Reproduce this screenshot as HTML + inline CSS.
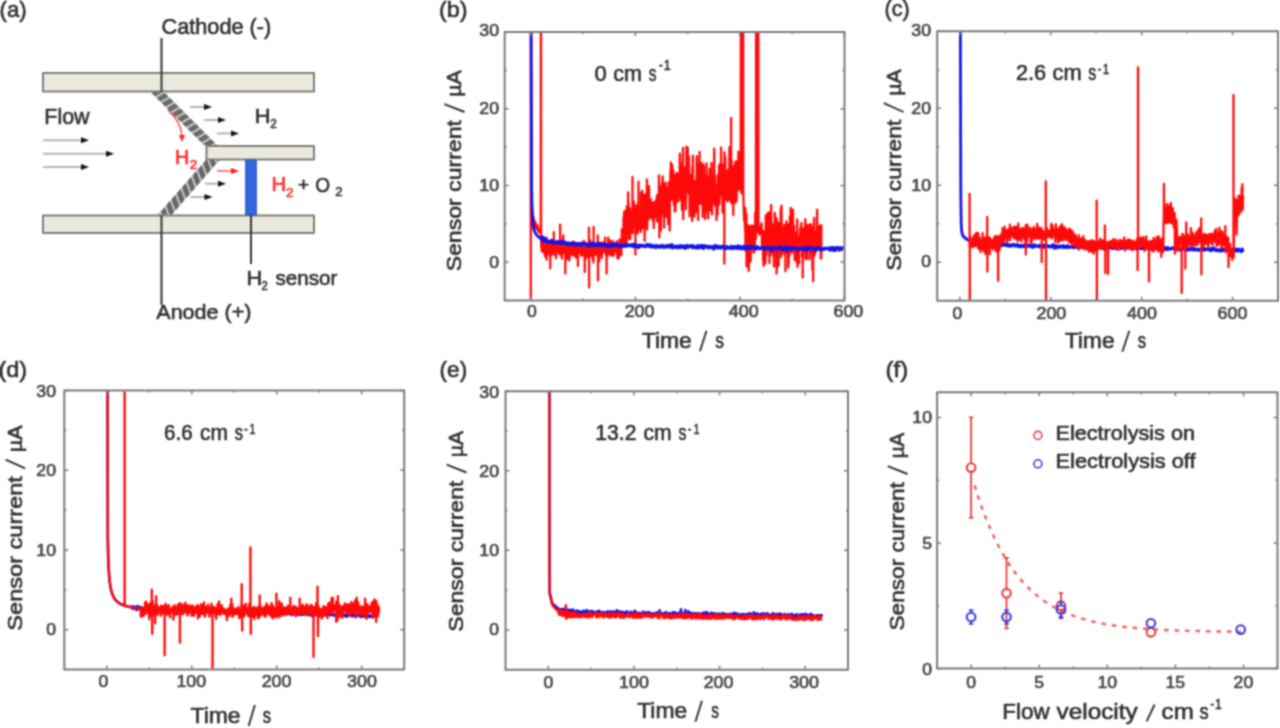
<!DOCTYPE html><html><head><meta charset="utf-8"><style>html,body{margin:0;padding:0;background:#fff;width:1280px;height:728px;overflow:hidden}</style></head><body><svg width="1280" height="728" viewBox="0 0 1280 728" style="position:absolute;left:0;top:0">
<defs><filter id="soft" x="0" y="0" width="1280" height="728" filterUnits="userSpaceOnUse" color-interpolation-filters="sRGB"><feConvolveMatrix order="5" kernelMatrix="0.0005 0.0050 0.0109 0.0050 0.0005 0.0050 0.0522 0.1141 0.0522 0.0050 0.0109 0.1141 0.2491 0.1141 0.0109 0.0050 0.0522 0.1141 0.0522 0.0050 0.0005 0.0050 0.0109 0.0050 0.0005" edgeMode="duplicate"/></filter></defs>
<g filter="url(#soft)"><rect width="1280" height="728" fill="#fff"/>
<g font-family='"Liberation Sans", sans-serif' stroke-linejoin="round">
<text x="-0.5" y="16.6" font-size="22.5" text-anchor="start" fill="#303030" stroke="#303030" stroke-width="0.6" textLength="27.2" lengthAdjust="spacingAndGlyphs">(a)</text>
<rect x="43" y="73" width="271" height="18.5" fill="#ebe9de" stroke="#7d7c74" stroke-width="2"/>
<rect x="206.5" y="146" width="107.5" height="13.5" fill="#ebe9de" stroke="#7d7c74" stroke-width="2"/>
<rect x="43" y="215.5" width="271" height="17.5" fill="#ebe9de" stroke="#7d7c74" stroke-width="2"/>
<defs><pattern id="hatch" patternUnits="userSpaceOnUse" width="7" height="7" patternTransform="rotate(60)"><rect width="7" height="7" fill="#6a6a6a"/><rect width="2" height="7" fill="#c8c8c8"/></pattern><pattern id="hatch2" patternUnits="userSpaceOnUse" width="7" height="7" patternTransform="rotate(-20)"><rect width="7" height="7" fill="#666666"/><rect width="2" height="7" fill="#c8c8c8"/></pattern></defs>
<polygon points="150.5,92 164,92 217,145 204,145" fill="url(#hatch)"/>
<polygon points="206,160 219.5,160 172,214.5 158,214.5" fill="url(#hatch2)"/>
<path d="M161.5,38 V92 M161.5,215 V305 M251,215 V264" stroke="#333" stroke-width="2" fill="none"/>
<rect x="245.5" y="160" width="11" height="55" fill="#3366e0" stroke="#2a4fb0" stroke-width="0.8"/>
<path d="M43,140.3 H82" stroke="#b4b4b4" stroke-width="2.0"/>
<polygon points="89,140.3 81,137.3 81,143.3" fill="#111"/>
<path d="M43,153.8 H107" stroke="#b4b4b4" stroke-width="2.0"/>
<polygon points="114,153.8 106,150.8 106,156.8" fill="#111"/>
<path d="M43,167 H82" stroke="#b4b4b4" stroke-width="2.0"/>
<polygon points="89,167 81,164.0 81,170.0" fill="#111"/>
<path d="M190,107 H205" stroke="#b4b4b4" stroke-width="2.0"/>
<polygon points="212,107 204,104.0 204,110.0" fill="#111"/>
<path d="M204,120 H219" stroke="#b4b4b4" stroke-width="2.0"/>
<polygon points="226,120 218,117.0 218,123.0" fill="#111"/>
<path d="M217,133.4 H232" stroke="#b4b4b4" stroke-width="2.0"/>
<polygon points="239,133.4 231,130.4 231,136.4" fill="#111"/>
<path d="M205,183.7 H219" stroke="#b4b4b4" stroke-width="2.0"/>
<polygon points="226,183.7 218,180.7 218,186.7" fill="#111"/>
<path d="M190.5,197 H205.5" stroke="#b4b4b4" stroke-width="2.0"/>
<polygon points="212.5,197 204.5,194.0 204.5,200.0" fill="#111"/>
<path d="M217,170.9 H232" stroke="#f08080" stroke-width="2.0"/>
<polygon points="239,170.9 231,167.9 231,173.9" fill="#ff1a1a"/>
<path d="M168,110 Q181,122 182,136" stroke="#ff3030" stroke-width="1.3" fill="none"/>
<polygon points="182,142 179,135 185,135" fill="#ff2020"/>
<text x="161.6" y="34.3" font-size="21.5" text-anchor="start" fill="#303030" stroke="#303030" stroke-width="0.6" textLength="109.6" lengthAdjust="spacingAndGlyphs">Cathode (-)</text>
<text x="44.3" y="123.6" font-size="21.5" text-anchor="start" fill="#303030" stroke="#303030" stroke-width="0.6" textLength="45.3" lengthAdjust="spacingAndGlyphs">Flow</text>
<text x="254.8" y="122.9" font-size="20.0" text-anchor="start" fill="#303030" stroke="#303030" stroke-width="0.6" textLength="15.8" lengthAdjust="spacingAndGlyphs">H</text>
<text x="270.3" y="128.2" font-size="13.5" text-anchor="start" fill="#303030" stroke="#303030" stroke-width="0.6" textLength="6.6" lengthAdjust="spacingAndGlyphs">2</text>
<text x="175.1" y="163.6" font-size="20.0" text-anchor="start" fill="#ff2a2a" stroke="#ff2a2a" stroke-width="0.6" textLength="14.2" lengthAdjust="spacingAndGlyphs">H</text>
<text x="189.8" y="169.1" font-size="13.5" text-anchor="start" fill="#ff2a2a" stroke="#ff2a2a" stroke-width="0.6" textLength="7.6" lengthAdjust="spacingAndGlyphs">2</text>
<text x="271.5" y="190.9" font-size="20.0" text-anchor="start" fill="#ff2a2a" stroke="#ff2a2a" stroke-width="0.6" textLength="14.7" lengthAdjust="spacingAndGlyphs">H</text>
<text x="286.0" y="197.1" font-size="13.5" text-anchor="start" fill="#ff2a2a" stroke="#ff2a2a" stroke-width="0.6" textLength="7.6" lengthAdjust="spacingAndGlyphs">2</text>
<text x="298.0" y="190.5" font-size="19.0" text-anchor="start" fill="#303030" stroke="#303030" stroke-width="0.6" textLength="11.1" lengthAdjust="spacingAndGlyphs">+</text>
<text x="315.3" y="191.8" font-size="20.5" text-anchor="start" fill="#303030" stroke="#303030" stroke-width="0.6" textLength="14.8" lengthAdjust="spacingAndGlyphs">O</text>
<text x="335.2" y="196.2" font-size="13.5" text-anchor="start" fill="#303030" stroke="#303030" stroke-width="0.6" textLength="7.4" lengthAdjust="spacingAndGlyphs">2</text>
<text x="246.4" y="285.1" font-size="20.0" text-anchor="start" fill="#303030" stroke="#303030" stroke-width="0.6" textLength="15.6" lengthAdjust="spacingAndGlyphs">H</text>
<text x="261.5" y="290.1" font-size="13.5" text-anchor="start" fill="#303030" stroke="#303030" stroke-width="0.6" textLength="6.3" lengthAdjust="spacingAndGlyphs">2</text>
<text x="275.5" y="285.1" font-size="21.0" text-anchor="start" fill="#303030" stroke="#303030" stroke-width="0.6" textLength="61.8" lengthAdjust="spacingAndGlyphs">sensor</text>
<text x="156.3" y="318.9" font-size="21.0" text-anchor="start" fill="#303030" stroke="#303030" stroke-width="0.6" textLength="95.1" lengthAdjust="spacingAndGlyphs">Anode (+)</text>
<text x="439.0" y="16.5" font-size="22.5" text-anchor="start" fill="#303030" stroke="#303030" stroke-width="0.6" textLength="28.6" lengthAdjust="spacingAndGlyphs">(b)</text>
<clipPath id="c1"><rect x="505.7" y="33.0" width="337.8" height="266.5"/></clipPath>
<g clip-path="url(#c1)">
<path d="M530.8,338.9 L530.8,-83.1 L531.6,200.8 L532.4,212.3 L533.2,216.1 L534.0,219.2 L534.8,226.9 L535.5,222.3 L536.6,229.2 L537.6,225.3 L538.7,232.2 L539.7,229.9 L540.8,233.0 L540.9,-83.1 L541.0,-83.1 L541.1,233.0 L541.2,246.8 L541.4,245.5 L541.6,248.2 L541.8,251.0 L542.0,249.1 L542.2,251.6 L542.4,246.8 L542.7,241.0 L542.9,249.4 L543.1,250.1 L543.3,245.0 L543.5,245.7 L543.7,246.9 L543.9,251.7 L544.1,247.6 L544.3,244.3 L544.5,253.7 L544.7,249.7 L545.0,256.4 L545.2,253.6 L545.4,256.2 L545.6,248.8 L545.8,253.6 L546.0,246.6 L546.2,247.2 L546.4,248.8 L546.5,259.6 L546.5,237.6 L546.5,259.6 L546.6,259.6 L546.8,250.5 L547.0,248.3 L547.3,247.6 L547.5,255.2 L547.7,250.4 L547.9,252.8 L548.1,252.0 L548.3,243.5 L548.5,252.1 L548.7,248.6 L548.9,244.4 L549.1,251.2 L549.3,249.1 L549.6,248.1 L549.8,248.4 L550.0,254.4 L550.2,248.4 L550.2,242.6 L550.2,268.3 L550.2,242.6 L550.4,242.6 L550.6,256.0 L550.8,244.9 L551.0,248.4 L551.2,251.9 L551.4,239.8 L551.6,245.6 L551.9,254.6 L552.1,248.8 L552.3,246.5 L552.5,250.0 L552.7,246.0 L552.9,249.4 L553.1,246.0 L553.3,242.5 L553.5,252.2 L553.7,248.2 L553.8,251.3 L553.8,232.2 L553.8,251.3 L553.9,251.3 L554.2,248.5 L554.4,254.6 L554.6,251.8 L554.8,250.0 L555.0,245.0 L555.2,243.9 L555.4,255.2 L555.6,252.8 L555.8,246.2 L556.0,258.3 L556.2,251.3 L556.5,249.6 L556.7,243.4 L556.9,246.0 L557.1,250.7 L557.3,250.9 L557.5,250.3 L557.7,242.2 L557.9,251.1 L558.1,250.6 L558.3,247.6 L558.5,249.7 L558.8,250.1 L559.0,254.3 L559.2,249.2 L559.4,251.2 L559.6,243.8 L559.8,246.2 L560.0,249.3 L560.1,246.1 L560.1,224.6 L560.1,246.1 L560.2,246.1 L560.4,250.8 L560.6,244.4 L560.8,249.2 L561.1,246.5 L561.3,255.1 L561.5,247.6 L561.7,257.0 L561.9,258.6 L562.1,250.6 L562.3,253.4 L562.5,248.5 L562.7,238.9 L562.9,253.1 L563.1,252.1 L563.2,248.3 L563.3,235.3 L563.3,248.3 L563.4,248.3 L563.6,247.0 L563.8,250.0 L564.0,250.2 L564.2,246.0 L564.4,246.8 L564.6,254.0 L564.8,249.6 L565.0,249.1 L565.2,254.1 L565.3,248.1 L565.3,273.6 L565.3,248.1 L565.4,248.1 L565.7,253.2 L565.9,244.8 L566.1,248.4 L566.3,248.8 L566.5,252.0 L566.7,249.8 L566.9,258.5 L567.1,254.5 L567.3,247.6 L567.5,259.1 L567.7,245.4 L568.0,257.3 L568.2,245.8 L568.4,253.2 L568.6,245.7 L568.8,248.7 L569.0,256.4 L569.2,243.5 L569.4,242.7 L569.5,249.6 L569.5,260.6 L569.5,249.6 L569.6,249.6 L569.8,250.6 L570.0,250.0 L570.3,253.8 L570.5,244.2 L570.7,251.8 L570.9,249.5 L571.1,253.0 L571.3,252.2 L571.5,255.2 L571.7,243.5 L571.9,250.0 L572.1,244.9 L572.3,249.3 L572.6,252.5 L572.8,250.8 L573.0,251.9 L573.2,249.3 L573.4,251.1 L573.6,250.7 L573.8,255.7 L574.0,253.1 L574.2,241.7 L574.4,252.4 L574.6,254.2 L574.9,247.8 L575.1,242.9 L575.3,256.1 L575.5,250.3 L575.7,252.3 L575.9,257.5 L576.1,246.0 L576.3,249.5 L576.5,249.0 L576.7,252.8 L576.9,247.3 L577.2,251.9 L577.4,250.0 L577.6,254.5 L577.8,255.0 L577.9,243.2 L577.9,266.0 L577.9,243.2 L578.0,243.2 L578.2,251.7 L578.4,248.1 L578.6,249.6 L578.8,251.4 L579.0,251.7 L579.2,246.5 L579.5,250.8 L579.7,250.1 L579.9,249.3 L580.1,244.0 L580.3,246.3 L580.5,247.7 L580.7,252.0 L580.9,255.8 L581.1,245.1 L581.3,245.0 L581.5,250.1 L581.8,246.9 L582.0,245.8 L582.2,245.6 L582.4,245.2 L582.6,251.5 L582.8,242.5 L583.0,255.2 L583.2,245.5 L583.4,247.2 L583.6,245.4 L583.8,240.8 L584.1,242.6 L584.3,254.7 L584.5,257.2 L584.7,245.7 L584.7,254.1 L584.7,272.1 L584.7,254.1 L584.9,254.1 L585.1,249.5 L585.3,245.6 L585.5,257.0 L585.7,259.2 L585.9,248.3 L586.1,249.3 L586.4,250.6 L586.6,249.3 L586.8,253.4 L587.0,256.5 L587.2,250.3 L587.4,254.0 L587.6,257.1 L587.8,247.2 L588.0,249.8 L588.2,247.6 L588.4,254.1 L588.7,252.5 L588.9,254.1 L588.9,253.6 L588.9,227.6 L588.9,253.6 L589.1,253.6 L589.1,248.6 L589.1,287.5 L589.1,248.6 L589.3,248.6 L589.5,253.1 L589.7,247.9 L589.9,248.0 L590.1,240.2 L590.3,255.9 L590.5,245.4 L590.7,249.9 L591.0,249.6 L591.2,256.2 L591.4,251.7 L591.6,246.1 L591.8,249.9 L592.0,249.2 L592.2,250.9 L592.4,244.2 L592.6,249.6 L592.8,259.7 L593.0,252.7 L593.3,258.6 L593.5,262.6 L593.6,252.0 L593.6,226.9 L593.6,252.0 L593.7,252.0 L593.9,243.4 L594.1,249.3 L594.3,255.0 L594.5,253.9 L594.7,244.4 L594.9,248.8 L595.1,249.4 L595.3,249.8 L595.6,249.4 L595.8,245.9 L596.0,247.0 L596.2,248.6 L596.4,254.4 L596.6,247.2 L596.8,252.7 L597.0,244.6 L597.2,255.4 L597.4,250.2 L597.6,249.6 L597.7,255.7 L597.8,235.3 L597.8,255.7 L597.9,255.7 L598.0,241.7 L598.0,280.6 L598.0,241.7 L598.1,241.7 L598.3,242.9 L598.5,251.7 L598.7,246.1 L598.9,247.9 L599.1,261.6 L599.3,248.5 L599.5,249.9 L599.7,249.2 L599.9,254.6 L600.2,250.9 L600.4,250.5 L600.6,244.2 L600.8,248.1 L601.0,249.7 L601.2,242.6 L601.4,252.2 L601.6,251.4 L601.8,258.0 L602.0,242.4 L602.2,245.2 L602.5,245.4 L602.7,246.6 L602.9,249.2 L603.1,248.7 L603.3,250.8 L603.5,250.6 L603.7,249.4 L603.9,242.7 L604.1,247.1 L604.3,249.9 L604.5,252.3 L604.8,252.6 L605.0,242.3 L605.1,247.4 L605.1,237.6 L605.1,247.4 L605.2,247.4 L605.4,249.4 L605.6,251.3 L605.8,254.8 L606.0,250.0 L606.2,245.7 L606.4,251.5 L606.6,250.7 L606.6,250.7 L606.6,273.6 L606.6,250.7 L606.8,250.7 L607.1,249.2 L607.3,257.0 L607.5,250.8 L607.7,253.6 L607.9,245.6 L608.1,253.3 L608.2,247.1 L608.2,237.6 L608.2,247.1 L608.3,247.1 L608.5,242.7 L608.7,251.2 L608.9,252.5 L609.1,248.8 L609.4,249.7 L609.6,254.3 L609.8,247.6 L610.0,240.5 L610.2,250.9 L610.4,250.7 L610.6,254.6 L610.8,248.3 L611.0,255.5 L611.2,254.8 L611.4,243.9 L611.7,253.9 L611.9,244.8 L612.1,242.7 L612.3,248.6 L612.5,247.2 L612.7,240.8 L612.9,250.7 L613.1,252.5 L613.3,256.0 L613.5,249.6 L613.7,243.0 L614.0,245.4 L614.2,254.1 L614.4,253.7 L614.6,252.1 L614.8,248.4 L615.0,250.7 L615.2,248.8 L615.4,248.4 L615.6,251.2 L615.8,250.0 L616.0,248.9 L616.3,250.2 L616.5,247.5 L616.7,241.2 L616.9,247.1 L617.1,249.6 L617.3,257.6 L617.5,248.0 L617.7,258.8 L617.9,256.3 L618.1,245.9 L618.4,246.6 L618.6,250.5 L618.8,257.7 L619.0,251.5 L619.2,253.0 L619.4,246.9 L619.6,239.5 L619.8,248.8 L620.0,253.4 L620.2,255.2 L620.4,250.1 L620.7,250.7 L620.9,255.2 L621.1,249.3 L621.3,255.2 L621.5,244.7 L621.7,245.0 L621.8,229.3 L622.0,237.2 L622.2,229.6 L622.4,233.1 L622.6,234.2 L622.8,233.0 L623.1,241.4 L623.3,242.7 L623.5,217.9 L623.7,227.9 L623.9,221.9 L624.1,212.0 L624.3,245.6 L624.5,233.7 L624.7,221.8 L624.9,219.0 L625.1,228.1 L625.4,211.0 L625.6,220.7 L625.8,237.6 L626.0,234.0 L626.2,213.2 L626.4,217.1 L626.6,244.7 L626.8,206.6 L627.0,215.2 L627.2,206.4 L627.4,226.2 L627.7,225.0 L627.9,234.3 L628.1,192.5 L628.3,223.1 L628.5,203.1 L628.7,228.1 L628.9,218.8 L629.1,239.0 L629.3,224.5 L629.5,209.4 L629.7,233.7 L630.0,208.2 L630.2,216.0 L630.2,239.1 L630.2,216.0 L630.2,216.0 L630.4,230.7 L630.6,224.7 L630.8,224.1 L631.0,219.6 L631.2,224.5 L631.4,227.4 L631.6,221.7 L631.8,229.0 L632.0,231.5 L632.3,218.5 L632.5,208.9 L632.5,233.3 L632.5,177.0 L632.5,233.3 L632.7,233.3 L632.9,217.5 L633.1,224.0 L633.3,227.2 L633.5,208.5 L633.7,222.3 L633.9,201.6 L634.1,224.7 L634.3,212.7 L634.6,218.8 L634.8,224.1 L635.0,210.2 L635.2,217.7 L635.4,209.7 L635.4,254.5 L635.4,209.7 L635.4,209.7 L635.6,216.3 L635.8,226.9 L636.0,216.6 L636.2,214.9 L636.4,205.3 L636.6,224.6 L636.9,215.4 L637.1,232.8 L637.3,207.9 L637.5,225.9 L637.7,233.4 L637.9,215.0 L638.1,202.6 L638.3,230.1 L638.5,225.4 L638.5,181.6 L638.5,225.4 L638.5,225.4 L638.7,221.6 L638.9,225.6 L639.2,209.5 L639.4,221.9 L639.6,220.9 L639.8,206.9 L640.0,221.0 L640.2,208.2 L640.4,223.1 L640.6,225.5 L640.8,232.1 L641.0,192.4 L641.2,215.6 L641.5,209.4 L641.7,212.2 L641.9,210.1 L642.1,211.1 L642.3,190.9 L642.5,222.6 L642.7,228.1 L642.9,222.1 L643.1,225.5 L643.3,202.7 L643.5,201.8 L643.8,221.0 L644.0,225.6 L644.2,214.2 L644.4,194.9 L644.6,240.9 L644.8,204.1 L645.0,221.6 L645.2,198.2 L645.4,221.4 L645.6,212.5 L645.8,225.8 L646.1,219.9 L646.3,193.6 L646.5,199.7 L646.7,213.1 L646.9,218.2 L646.9,179.3 L646.9,218.2 L646.9,218.2 L647.1,229.5 L647.3,212.7 L647.5,208.5 L647.7,208.9 L647.9,208.9 L648.1,220.3 L648.4,208.3 L648.6,207.9 L648.8,192.8 L649.0,186.2 L649.2,208.6 L649.4,215.6 L649.6,207.5 L649.8,213.5 L650.0,214.9 L650.2,207.0 L650.4,218.1 L650.7,199.2 L650.9,207.2 L651.1,203.0 L651.3,207.8 L651.5,213.9 L651.7,216.3 L651.9,208.0 L652.1,211.5 L652.3,202.3 L652.5,204.9 L652.7,220.5 L653.0,203.8 L653.2,220.0 L653.4,211.5 L653.6,207.6 L653.8,228.2 L654.0,202.9 L654.2,202.1 L654.4,205.5 L654.6,208.5 L654.8,207.8 L655.0,214.7 L655.3,206.3 L655.5,209.5 L655.7,201.8 L655.9,216.9 L656.1,199.8 L656.3,200.8 L656.5,204.0 L656.7,207.4 L656.9,195.5 L657.1,221.6 L657.3,196.3 L657.6,198.8 L657.8,198.1 L658.0,196.8 L658.2,209.0 L658.4,204.2 L658.6,193.4 L658.8,195.7 L658.9,198.2 L658.9,175.5 L658.9,198.2 L659.0,198.2 L659.2,218.7 L659.4,193.9 L659.4,237.6 L659.4,193.9 L659.4,193.9 L659.6,186.2 L659.9,187.9 L660.1,197.2 L660.3,218.8 L660.5,188.2 L660.7,201.4 L660.9,230.4 L661.1,194.7 L661.3,217.5 L661.5,215.0 L661.7,206.7 L661.9,183.0 L662.2,203.2 L662.4,195.1 L662.6,176.5 L662.8,178.3 L663.0,199.3 L663.2,200.9 L663.4,213.6 L663.6,206.4 L663.8,192.1 L664.0,192.3 L664.1,195.8 L664.1,227.6 L664.1,195.8 L664.2,195.8 L664.5,184.4 L664.7,206.8 L664.9,197.5 L665.1,187.3 L665.3,189.0 L665.5,182.6 L665.7,191.1 L665.9,200.1 L666.1,191.3 L666.3,208.8 L666.5,217.0 L666.8,188.0 L667.0,196.1 L667.2,191.2 L667.4,217.3 L667.6,199.8 L667.8,202.7 L668.0,206.1 L668.2,224.3 L668.4,198.8 L668.6,182.3 L668.8,189.1 L669.1,202.0 L669.3,194.0 L669.5,183.6 L669.7,230.6 L669.9,195.1 L670.1,186.0 L670.3,183.9 L670.5,170.0 L670.7,177.5 L670.9,188.5 L670.9,162.4 L670.9,188.5 L670.9,188.5 L671.1,188.5 L671.4,181.7 L671.6,199.7 L671.8,192.7 L672.0,179.6 L672.2,165.0 L672.4,193.9 L672.6,192.3 L672.8,188.7 L673.0,172.7 L673.2,191.6 L673.4,170.6 L673.7,204.4 L673.9,193.4 L674.1,193.4 L674.3,179.4 L674.5,175.6 L674.7,211.5 L674.9,203.0 L675.1,185.2 L675.3,199.1 L675.5,211.2 L675.8,174.7 L676.0,182.3 L676.2,182.2 L676.4,195.9 L676.6,174.2 L676.8,192.2 L677.0,172.9 L677.2,201.7 L677.4,200.7 L677.6,185.3 L677.8,198.3 L678.1,178.1 L678.3,184.0 L678.5,201.1 L678.7,186.5 L678.9,192.5 L679.1,173.8 L679.3,196.4 L679.5,193.4 L679.7,169.0 L679.9,153.6 L680.1,156.9 L680.4,185.5 L680.6,183.0 L680.8,163.3 L681.0,187.8 L681.2,200.4 L681.4,184.0 L681.6,178.8 L681.8,197.9 L682.0,210.1 L682.2,206.8 L682.4,175.0 L682.7,196.4 L682.9,186.9 L683.0,181.4 L683.0,147.8 L683.0,181.4 L683.1,181.4 L683.2,175.3 L683.2,219.2 L683.2,175.3 L683.3,175.3 L683.5,189.8 L683.7,177.2 L683.9,198.3 L684.1,190.3 L684.3,200.4 L684.5,167.7 L684.7,185.3 L685.0,196.1 L685.2,190.3 L685.4,188.3 L685.6,174.3 L685.8,209.3 L686.0,200.8 L686.2,190.8 L686.4,146.6 L686.6,170.6 L686.8,186.8 L687.0,174.3 L687.3,153.9 L687.5,188.8 L687.7,190.8 L687.7,147.8 L687.7,190.8 L687.7,190.8 L687.9,166.8 L688.1,177.8 L688.3,175.1 L688.5,193.1 L688.7,156.1 L688.9,159.4 L689.1,176.8 L689.3,175.0 L689.6,216.4 L689.8,175.8 L690.0,188.5 L690.2,178.9 L690.4,175.2 L690.6,190.8 L690.8,211.4 L691.0,180.1 L691.2,197.0 L691.4,190.8 L691.6,195.0 L691.9,191.0 L692.1,221.0 L692.3,167.2 L692.5,182.0 L692.7,168.9 L692.9,155.7 L693.1,185.6 L693.3,213.5 L693.5,199.6 L693.7,204.4 L693.9,193.7 L694.2,184.8 L694.4,216.7 L694.6,180.9 L694.8,209.2 L695.0,181.6 L695.2,187.9 L695.4,191.0 L695.6,187.4 L695.8,194.5 L696.0,195.7 L696.2,212.1 L696.5,186.8 L696.7,158.1 L696.9,156.1 L697.1,166.2 L697.3,175.6 L697.5,196.8 L697.7,164.4 L697.9,187.4 L698.1,187.6 L698.1,219.9 L698.1,187.6 L698.1,187.6 L698.3,191.0 L698.5,185.2 L698.8,193.3 L699.0,187.9 L699.2,203.3 L699.4,192.4 L699.6,151.8 L699.8,187.8 L700.0,190.4 L700.2,178.6 L700.4,176.0 L700.6,203.9 L700.8,190.1 L701.1,172.8 L701.3,182.8 L701.5,185.1 L701.7,163.2 L701.9,197.4 L702.1,185.8 L702.3,195.0 L702.5,164.2 L702.7,217.1 L702.9,197.4 L703.1,195.3 L703.3,177.0 L703.4,164.7 L703.4,177.0 L703.4,177.0 L703.6,177.9 L703.8,165.8 L704.0,211.4 L704.2,175.8 L704.4,191.8 L704.6,197.6 L704.8,179.1 L705.0,201.5 L705.2,219.3 L705.4,193.1 L705.7,210.5 L705.9,197.5 L706.1,181.8 L706.3,182.8 L706.5,163.2 L706.7,190.7 L706.9,211.2 L707.1,199.3 L707.3,201.8 L707.5,206.5 L707.7,181.0 L708.0,197.7 L708.2,218.2 L708.4,177.1 L708.6,189.6 L708.8,182.4 L709.0,186.3 L709.2,178.2 L709.4,187.4 L709.6,168.9 L709.8,181.5 L710.0,182.0 L710.3,181.7 L710.5,210.5 L710.7,190.6 L710.9,192.1 L711.1,185.0 L711.3,209.1 L711.5,163.0 L711.7,186.6 L711.9,206.9 L712.1,214.6 L712.3,192.7 L712.6,189.7 L712.8,199.4 L713.0,187.0 L713.2,198.3 L713.4,179.9 L713.6,199.7 L713.8,189.1 L714.0,173.3 L714.2,148.6 L714.4,203.8 L714.6,195.4 L714.9,201.1 L715.1,175.9 L715.3,205.7 L715.5,195.4 L715.7,188.3 L715.9,202.9 L716.1,202.5 L716.3,195.0 L716.5,220.0 L716.7,209.8 L716.9,193.8 L717.2,185.0 L717.4,190.1 L717.6,214.6 L717.8,194.3 L718.0,174.7 L718.2,178.4 L718.4,188.1 L718.6,200.6 L718.8,177.0 L719.0,195.7 L719.0,166.2 L719.0,195.7 L719.0,195.7 L719.2,204.7 L719.5,199.0 L719.7,164.1 L719.9,183.0 L720.1,168.4 L720.3,193.7 L720.5,171.7 L720.7,195.4 L720.9,188.5 L721.1,147.4 L721.3,174.0 L721.5,193.6 L721.8,187.1 L722.0,180.6 L722.2,166.8 L722.4,193.1 L722.6,212.5 L722.8,189.7 L723.0,185.1 L723.2,183.5 L723.4,164.7 L723.6,180.2 L723.8,172.4 L724.1,202.0 L724.3,171.4 L724.3,263.7 L724.3,171.4 L724.3,171.4 L724.5,152.3 L724.7,172.7 L724.9,180.7 L725.1,182.2 L725.3,156.8 L725.5,198.9 L725.7,186.1 L725.9,177.2 L726.1,172.7 L726.4,191.0 L726.6,179.3 L726.8,188.3 L727.0,182.1 L727.2,185.9 L727.4,201.6 L727.6,184.1 L727.8,170.0 L728.0,198.6 L728.2,187.3 L728.4,173.1 L728.7,200.0 L728.9,180.5 L729.1,199.7 L729.3,165.5 L729.5,147.1 L729.7,151.5 L729.9,186.3 L730.1,171.3 L730.3,180.9 L730.5,181.1 L730.7,158.5 L731.0,203.1 L731.1,166.1 L731.1,117.9 L731.1,166.1 L731.2,166.1 L731.4,183.2 L731.6,160.4 L731.8,179.4 L732.0,192.7 L732.2,177.8 L732.4,170.6 L732.6,181.4 L732.8,174.3 L733.0,190.0 L733.3,215.1 L733.5,167.7 L733.7,170.7 L733.9,179.3 L734.1,180.4 L734.3,165.3 L734.5,188.5 L734.7,192.3 L734.9,184.1 L735.1,162.6 L735.3,202.7 L735.6,162.4 L735.8,190.9 L736.0,198.0 L736.2,161.1 L736.4,182.2 L736.6,200.9 L736.8,186.2 L737.0,165.9 L737.2,161.8 L737.4,187.0 L737.6,173.9 L737.9,169.0 L738.1,190.2 L738.3,174.5 L738.4,180.5 L738.4,151.7 L738.4,180.5 L738.5,180.5 L738.7,188.3 L738.9,187.5 L739.1,178.7 L739.3,179.2 L739.5,188.5 L739.7,186.2 L739.9,162.1 L740.2,176.1 L740.4,165.5 L740.7,185.4 L741.0,-83.1 L741.3,193.1 L741.5,-83.1 L741.8,193.1 L742.0,-83.1 L742.3,193.1 L742.6,-83.1 L742.8,193.1 L743.1,-83.1 L743.3,193.1 L744.1,219.9 L744.9,222.5 L745.1,231.0 L745.3,207.8 L745.5,250.6 L745.7,228.1 L746.0,243.7 L746.2,213.7 L746.4,215.9 L746.6,266.4 L746.8,252.8 L747.0,230.3 L747.2,228.6 L747.4,229.3 L747.6,240.5 L747.8,233.3 L748.0,230.6 L748.3,240.7 L748.5,225.5 L748.7,270.9 L748.9,230.9 L749.1,254.0 L749.3,226.5 L749.5,242.9 L749.7,252.1 L749.9,234.7 L750.1,252.5 L750.3,252.5 L750.6,261.6 L750.8,240.3 L751.0,233.1 L751.2,225.9 L751.4,242.0 L751.6,225.6 L751.8,239.9 L752.0,241.4 L752.2,232.3 L752.4,225.6 L752.6,245.0 L752.9,243.6 L753.1,242.5 L753.3,239.2 L753.5,252.8 L753.7,226.2 L753.9,245.9 L754.1,234.1 L754.3,251.9 L754.5,235.6 L754.7,235.1 L754.9,246.4 L755.2,212.7 L755.4,235.5 L755.6,216.1 L755.9,239.1 L756.2,-83.1 L756.4,231.5 L756.7,-83.1 L756.9,231.5 L757.2,-83.1 L757.5,231.5 L757.7,-83.1 L758.0,231.5 L758.2,-83.1 L758.5,231.5 L759.3,234.5 L761.6,223.3 L761.9,244.9 L762.1,241.2 L762.3,230.3 L762.5,235.3 L762.7,235.5 L762.9,240.0 L763.1,260.3 L763.3,239.2 L763.5,265.8 L763.7,231.3 L763.9,245.9 L764.2,245.8 L764.4,239.2 L764.6,232.7 L764.8,255.4 L765.0,259.6 L765.2,250.6 L765.4,263.5 L765.6,249.3 L765.8,215.4 L766.0,250.5 L766.2,227.9 L766.5,254.7 L766.7,232.6 L766.9,240.8 L767.1,237.4 L767.3,229.1 L767.5,213.4 L767.7,234.1 L767.9,235.0 L768.1,249.6 L768.3,229.0 L768.5,240.0 L768.7,225.8 L768.7,212.3 L768.7,225.8 L768.8,225.8 L769.0,237.4 L769.2,213.9 L769.4,263.0 L769.6,240.8 L769.8,225.3 L770.0,241.5 L770.2,247.3 L770.4,240.4 L770.6,255.1 L770.8,235.4 L771.1,204.9 L771.3,222.0 L771.5,251.6 L771.7,248.5 L771.9,242.4 L772.1,223.9 L772.3,247.9 L772.5,246.2 L772.7,225.6 L772.9,225.9 L773.1,242.1 L773.4,251.9 L773.6,257.5 L773.8,246.4 L774.0,266.5 L774.2,227.5 L774.4,245.6 L774.6,231.1 L774.8,213.0 L775.0,222.1 L775.2,252.4 L775.4,226.1 L775.7,222.4 L775.9,247.2 L776.1,249.9 L776.3,239.0 L776.5,258.4 L776.5,218.4 L776.5,273.6 L776.5,218.4 L776.7,218.4 L776.9,268.9 L777.1,252.0 L777.3,241.1 L777.5,240.6 L777.7,235.5 L778.0,234.2 L778.2,240.5 L778.4,223.0 L778.6,265.5 L778.8,237.8 L779.0,247.1 L779.2,236.1 L779.4,235.0 L779.6,249.7 L779.8,246.2 L780.0,227.7 L780.3,233.4 L780.5,246.7 L780.7,211.6 L780.9,208.2 L781.1,256.9 L781.3,234.1 L781.5,205.7 L781.7,228.0 L781.9,235.2 L782.1,240.8 L782.3,245.1 L782.6,240.9 L782.8,245.3 L783.0,228.6 L783.2,243.3 L783.4,243.9 L783.6,253.7 L783.8,238.9 L784.0,249.8 L784.2,240.6 L784.4,225.0 L784.6,233.7 L784.9,231.9 L785.1,233.8 L785.3,237.7 L785.4,240.1 L785.4,271.3 L785.4,240.1 L785.5,240.1 L785.7,242.4 L785.9,228.8 L786.1,252.4 L786.3,221.4 L786.5,238.1 L786.7,248.2 L786.9,244.9 L787.2,247.3 L787.4,236.6 L787.6,247.8 L787.8,224.1 L788.0,248.7 L788.2,267.7 L788.4,248.1 L788.6,264.4 L788.8,239.3 L789.0,225.3 L789.2,230.6 L789.5,255.9 L789.7,248.6 L789.9,216.3 L790.1,234.9 L790.3,238.9 L790.5,225.5 L790.7,207.8 L790.9,222.5 L791.1,237.2 L791.3,234.5 L791.5,231.2 L791.8,246.8 L792.0,252.5 L792.2,238.5 L792.2,251.1 L792.2,213.8 L792.2,251.1 L792.4,251.1 L792.6,239.9 L792.8,238.0 L793.0,209.6 L793.2,250.0 L793.4,240.8 L793.6,241.4 L793.8,233.8 L794.1,226.1 L794.3,245.5 L794.5,249.7 L794.7,260.1 L794.9,251.1 L795.1,232.7 L795.3,238.9 L795.5,252.3 L795.7,244.2 L795.9,239.1 L796.1,233.2 L796.4,247.0 L796.6,242.7 L796.8,262.4 L797.0,254.1 L797.2,219.3 L797.4,267.1 L797.6,243.9 L797.8,237.0 L798.0,244.4 L798.2,249.9 L798.4,240.5 L798.7,239.9 L798.9,240.9 L799.1,263.3 L799.3,241.7 L799.5,250.6 L799.7,246.8 L799.9,237.1 L800.1,232.0 L800.3,228.8 L800.5,246.2 L800.7,228.5 L801.0,225.4 L801.2,225.9 L801.4,222.8 L801.6,241.9 L801.8,242.3 L802.0,229.9 L802.2,257.2 L802.4,237.6 L802.6,246.8 L802.7,244.8 L802.7,277.5 L802.7,244.8 L802.8,244.8 L803.0,261.9 L803.3,251.3 L803.5,240.6 L803.7,229.4 L803.9,228.1 L804.1,241.4 L804.3,242.7 L804.5,250.6 L804.7,235.5 L804.9,243.5 L805.1,233.1 L805.3,219.1 L805.6,240.9 L805.8,258.8 L806.0,251.1 L806.2,258.3 L806.4,255.2 L806.6,224.8 L806.8,237.9 L807.0,259.1 L807.2,232.8 L807.4,225.5 L807.6,245.1 L807.9,248.9 L808.1,244.8 L808.3,237.4 L808.5,233.2 L808.7,226.7 L808.9,226.4 L809.1,226.7 L809.3,224.7 L809.5,233.1 L809.7,259.2 L809.9,242.5 L810.2,237.3 L810.4,245.6 L810.6,230.3 L810.8,245.3 L811.0,252.0 L811.2,224.1 L811.4,233.3 L811.6,238.6 L811.8,230.3 L812.0,228.7 L812.2,237.2 L812.5,270.0 L812.7,249.2 L812.9,246.6 L813.1,252.8 L813.1,239.0 L813.1,281.3 L813.1,239.0 L813.3,239.0 L813.5,227.5 L813.7,247.0 L813.9,254.6 L814.1,217.9 L814.3,246.7 L814.5,255.7 L814.8,238.7 L815.0,236.6 L815.2,249.6 L815.4,232.5 L815.6,247.2 L815.8,252.2 L816.0,239.6 L816.2,232.8 L816.4,248.9 L816.6,237.9 L816.8,242.8 L817.1,209.6 L817.3,249.8 L817.5,226.1 L817.7,242.4 L817.9,243.3 L818.1,233.7 L818.3,231.8 L818.5,227.6 L818.7,238.2 L818.9,248.7 L819.1,248.0 L819.4,236.3 L819.6,235.5 L819.8,226.4 L820.0,237.4 L820.2,230.2 L820.4,225.2 L820.6,240.3 L820.8,258.6 L821.0,255.2 L821.2,258.1 L821.4,224.6" stroke="#ff0a0a" stroke-width="2.3" fill="none" stroke-linejoin="round"/>
<path d="M530.8,-83.1 L530.9,-60.0 L530.9,-36.9 L531.0,-13.8 L531.0,9.3 L531.1,32.3 L531.2,47.7 L531.2,63.0 L531.3,78.4 L531.3,93.8 L531.4,109.2 L531.4,124.6 L531.5,140.0 L531.5,155.4 L531.6,170.8 L531.6,185.6 L531.7,188.2 L531.7,190.8 L531.8,193.4 L531.8,196.0 L531.9,198.6 L531.9,201.3 L532.0,203.9 L532.0,206.5 L532.1,209.1 L532.1,211.6 L532.2,212.4 L532.3,213.2 L532.3,214.0 L532.4,214.9 L532.4,215.7 L532.5,216.5 L532.5,217.3 L532.6,218.1 L532.6,219.0 L532.7,219.8 L532.7,220.6 L532.8,221.4 L532.8,222.3 L532.9,223.1 L532.9,223.8 L533.0,224.1 L533.0,224.4 L533.1,224.8 L533.1,225.1 L533.2,225.4 L533.3,225.7 L533.3,226.0 L533.4,226.3 L533.4,226.6 L533.5,226.9 L533.5,227.2 L533.6,227.5 L533.6,227.8 L533.7,228.1 L533.7,228.4 L533.8,228.8 L533.8,229.1 L533.9,229.4 L533.9,229.7 L534.0,229.9 L534.0,230.1 L534.1,230.2 L534.1,230.3 L534.2,230.4 L534.2,230.5 L534.3,230.6 L534.4,230.8 L534.4,230.9 L534.5,231.0 L534.5,231.1 L534.6,231.2 L534.6,231.3 L534.7,231.4 L534.7,231.6 L534.8,231.7 L534.8,231.8 L534.9,231.9 L534.9,232.0 L535.0,232.1 L535.0,232.3 L535.1,232.4 L535.1,232.5 L535.2,232.6 L535.2,232.7 L535.3,232.8 L535.3,232.9 L535.4,233.1 L535.5,233.2 L535.5,233.3 L535.6,233.4 L535.6,233.5 L535.7,233.6 L535.7,233.8 L535.8,233.9 L535.8,234.0 L535.9,234.1 L535.9,234.2 L536.0,234.3 L536.0,234.4 L536.1,234.5 L536.1,234.6 L536.2,234.6 L536.2,234.7 L536.3,234.7 L536.3,234.8 L536.4,234.8 L536.5,234.9 L536.5,234.9 L536.6,235.0 L536.6,235.0 L536.7,235.1 L536.7,235.1 L536.8,235.2 L536.8,235.2 L536.9,235.3 L536.9,235.3 L537.0,235.4 L537.0,235.4 L537.1,235.5 L537.1,235.5 L537.2,235.6 L537.2,235.6 L537.3,235.6 L537.3,235.7 L537.4,235.7 L537.4,235.8 L537.5,235.8 L537.6,235.9 L537.6,235.9 L537.7,236.0 L537.7,236.0 L537.8,236.1 L537.8,236.1 L537.9,236.2 L537.9,236.2 L538.0,236.3 L538.0,236.3 L538.1,236.4 L538.1,236.4 L538.2,236.5 L538.2,236.5 L538.3,236.6 L538.3,236.6 L538.4,236.7 L538.4,236.7 L538.5,236.8 L538.5,236.8 L538.6,236.9 L538.7,236.9 L538.7,236.9 L538.8,237.0 L538.8,237.0 L538.9,237.1 L538.9,237.1 L539.0,237.2 L539.0,237.2 L539.1,237.3 L539.1,237.3 L539.2,237.4 L539.2,237.4 L539.3,237.5 L539.3,237.5 L539.4,237.6 L539.4,237.6 L539.5,237.7 L539.5,237.7 L539.6,237.8 L539.7,237.8 L539.7,237.9 L539.8,237.9 L539.8,238.0 L539.9,238.0 L539.9,238.1 L540.0,238.1 L540.0,238.1 L540.1,238.2 L540.1,238.2 L540.2,238.3 L540.2,238.3 L540.3,238.4 L540.3,238.4 L540.4,238.4 L540.4,238.4 L540.5,238.4 L540.5,238.5 L540.6,238.5 L540.6,238.5 L540.7,238.5 L540.8,238.5 L540.8,238.6 L540.9,238.6 L540.9,238.6 L541.0,238.6 L541.0,238.6 L541.1,238.7 L541.1,238.7 L541.2,238.7 L541.2,238.7 L541.3,238.7 L541.3,239.5 L541.4,239.5 L541.4,239.1 L541.5,239.1 L541.5,238.3 L541.6,239.2 L541.6,239.0 L541.7,239.8 L541.7,237.7 L541.8,238.5 L541.9,237.6 L541.9,238.4 L542.0,237.8 L542.0,239.2 L542.1,238.5 L542.1,237.0 L542.2,240.0 L542.2,238.2 L542.3,237.8 L542.3,238.8 L542.4,238.6 L542.4,238.2 L542.5,239.7 L542.5,238.9 L542.6,239.9 L542.6,239.8 L542.7,239.7 L542.7,239.4 L542.8,239.2 L542.8,239.0 L542.9,240.4 L543.0,237.8 L543.0,238.5 L543.1,238.8 L543.1,239.7 L543.2,239.5 L543.2,239.0 L543.3,239.1 L543.3,240.8 L543.4,238.9 L543.4,237.2 L543.5,241.0 L543.5,238.8 L543.6,239.3 L543.6,239.7 L543.7,238.5 L543.7,240.6 L543.8,239.5 L543.8,238.5 L543.9,239.9 L544.0,240.0 L544.0,239.6 L544.1,240.1 L544.1,238.6 L544.2,240.5 L544.2,239.1 L544.3,240.8 L544.3,239.3 L544.4,240.0 L544.4,241.9 L544.5,239.9 L544.5,240.8 L544.6,240.3 L544.6,238.8 L544.7,240.9 L544.7,240.8 L544.8,238.9 L544.8,240.0 L544.9,238.9 L544.9,239.8 L545.0,240.8 L545.1,240.2 L545.1,239.2 L545.2,239.4 L545.2,240.2 L545.3,240.2 L545.3,240.3 L545.4,240.7 L545.4,238.7 L545.5,240.3 L545.5,241.2 L545.6,240.7 L545.6,239.8 L545.7,239.8 L545.7,240.5 L545.8,240.9 L545.8,240.4 L545.9,241.8 L545.9,241.5 L546.0,239.8 L546.0,240.9 L546.1,240.2 L546.2,239.6 L546.2,240.0 L546.3,240.6 L546.3,238.9 L546.4,240.1 L546.4,240.9 L546.5,240.1 L546.5,240.3 L546.5,241.3 L546.8,240.7 L547.1,240.9 L547.5,242.4 L547.8,241.0 L548.1,241.1 L548.4,241.3 L548.7,242.3 L549.0,241.3 L549.3,241.1 L549.7,241.1 L550.0,242.1 L550.3,240.8 L550.6,242.3 L550.9,241.5 L551.2,240.4 L551.5,242.0 L551.9,241.9 L552.2,240.7 L552.5,241.9 L552.8,241.9 L553.1,241.5 L553.4,240.9 L553.7,243.6 L554.0,242.5 L554.4,242.7 L554.7,242.8 L555.0,242.7 L555.3,242.7 L555.6,241.9 L555.9,242.9 L556.2,242.1 L556.6,242.0 L556.9,242.9 L557.2,242.3 L557.5,241.1 L557.8,242.2 L558.1,243.0 L558.4,242.6 L558.8,243.3 L559.1,242.5 L559.4,242.0 L559.7,243.4 L560.0,243.0 L560.3,242.0 L560.6,243.3 L560.9,242.8 L561.3,243.8 L561.6,243.6 L561.9,243.4 L562.2,241.4 L562.5,243.4 L562.8,243.5 L563.1,243.5 L563.5,243.2 L563.8,242.6 L564.1,243.0 L564.4,241.6 L564.7,243.0 L565.0,242.1 L565.3,243.0 L565.7,242.8 L566.0,244.4 L566.3,243.4 L566.6,243.3 L566.9,243.5 L567.2,245.0 L567.5,242.7 L567.9,243.6 L568.2,243.7 L568.5,243.6 L568.8,243.6 L569.1,243.1 L569.4,244.4 L569.7,244.2 L570.0,243.3 L570.4,243.4 L570.7,243.8 L571.0,244.0 L571.3,244.2 L571.6,243.6 L571.9,242.7 L572.2,244.4 L572.6,242.4 L572.9,243.0 L573.2,244.0 L573.5,243.1 L573.8,244.8 L574.1,245.0 L574.4,244.7 L574.8,244.1 L575.1,244.0 L575.4,244.2 L575.7,243.7 L576.0,245.4 L576.3,243.4 L576.6,244.9 L576.9,244.4 L577.3,244.2 L577.6,244.8 L577.9,245.0 L578.2,244.7 L578.5,244.0 L578.8,243.5 L579.1,243.6 L579.5,244.8 L579.8,244.6 L580.1,244.7 L580.4,243.7 L580.7,245.6 L581.0,243.1 L581.3,244.5 L581.7,244.7 L582.0,243.9 L582.3,243.4 L582.6,243.9 L582.9,243.4 L583.2,244.1 L583.5,243.3 L583.8,243.3 L584.2,244.3 L584.5,243.2 L584.8,244.2 L585.1,244.3 L585.4,245.0 L585.7,244.6 L586.0,243.8 L586.4,245.4 L586.7,243.9 L587.0,244.2 L587.3,244.2 L587.6,246.2 L587.9,244.6 L588.2,244.0 L588.6,245.1 L588.9,244.4 L589.2,246.3 L589.5,244.0 L589.8,245.1 L590.1,243.9 L590.4,246.0 L590.7,244.0 L591.1,244.8 L591.4,244.0 L591.7,245.3 L592.0,245.1 L592.3,242.9 L592.6,245.3 L592.9,245.2 L593.3,244.9 L593.6,245.4 L593.9,243.8 L594.2,243.4 L594.5,245.2 L594.8,246.0 L595.1,243.8 L595.5,243.9 L595.8,244.1 L596.1,243.8 L596.4,245.4 L596.7,244.9 L597.0,245.8 L597.3,245.9 L597.6,244.0 L598.0,245.3 L598.3,243.0 L598.6,244.7 L598.9,245.3 L599.2,244.2 L599.5,243.5 L599.8,244.5 L600.2,245.8 L600.5,244.6 L600.8,243.8 L601.1,245.3 L601.4,245.5 L601.7,244.1 L602.0,244.8 L602.4,245.8 L602.7,245.2 L603.0,245.5 L603.3,244.7 L603.6,244.9 L603.9,244.1 L604.2,244.4 L604.5,246.2 L604.9,244.7 L605.2,244.3 L605.5,244.7 L605.8,244.2 L606.1,245.5 L606.4,245.8 L606.7,244.3 L607.1,245.9 L607.4,246.7 L607.7,244.3 L608.0,245.6 L608.3,245.3 L608.6,246.2 L608.9,246.1 L609.3,246.0 L609.6,245.4 L609.9,244.9 L610.2,246.9 L610.5,244.6 L610.8,246.1 L611.1,246.0 L611.4,244.7 L611.8,245.3 L612.1,246.4 L612.4,243.8 L612.7,245.9 L613.0,245.0 L613.3,245.1 L613.6,244.2 L614.0,245.6 L614.3,244.5 L614.6,245.9 L614.9,244.4 L615.2,245.9 L615.5,245.6 L615.8,243.9 L616.2,245.1 L616.5,245.3 L616.8,243.6 L617.1,245.1 L617.4,246.0 L617.7,244.8 L618.0,246.3 L618.4,244.5 L618.7,244.5 L619.0,245.9 L619.3,245.9 L619.6,245.3 L619.9,245.4 L620.2,246.2 L620.5,245.0 L620.9,247.0 L621.2,245.8 L621.5,245.8 L621.8,245.7 L622.1,245.3 L622.4,246.5 L622.7,245.1 L623.1,245.7 L623.4,246.0 L623.7,246.6 L624.0,246.5 L624.3,245.3 L624.6,246.3 L624.9,245.5 L625.3,244.8 L625.6,244.8 L625.9,244.4 L626.2,245.9 L626.5,246.5 L626.8,244.9 L627.1,245.4 L627.4,244.8 L627.8,245.7 L628.1,244.8 L628.4,245.0 L628.7,245.2 L629.0,245.3 L629.3,245.4 L629.6,245.6 L630.0,245.6 L630.3,245.0 L630.6,246.2 L630.9,244.4 L631.2,245.9 L631.5,245.0 L631.8,245.9 L632.2,246.0 L632.5,244.3 L632.8,246.1 L633.1,246.8 L633.4,246.4 L633.7,246.1 L634.0,244.2 L634.3,245.7 L634.7,245.2 L635.0,246.7 L635.3,245.6 L635.6,245.4 L635.9,244.5 L636.2,246.5 L636.5,245.5 L636.9,245.7 L637.2,246.7 L637.5,246.0 L637.8,246.2 L638.1,247.8 L638.4,245.5 L638.7,245.6 L639.1,246.4 L639.4,247.1 L639.7,244.9 L640.0,245.8 L640.3,245.3 L640.6,245.0 L640.9,246.5 L641.2,245.4 L641.6,246.2 L641.9,246.1 L642.2,246.1 L642.5,246.1 L642.8,245.2 L643.1,246.0 L643.4,246.2 L643.8,246.3 L644.1,245.8 L644.4,246.8 L644.7,246.5 L645.0,246.2 L645.3,246.6 L645.6,246.2 L646.0,246.6 L646.3,244.6 L646.6,245.1 L646.9,245.8 L647.2,246.2 L647.5,244.5 L647.8,245.9 L648.1,246.2 L648.5,245.9 L648.8,245.9 L649.1,245.1 L649.4,246.2 L649.7,244.6 L650.0,246.9 L650.3,245.7 L650.7,247.0 L651.0,244.8 L651.3,246.5 L651.6,246.3 L651.9,245.5 L652.2,245.3 L652.5,247.1 L652.9,246.5 L653.2,247.3 L653.5,246.1 L653.8,246.3 L654.1,246.5 L654.4,246.8 L654.7,246.6 L655.0,246.8 L655.4,245.9 L655.7,245.1 L656.0,247.8 L656.3,246.4 L656.6,246.6 L656.9,245.9 L657.2,247.0 L657.6,246.4 L657.9,247.1 L658.2,245.8 L658.5,246.2 L658.8,246.5 L659.1,246.0 L659.4,246.5 L659.8,247.5 L660.1,245.9 L660.4,246.1 L660.7,246.5 L661.0,245.6 L661.3,245.4 L661.6,247.2 L661.9,247.0 L662.3,245.2 L662.6,245.3 L662.9,247.0 L663.2,247.3 L663.5,246.9 L663.8,246.8 L664.1,247.6 L664.5,246.4 L664.8,247.4 L665.1,247.4 L665.4,245.7 L665.7,247.0 L666.0,246.5 L666.3,246.0 L666.7,245.8 L667.0,246.7 L667.3,246.4 L667.6,247.1 L667.9,245.1 L668.2,246.0 L668.5,247.3 L668.8,246.5 L669.2,245.9 L669.5,246.1 L669.8,245.1 L670.1,245.4 L670.4,246.9 L670.7,246.6 L671.0,247.5 L671.4,246.3 L671.7,246.4 L672.0,244.5 L672.3,246.5 L672.6,248.1 L672.9,247.1 L673.2,246.5 L673.6,247.5 L673.9,247.2 L674.2,246.8 L674.5,246.3 L674.8,246.7 L675.1,247.3 L675.4,246.0 L675.8,247.0 L676.1,247.0 L676.4,247.7 L676.7,247.2 L677.0,246.1 L677.3,247.9 L677.6,246.7 L677.9,246.1 L678.3,246.9 L678.6,246.4 L678.9,247.5 L679.2,245.6 L679.5,245.8 L679.8,246.5 L680.1,248.0 L680.5,247.5 L680.8,245.9 L681.1,245.4 L681.4,246.4 L681.7,245.7 L682.0,247.1 L682.3,246.8 L682.7,246.7 L683.0,246.4 L683.3,247.9 L683.6,246.0 L683.9,245.7 L684.2,247.6 L684.5,247.8 L684.8,246.5 L685.2,247.2 L685.5,248.6 L685.8,246.1 L686.1,246.6 L686.4,247.1 L686.7,245.1 L687.0,246.7 L687.4,247.3 L687.7,246.7 L688.0,247.6 L688.3,247.4 L688.6,246.5 L688.9,247.2 L689.2,247.1 L689.6,245.5 L689.9,246.1 L690.2,246.2 L690.5,246.4 L690.8,246.4 L691.1,245.7 L691.4,246.8 L691.7,245.4 L692.1,247.6 L692.4,247.0 L692.7,247.9 L693.0,247.1 L693.3,246.5 L693.6,245.7 L693.9,247.4 L694.3,246.9 L694.6,247.1 L694.9,247.4 L695.2,247.8 L695.5,246.8 L695.8,248.2 L696.1,246.8 L696.5,246.9 L696.8,247.4 L697.1,247.7 L697.4,248.0 L697.7,245.5 L698.0,248.0 L698.3,245.7 L698.6,246.5 L699.0,247.2 L699.3,247.8 L699.6,246.2 L699.9,245.6 L700.2,247.7 L700.5,247.2 L700.8,246.2 L701.2,246.7 L701.5,245.4 L701.8,247.4 L702.1,246.6 L702.4,248.0 L702.7,245.4 L703.0,247.6 L703.4,248.7 L703.7,247.1 L704.0,247.1 L704.3,245.6 L704.6,247.3 L704.9,247.0 L705.2,246.6 L705.5,245.8 L705.9,247.1 L706.2,246.3 L706.5,246.7 L706.8,247.3 L707.1,247.0 L707.4,247.0 L707.7,247.8 L708.1,246.1 L708.4,248.1 L708.7,246.2 L709.0,246.4 L709.3,247.2 L709.6,247.7 L709.9,247.3 L710.3,246.8 L710.6,246.5 L710.9,246.9 L711.2,246.4 L711.5,247.6 L711.8,247.0 L712.1,248.3 L712.4,246.6 L712.8,247.0 L713.1,247.5 L713.4,246.3 L713.7,246.6 L714.0,249.3 L714.3,247.1 L714.6,248.3 L715.0,246.4 L715.3,245.3 L715.6,247.6 L715.9,247.1 L716.2,247.4 L716.5,246.9 L716.8,246.7 L717.2,246.2 L717.5,248.0 L717.8,246.0 L718.1,247.9 L718.4,247.0 L718.7,246.4 L719.0,246.7 L719.3,248.0 L719.7,247.8 L720.0,247.6 L720.3,247.3 L720.6,246.4 L720.9,248.3 L721.2,246.9 L721.5,246.8 L721.9,246.9 L722.2,246.9 L722.5,246.1 L722.8,246.9 L723.1,246.7 L723.4,246.9 L723.7,245.9 L724.1,248.8 L724.4,246.3 L724.7,247.5 L725.0,247.6 L725.3,248.1 L725.6,248.8 L725.9,247.6 L726.2,247.9 L726.6,247.0 L726.9,248.5 L727.2,246.3 L727.5,247.2 L727.8,247.6 L728.1,247.9 L728.4,248.0 L728.8,248.3 L729.1,247.8 L729.4,247.4 L729.7,247.5 L730.0,248.5 L730.3,247.6 L730.6,248.1 L731.0,247.3 L731.3,246.0 L731.6,247.0 L731.9,247.7 L732.2,248.7 L732.5,248.5 L732.8,248.8 L733.2,246.9 L733.5,248.1 L733.8,247.4 L734.1,248.0 L734.4,247.4 L734.7,246.4 L735.0,248.0 L735.3,247.8 L735.7,248.1 L736.0,246.8 L736.3,248.3 L736.6,248.4 L736.9,248.6 L737.2,248.6 L737.5,247.2 L737.9,245.6 L738.2,248.3 L738.5,246.8 L738.8,247.4 L739.1,248.4 L739.4,247.8 L739.7,247.7 L740.1,248.1 L740.4,246.1 L740.7,249.0 L741.0,247.3 L741.3,247.3 L741.6,248.0 L741.9,247.5 L742.2,246.9 L742.6,247.5 L742.9,247.3 L743.2,247.1 L743.5,249.2 L743.8,246.5 L744.1,245.9 L744.4,246.9 L744.8,246.9 L745.1,248.8 L745.4,247.8 L745.7,248.3 L746.0,248.2 L746.3,247.0 L746.6,248.3 L747.0,247.8 L747.3,249.2 L747.6,247.9 L747.9,247.7 L748.2,248.3 L748.5,248.3 L748.8,246.3 L749.1,248.7 L749.5,248.6 L749.8,248.4 L750.1,246.9 L750.4,246.2 L750.7,247.5 L751.0,248.4 L751.3,248.1 L751.7,247.0 L752.0,248.5 L752.3,246.7 L752.6,246.8 L752.9,247.8 L753.2,247.4 L753.5,247.3 L753.9,246.7 L754.2,248.7 L754.5,247.0 L754.8,248.2 L755.1,248.5 L755.4,247.8 L755.7,248.1 L756.0,248.7 L756.4,249.2 L756.7,248.7 L757.0,246.8 L757.3,246.4 L757.6,247.5 L757.9,247.1 L758.2,248.4 L758.6,248.0 L758.9,247.8 L759.2,248.8 L759.5,248.8 L759.8,247.9 L760.1,248.3 L760.4,248.8 L760.8,247.7 L761.1,248.2 L761.4,247.3 L761.7,248.0 L762.0,248.3 L762.3,248.0 L762.6,248.2 L762.9,248.6 L763.3,248.4 L763.6,247.5 L763.9,247.6 L764.2,247.1 L764.5,249.4 L764.8,248.4 L765.1,248.4 L765.5,248.0 L765.8,248.5 L766.1,248.5 L766.4,247.5 L766.7,248.0 L767.0,249.1 L767.3,247.1 L767.7,247.4 L768.0,248.6 L768.3,247.6 L768.6,248.8 L768.9,247.3 L769.2,248.4 L769.5,248.8 L769.8,248.5 L770.2,248.8 L770.5,248.1 L770.8,248.1 L771.1,248.2 L771.4,248.7 L771.7,251.1 L772.0,248.2 L772.4,249.7 L772.7,248.1 L773.0,247.4 L773.3,248.1 L773.6,248.6 L773.9,248.5 L774.2,248.4 L774.6,248.8 L774.9,248.8 L775.2,249.1 L775.5,247.4 L775.8,248.4 L776.1,247.6 L776.4,248.6 L776.7,248.3 L777.1,248.5 L777.4,248.0 L777.7,247.8 L778.0,248.2 L778.3,248.9 L778.6,249.0 L778.9,247.2 L779.3,248.6 L779.6,248.7 L779.9,247.3 L780.2,247.6 L780.5,248.1 L780.8,248.8 L781.1,246.7 L781.5,248.2 L781.8,248.1 L782.1,248.6 L782.4,249.6 L782.7,249.5 L783.0,248.2 L783.3,248.2 L783.6,248.7 L784.0,249.4 L784.3,249.6 L784.6,248.8 L784.9,249.6 L785.2,247.8 L785.5,247.6 L785.8,246.4 L786.2,247.8 L786.5,249.0 L786.8,249.2 L787.1,251.2 L787.4,249.0 L787.7,248.7 L788.0,247.8 L788.4,248.1 L788.7,248.1 L789.0,248.4 L789.3,248.0 L789.6,247.4 L789.9,249.4 L790.2,248.9 L790.6,249.6 L790.9,247.3 L791.2,247.6 L791.5,248.0 L791.8,249.5 L792.1,248.4 L792.4,248.8 L792.7,248.5 L793.1,248.7 L793.4,248.2 L793.7,248.9 L794.0,247.9 L794.3,248.4 L794.6,248.8 L794.9,248.7 L795.3,248.9 L795.6,248.0 L795.9,248.8 L796.2,248.4 L796.5,248.9 L796.8,249.7 L797.1,247.9 L797.5,249.4 L797.8,248.1 L798.1,248.3 L798.4,249.9 L798.7,249.3 L799.0,249.0 L799.3,249.3 L799.6,249.5 L800.0,248.1 L800.3,248.8 L800.6,248.3 L800.9,249.0 L801.2,248.4 L801.5,249.2 L801.8,248.7 L802.2,248.2 L802.5,248.6 L802.8,249.0 L803.1,249.5 L803.4,248.5 L803.7,248.4 L804.0,248.9 L804.4,249.3 L804.7,248.3 L805.0,246.8 L805.3,248.9 L805.6,248.4 L805.9,248.4 L806.2,250.7 L806.5,248.6 L806.9,249.2 L807.2,247.6 L807.5,248.9 L807.8,249.3 L808.1,248.9 L808.4,248.6 L808.7,249.1 L809.1,248.7 L809.4,249.7 L809.7,248.9 L810.0,248.1 L810.3,247.2 L810.6,248.2 L810.9,248.5 L811.3,247.8 L811.6,247.9 L811.9,247.5 L812.2,247.9 L812.5,248.8 L812.8,248.5 L813.1,248.6 L813.4,248.5 L813.8,248.6 L814.1,249.3 L814.4,250.4 L814.7,249.3 L815.0,250.3 L815.3,248.7 L815.6,248.8 L816.0,250.0 L816.3,248.2 L816.6,248.1 L816.9,248.7 L817.2,247.5 L817.5,247.3 L817.8,249.7 L818.2,248.0 L818.5,248.4 L818.8,248.5 L819.1,248.1 L819.4,249.3 L819.7,249.2 L820.0,249.4 L820.3,249.4 L820.7,248.9 L821.0,249.9 L821.3,249.6 L821.6,248.4 L821.9,248.9 L822.2,248.5 L822.5,250.3 L822.9,249.4 L823.2,249.2 L823.5,248.8 L823.8,249.3 L824.1,248.1 L824.4,248.9 L824.7,248.8 L825.1,248.8 L825.4,248.3 L825.7,249.2 L826.0,248.0 L826.3,248.5 L826.6,248.7 L826.9,248.8 L827.2,248.5 L827.6,248.1 L827.9,248.1 L828.2,248.6 L828.5,248.2 L828.8,248.8 L829.1,247.9 L829.4,248.9 L829.8,250.5 L830.1,247.8 L830.4,248.8 L830.7,249.8 L831.0,249.0 L831.3,249.6 L831.6,247.3 L832.0,248.5 L832.3,250.1 L832.6,248.5 L832.9,249.2 L833.2,247.4 L833.5,249.7 L833.8,250.6 L834.1,248.9 L834.5,249.2 L834.8,249.2 L835.1,250.6 L835.4,248.6 L835.7,247.6 L836.0,250.4 L836.3,248.0 L836.7,249.4 L837.0,247.1 L837.3,248.6 L837.6,249.1 L837.9,248.1 L838.2,248.5 L838.5,249.4 L838.9,248.4 L839.2,249.3 L839.5,250.3 L839.8,247.3 L840.1,249.1 L840.4,249.2 L840.7,248.4 L841.0,249.8 L841.4,249.6 L841.7,248.9 L842.0,248.8 L842.3,248.3 L842.6,247.4 L842.9,248.6 L843.2,247.8 L843.6,247.7 L843.9,248.9 L844.2,247.8" stroke="#1414e6" stroke-width="2.8" fill="none" stroke-linejoin="round"/>
</g>
<rect x="504.7" y="32.0" width="339.8" height="268.5" fill="none" stroke="#7a7a7a" stroke-width="2.0"/>
<path d="M530.8,300.5v-4 M530.8,32.0v4 M635.4,300.5v-4 M635.4,32.0v4 M739.9,300.5v-4 M739.9,32.0v4 M844.5,300.5v-4 M844.5,32.0v4 M583.1,300.5v-2.0 M583.1,32.0v2.0 M687.7,300.5v-2.0 M687.7,32.0v2.0 M792.2,300.5v-2.0 M792.2,32.0v2.0 M504.7,262.1h4 M844.5,262.1h-4 M504.7,185.4h4 M844.5,185.4h-4 M504.7,108.7h4 M844.5,108.7h-4 M504.7,32.0h4 M844.5,32.0h-4 M504.7,300.5h2.0 M844.5,300.5h-2.0 M504.7,223.8h2.0 M844.5,223.8h-2.0 M504.7,147.1h2.0 M844.5,147.1h-2.0 M504.7,70.4h2.0 M844.5,70.4h-2.0 " stroke="#7a7a7a" stroke-width="1.5" fill="none"/>
<text x="499.0" y="36.3" font-size="16.2" text-anchor="end" fill="#454545" stroke="#454545" stroke-width="0.6" textLength="19.7" lengthAdjust="spacingAndGlyphs">30</text>
<text x="499.0" y="113.8" font-size="16.2" text-anchor="end" fill="#454545" stroke="#454545" stroke-width="0.6" textLength="19.7" lengthAdjust="spacingAndGlyphs">20</text>
<text x="499.0" y="190.8" font-size="16.2" text-anchor="end" fill="#454545" stroke="#454545" stroke-width="0.6" textLength="19.7" lengthAdjust="spacingAndGlyphs">10</text>
<text x="499.0" y="267.8" font-size="16.2" text-anchor="end" fill="#454545" stroke="#454545" stroke-width="0.6" textLength="9.8" lengthAdjust="spacingAndGlyphs">0</text>
<text x="526.9" y="316.8" font-size="16.2" text-anchor="start" fill="#454545" stroke="#454545" stroke-width="0.6" textLength="9.8" lengthAdjust="spacingAndGlyphs">0</text>
<text x="624.7" y="316.8" font-size="16.2" text-anchor="start" fill="#454545" stroke="#454545" stroke-width="0.6" textLength="29.8" lengthAdjust="spacingAndGlyphs">200</text>
<text x="728.8" y="316.8" font-size="16.2" text-anchor="start" fill="#454545" stroke="#454545" stroke-width="0.6" textLength="29.8" lengthAdjust="spacingAndGlyphs">400</text>
<text x="833.5" y="316.8" font-size="16.2" text-anchor="start" fill="#454545" stroke="#454545" stroke-width="0.6" textLength="29.8" lengthAdjust="spacingAndGlyphs">600</text>
<text x="641.8" y="347.7" font-size="22.0" text-anchor="start" fill="#303030" stroke="#303030" stroke-width="0.6" textLength="49.9" lengthAdjust="spacingAndGlyphs">Time</text>
<path d="M699.95,351.30 L706.55,330.80" stroke="#303030" stroke-width="1.9" stroke-linecap="butt"/>
<text x="715.3" y="347.7" font-size="22.0" text-anchor="start" fill="#303030" stroke="#303030" stroke-width="0.6" textLength="8.7" lengthAdjust="spacingAndGlyphs">s</text>
<text x="-1.05" y="0" font-size="21.0" fill="#303030" stroke="#303030" stroke-width="0.6" textLength="151.22" lengthAdjust="spacingAndGlyphs" transform="translate(460.80 270.30) rotate(-90)">Sensor current</text>
<text x="-1.46" y="0" font-size="21.0" fill="#303030" stroke="#303030" stroke-width="0.6" textLength="26.60" lengthAdjust="spacingAndGlyphs" transform="translate(460.80 95.40) rotate(-90)">µA</text>
<path d="M464.60,112.00 L444.30,104.20" stroke="#303030" stroke-width="1.9"/>
<text x="594.6" y="80.6" font-size="22.0" text-anchor="start" fill="#303030" stroke="#303030" stroke-width="0.6" textLength="12.3" lengthAdjust="spacingAndGlyphs">0</text>
<text x="613.2" y="80.6" font-size="22.0" text-anchor="start" fill="#303030" stroke="#303030" stroke-width="0.6" textLength="28.7" lengthAdjust="spacingAndGlyphs">cm</text>
<text x="648.7" y="80.6" font-size="22.0" text-anchor="start" fill="#303030" stroke="#303030" stroke-width="0.6" textLength="7.8" lengthAdjust="spacingAndGlyphs">s</text>
<text x="658.9" y="70.4" font-size="13.8" text-anchor="start" fill="#303030" stroke="#303030" stroke-width="0.6" textLength="3.7" lengthAdjust="spacingAndGlyphs">-</text>
<text x="663.7" y="70.4" font-size="13.8" text-anchor="start" fill="#303030" stroke="#303030" stroke-width="0.6" textLength="7.0" lengthAdjust="spacingAndGlyphs">1</text>
<text x="884.5" y="16.2" font-size="22.5" text-anchor="start" fill="#303030" stroke="#303030" stroke-width="0.6" textLength="25.3" lengthAdjust="spacingAndGlyphs">(c)</text>
<clipPath id="c2"><rect x="938.2" y="32.3" width="338.8" height="267.5"/></clipPath>
<g clip-path="url(#c2)">
<path d="M959.9,-84.2 L960.0,-71.1 L960.0,-57.9 L960.1,-44.8 L960.1,-31.7 L960.2,-18.5 L960.2,-5.4 L960.3,7.7 L960.3,20.9 L960.4,35.3 L960.4,54.5 L960.5,73.8 L960.5,93.1 L960.6,112.3 L960.6,131.6 L960.7,150.8 L960.7,170.1 L960.8,189.4 L960.9,202.1 L960.9,205.3 L961.0,208.6 L961.0,211.9 L961.1,215.2 L961.1,218.5 L961.2,221.8 L961.2,224.1 L961.3,224.8 L961.3,225.5 L961.4,226.3 L961.4,227.0 L961.5,227.7 L961.5,228.5 L961.6,229.2 L961.6,229.9 L961.7,230.6 L961.7,231.4 L961.8,231.7 L961.8,231.9 L961.9,232.1 L961.9,232.3 L962.0,232.6 L962.0,232.8 L962.1,233.0 L962.1,233.2 L962.2,233.4 L962.2,233.7 L962.3,233.9 L962.3,234.1 L962.4,234.3 L962.5,234.5 L962.5,234.7 L962.6,235.0 L962.6,235.2 L962.7,235.4 L962.7,235.4 L962.8,235.5 L962.8,235.6 L962.9,235.6 L962.9,235.7 L963.0,235.8 L963.0,235.8 L963.1,235.9 L963.1,236.0 L963.2,236.0 L963.2,236.1 L963.3,236.2 L963.3,236.2 L963.4,236.3 L963.4,236.4 L963.5,236.4 L963.5,236.5 L963.6,236.5 L963.6,236.6 L963.7,236.7 L963.7,236.7 L963.8,236.8 L963.8,236.9 L963.9,236.9 L964.0,237.0 L964.0,237.1 L964.1,237.1 L964.1,237.2 L964.2,237.3 L964.2,237.3 L964.3,237.4 L964.3,237.5 L964.4,237.5 L964.4,237.6 L964.5,237.7 L964.5,237.7 L964.6,237.7 L964.6,237.8 L964.7,237.8 L964.7,237.8 L964.8,237.9 L964.8,237.9 L964.9,237.9 L964.9,238.0 L965.0,238.0 L965.0,238.0 L965.1,238.1 L965.1,238.1 L965.2,238.2 L965.2,238.2 L965.3,238.2 L965.3,238.3 L965.4,238.3 L965.4,238.3 L965.5,238.4 L965.6,238.4 L965.6,238.4 L965.7,238.5 L965.7,238.5 L965.8,238.5 L965.8,238.6 L965.9,238.6 L965.9,238.6 L966.0,238.7 L966.0,238.7 L966.1,238.7 L966.1,238.8 L966.2,238.8 L966.2,238.9 L966.3,238.9 L966.3,238.9 L966.4,239.0 L966.4,239.0 L966.5,239.0 L966.5,239.1 L966.6,239.1 L966.6,239.1 L966.7,239.2 L966.7,239.2 L966.8,239.2 L966.8,239.3 L966.9,239.3 L966.9,239.3 L967.0,239.4 L967.1,239.4 L967.1,239.4 L967.2,239.5 L967.2,239.5 L967.3,239.6 L967.3,239.6 L967.4,239.6 L967.4,239.7 L967.5,239.7 L967.5,239.7 L967.6,239.8 L967.6,239.8 L967.7,239.8 L967.7,239.9 L967.8,239.9 L967.8,239.9 L967.9,240.0 L967.9,240.0 L968.0,240.0 L968.0,240.0 L968.1,240.0 L968.1,240.0 L968.2,240.1 L968.2,240.1 L968.3,240.1 L968.3,240.1 L968.4,240.1 L968.4,240.1 L968.5,240.2 L968.5,240.2 L968.6,240.2 L968.7,240.2 L968.7,240.2 L968.8,240.2 L968.8,240.3 L968.9,240.3 L968.9,240.3 L969.0,240.3 L969.0,240.3 L969.1,240.3 L969.1,240.3 L969.2,240.4 L969.2,240.4 L969.3,240.4 L969.3,240.4 L969.4,240.4 L969.4,240.4 L969.5,240.5 L969.5,240.5 L969.6,240.5 L969.6,240.5 L969.7,240.5 L969.7,240.5 L969.8,240.5 L969.8,240.6 L969.9,240.6 L969.9,240.6 L970.0,240.6 L970.0,240.6 L970.1,240.6 L970.2,240.7 L970.2,240.7 L970.3,240.7 L970.3,240.7 L970.4,240.7 L970.4,240.7 L970.5,240.7 L970.5,240.8 L970.6,240.8 L970.6,240.8 L970.7,240.8 L970.7,240.8 L970.8,240.8 L970.8,240.9 L970.9,240.9 L970.9,240.9 L971.0,240.9 L971.0,240.9 L971.1,240.9 L971.1,241.0 L971.2,241.0 L971.2,241.0 L971.3,241.0 L971.3,241.0 L971.4,241.0 L971.4,241.0 L971.5,241.1 L971.5,241.1 L971.6,241.1 L971.6,241.1 L971.7,241.1 L971.8,241.1 L971.8,241.2 L971.9,241.2 L971.9,241.2 L972.0,241.2 L972.0,241.2 L972.1,241.2 L972.1,241.2 L972.2,241.3 L972.2,241.3 L972.3,241.3 L972.3,241.3 L972.4,241.3 L972.4,241.3 L972.5,241.4 L972.5,241.4 L972.6,241.4 L972.6,241.4 L972.7,241.4 L972.7,241.4 L972.8,241.5 L972.8,241.5 L972.9,241.5 L972.9,241.5 L973.0,241.5 L973.0,241.5 L973.1,241.5 L973.1,241.6 L973.2,241.6 L973.3,241.6 L973.3,241.6 L973.4,241.6 L973.4,241.6 L973.5,241.7 L973.5,241.7 L973.6,241.2 L973.6,240.7 L973.7,242.4 L973.7,243.3 L973.8,242.6 L973.8,242.4 L973.9,241.9 L973.9,241.4 L974.0,241.9 L974.0,242.3 L974.1,241.7 L974.1,242.4 L974.2,241.9 L974.2,242.3 L974.3,240.3 L974.3,241.4 L974.4,242.4 L974.4,242.6 L974.5,242.2 L974.5,243.0 L974.6,242.4 L974.6,242.5 L974.7,241.5 L974.7,242.3 L974.8,242.5 L974.9,242.9 L974.9,242.8 L975.0,242.1 L975.0,242.3 L975.1,241.4 L975.1,242.5 L975.2,241.5 L975.2,242.0 L975.3,242.2 L975.3,243.5 L975.4,243.0 L975.4,241.8 L975.7,241.5 L976.0,242.3 L976.3,242.0 L976.6,242.9 L977.0,242.9 L977.3,243.2 L977.6,242.3 L977.9,242.8 L978.2,243.2 L978.6,243.3 L978.9,242.8 L979.2,242.9 L979.5,243.7 L979.8,242.1 L980.1,243.1 L980.5,243.2 L980.8,242.4 L981.1,242.7 L981.4,243.4 L981.7,243.0 L982.0,244.1 L982.4,243.8 L982.7,244.8 L983.0,242.7 L983.3,244.7 L983.6,243.1 L984.0,244.1 L984.3,244.2 L984.6,243.7 L984.9,243.5 L985.2,243.3 L985.5,242.6 L985.9,243.5 L986.2,243.2 L986.5,244.1 L986.8,243.4 L987.1,243.7 L987.5,244.1 L987.8,243.9 L988.1,244.0 L988.4,243.8 L988.7,243.7 L989.0,244.3 L989.4,244.5 L989.7,243.6 L990.0,245.1 L990.3,244.5 L990.6,243.2 L991.0,245.8 L991.3,244.6 L991.6,243.8 L991.9,245.3 L992.2,242.7 L992.5,245.9 L992.9,243.4 L993.2,243.4 L993.5,243.8 L993.8,244.5 L994.1,244.2 L994.5,245.0 L994.8,244.0 L995.1,245.2 L995.4,244.7 L995.7,244.0 L996.0,245.3 L996.4,244.9 L996.7,244.6 L997.0,245.5 L997.3,244.0 L997.6,244.5 L998.0,245.7 L998.3,244.8 L998.6,245.3 L998.9,245.3 L999.2,244.8 L999.5,245.3 L999.9,244.3 L1000.2,245.4 L1000.5,244.4 L1000.8,245.0 L1001.1,244.5 L1001.5,245.3 L1001.8,245.3 L1002.1,245.7 L1002.4,244.7 L1002.7,244.5 L1003.0,243.7 L1003.4,244.3 L1003.7,244.9 L1004.0,245.2 L1004.3,244.9 L1004.6,245.1 L1005.0,244.2 L1005.3,244.5 L1005.6,245.6 L1005.9,245.6 L1006.2,244.3 L1006.5,245.0 L1006.9,245.3 L1007.2,244.4 L1007.5,245.4 L1007.8,245.4 L1008.1,245.5 L1008.4,246.4 L1008.8,244.7 L1009.1,246.0 L1009.4,245.6 L1009.7,245.7 L1010.0,244.8 L1010.4,245.3 L1010.7,245.3 L1011.0,246.3 L1011.3,245.4 L1011.6,246.2 L1011.9,245.1 L1012.3,245.1 L1012.6,245.4 L1012.9,244.1 L1013.2,245.0 L1013.5,245.0 L1013.9,245.3 L1014.2,245.5 L1014.5,244.8 L1014.8,244.7 L1015.1,246.2 L1015.4,244.8 L1015.8,245.1 L1016.1,244.9 L1016.4,245.2 L1016.7,246.2 L1017.0,246.2 L1017.4,244.4 L1017.7,245.3 L1018.0,246.4 L1018.3,245.3 L1018.6,245.7 L1018.9,246.7 L1019.3,246.9 L1019.6,246.5 L1019.9,245.4 L1020.2,245.6 L1020.5,245.7 L1020.9,245.4 L1021.2,245.2 L1021.5,246.9 L1021.8,245.8 L1022.1,246.1 L1022.4,246.4 L1022.8,246.0 L1023.1,245.7 L1023.4,245.8 L1023.7,246.6 L1024.0,246.0 L1024.4,244.4 L1024.7,246.3 L1025.0,246.7 L1025.3,245.5 L1025.6,245.4 L1025.9,245.5 L1026.3,246.4 L1026.6,245.1 L1026.9,246.3 L1027.2,246.5 L1027.5,246.2 L1027.9,245.9 L1028.2,245.4 L1028.5,245.4 L1028.8,245.8 L1029.1,245.3 L1029.4,245.8 L1029.8,245.3 L1030.1,246.7 L1030.4,246.8 L1030.7,245.4 L1031.0,246.7 L1031.4,246.1 L1031.7,246.0 L1032.0,246.2 L1032.3,246.2 L1032.6,245.1 L1032.9,247.5 L1033.3,245.4 L1033.6,244.6 L1033.9,246.0 L1034.2,246.0 L1034.5,245.5 L1034.9,244.9 L1035.2,246.7 L1035.5,246.0 L1035.8,246.1 L1036.1,245.7 L1036.4,246.0 L1036.8,245.7 L1037.1,246.3 L1037.4,246.0 L1037.7,246.5 L1038.0,246.5 L1038.3,246.2 L1038.7,246.2 L1039.0,246.8 L1039.3,245.2 L1039.6,246.2 L1039.9,247.0 L1040.3,245.5 L1040.6,246.6 L1040.9,245.9 L1041.2,246.2 L1041.5,246.0 L1041.8,246.1 L1042.2,246.6 L1042.5,246.2 L1042.8,245.0 L1043.1,247.6 L1043.4,246.2 L1043.8,246.0 L1044.1,246.9 L1044.4,247.1 L1044.7,245.0 L1045.0,246.5 L1045.3,245.0 L1045.7,246.0 L1046.0,246.3 L1046.3,246.1 L1046.6,246.0 L1046.9,245.6 L1047.3,246.1 L1047.6,246.3 L1047.9,246.3 L1048.2,245.6 L1048.5,245.9 L1048.8,247.0 L1049.2,246.8 L1049.5,246.2 L1049.8,246.8 L1050.1,246.7 L1050.4,247.1 L1050.8,246.6 L1051.1,246.2 L1051.4,245.9 L1051.7,246.5 L1052.0,245.2 L1052.3,246.6 L1052.7,244.6 L1053.0,245.9 L1053.3,246.2 L1053.6,246.9 L1053.9,248.3 L1054.3,246.7 L1054.6,246.5 L1054.9,245.4 L1055.2,247.5 L1055.5,245.4 L1055.8,246.8 L1056.2,246.2 L1056.5,248.2 L1056.8,246.6 L1057.1,246.9 L1057.4,246.3 L1057.8,246.6 L1058.1,247.4 L1058.4,246.1 L1058.7,246.3 L1059.0,246.4 L1059.3,246.1 L1059.7,246.1 L1060.0,246.8 L1060.3,247.6 L1060.6,247.6 L1060.9,246.0 L1061.3,246.4 L1061.6,246.7 L1061.9,247.1 L1062.2,246.8 L1062.5,246.8 L1062.8,247.0 L1063.2,247.3 L1063.5,245.5 L1063.8,246.7 L1064.1,247.3 L1064.4,247.7 L1064.8,247.3 L1065.1,246.5 L1065.4,246.4 L1065.7,247.0 L1066.0,246.9 L1066.3,247.1 L1066.7,247.6 L1067.0,246.1 L1067.3,246.7 L1067.6,245.4 L1067.9,247.4 L1068.2,247.0 L1068.6,246.4 L1068.9,247.1 L1069.2,247.8 L1069.5,247.6 L1069.8,246.9 L1070.2,246.8 L1070.5,247.0 L1070.8,246.4 L1071.1,246.4 L1071.4,246.8 L1071.7,247.0 L1072.1,247.2 L1072.4,246.7 L1072.7,246.5 L1073.0,247.0 L1073.3,246.8 L1073.7,247.2 L1074.0,247.9 L1074.3,247.7 L1074.6,246.6 L1074.9,246.8 L1075.2,246.1 L1075.6,247.0 L1075.9,246.5 L1076.2,246.3 L1076.5,246.5 L1076.8,247.5 L1077.2,247.2 L1077.5,247.0 L1077.8,247.7 L1078.1,246.8 L1078.4,246.5 L1078.7,247.4 L1079.1,245.9 L1079.4,247.3 L1079.7,247.3 L1080.0,247.3 L1080.3,247.6 L1080.7,246.9 L1081.0,247.1 L1081.3,246.1 L1081.6,246.8 L1081.9,246.8 L1082.2,247.3 L1082.6,248.0 L1082.9,247.2 L1083.2,247.7 L1083.5,246.6 L1083.8,247.2 L1084.2,246.2 L1084.5,246.8 L1084.8,246.7 L1085.1,247.1 L1085.4,247.1 L1085.7,246.8 L1086.1,246.7 L1086.4,247.7 L1086.7,246.9 L1087.0,245.6 L1087.3,247.3 L1087.7,247.4 L1088.0,247.7 L1088.3,248.2 L1088.6,246.5 L1088.9,247.2 L1089.2,247.1 L1089.6,246.1 L1089.9,245.7 L1090.2,247.8 L1090.5,246.6 L1090.8,246.9 L1091.2,247.1 L1091.5,247.0 L1091.8,247.3 L1092.1,246.3 L1092.4,246.9 L1092.7,247.1 L1093.1,246.6 L1093.4,246.8 L1093.7,247.1 L1094.0,247.1 L1094.3,246.3 L1094.6,247.0 L1095.0,247.4 L1095.3,247.9 L1095.6,247.6 L1095.9,248.0 L1096.2,247.3 L1096.6,247.2 L1096.9,248.7 L1097.2,247.4 L1097.5,247.0 L1097.8,247.3 L1098.1,248.0 L1098.5,246.6 L1098.8,247.9 L1099.1,248.2 L1099.4,248.1 L1099.7,247.4 L1100.1,246.8 L1100.4,246.7 L1100.7,247.3 L1101.0,248.2 L1101.3,247.9 L1101.6,248.0 L1102.0,247.6 L1102.3,248.6 L1102.6,247.4 L1102.9,247.1 L1103.2,247.6 L1103.6,247.2 L1103.9,248.1 L1104.2,248.4 L1104.5,247.9 L1104.8,246.8 L1105.1,246.9 L1105.5,247.8 L1105.8,246.8 L1106.1,247.7 L1106.4,246.6 L1106.7,247.2 L1107.1,247.8 L1107.4,247.1 L1107.7,248.0 L1108.0,248.1 L1108.3,248.5 L1108.6,247.4 L1109.0,247.6 L1109.3,247.6 L1109.6,247.8 L1109.9,246.7 L1110.2,247.9 L1110.6,248.1 L1110.9,246.8 L1111.2,246.7 L1111.5,247.4 L1111.8,248.7 L1112.1,248.0 L1112.5,247.3 L1112.8,247.6 L1113.1,246.7 L1113.4,248.5 L1113.7,247.2 L1114.1,248.0 L1114.4,246.9 L1114.7,247.7 L1115.0,247.0 L1115.3,248.1 L1115.6,248.6 L1116.0,248.4 L1116.3,248.1 L1116.6,248.3 L1116.9,247.0 L1117.2,246.9 L1117.6,247.5 L1117.9,248.4 L1118.2,247.8 L1118.5,248.2 L1118.8,246.8 L1119.1,247.5 L1119.5,247.4 L1119.8,248.0 L1120.1,249.0 L1120.4,248.2 L1120.7,248.5 L1121.1,247.5 L1121.4,247.7 L1121.7,248.3 L1122.0,248.0 L1122.3,246.8 L1122.6,248.4 L1123.0,248.4 L1123.3,247.9 L1123.6,248.2 L1123.9,248.1 L1124.2,247.5 L1124.5,246.8 L1124.9,248.9 L1125.2,247.8 L1125.5,247.8 L1125.8,247.9 L1126.1,248.0 L1126.5,248.1 L1126.8,247.2 L1127.1,248.1 L1127.4,247.9 L1127.7,247.9 L1128.0,247.8 L1128.4,248.0 L1128.7,247.3 L1129.0,247.9 L1129.3,247.8 L1129.6,247.9 L1130.0,248.5 L1130.3,248.4 L1130.6,248.6 L1130.9,247.8 L1131.2,248.4 L1131.5,248.6 L1131.9,247.8 L1132.2,247.6 L1132.5,249.0 L1132.8,246.9 L1133.1,247.9 L1133.5,248.0 L1133.8,247.3 L1134.1,247.9 L1134.4,248.3 L1134.7,246.6 L1135.0,248.6 L1135.4,248.1 L1135.7,247.5 L1136.0,248.7 L1136.3,248.1 L1136.6,247.8 L1137.0,246.5 L1137.3,248.6 L1137.6,248.1 L1137.9,247.6 L1138.2,248.0 L1138.5,248.8 L1138.9,247.8 L1139.2,248.0 L1139.5,247.8 L1139.8,247.4 L1140.1,247.4 L1140.5,247.8 L1140.8,247.9 L1141.1,248.8 L1141.4,248.2 L1141.7,248.0 L1142.0,248.3 L1142.4,248.0 L1142.7,248.6 L1143.0,247.2 L1143.3,246.8 L1143.6,248.4 L1144.0,247.9 L1144.3,248.3 L1144.6,247.4 L1144.9,247.9 L1145.2,248.1 L1145.5,248.3 L1145.9,248.1 L1146.2,248.8 L1146.5,247.7 L1146.8,248.6 L1147.1,247.8 L1147.5,248.1 L1147.8,247.5 L1148.1,248.2 L1148.4,247.6 L1148.7,248.8 L1149.0,247.8 L1149.4,248.3 L1149.7,248.1 L1150.0,248.2 L1150.3,247.6 L1150.6,249.5 L1150.9,248.0 L1151.3,249.2 L1151.6,247.5 L1151.9,249.5 L1152.2,248.9 L1152.5,249.3 L1152.9,247.3 L1153.2,249.1 L1153.5,248.2 L1153.8,248.6 L1154.1,249.4 L1154.4,248.5 L1154.8,247.9 L1155.1,248.4 L1155.4,247.7 L1155.7,248.5 L1156.0,248.3 L1156.4,248.6 L1156.7,248.1 L1157.0,247.2 L1157.3,248.1 L1157.6,248.2 L1157.9,248.7 L1158.3,248.8 L1158.6,247.4 L1158.9,249.0 L1159.2,248.9 L1159.5,248.4 L1159.9,248.6 L1160.2,247.2 L1160.5,249.8 L1160.8,248.2 L1161.1,248.0 L1161.4,249.1 L1161.8,248.8 L1162.1,248.1 L1162.4,247.4 L1162.7,249.0 L1163.0,249.4 L1163.4,247.8 L1163.7,247.5 L1164.0,248.6 L1164.3,249.8 L1164.6,247.6 L1164.9,248.6 L1165.3,247.8 L1165.6,248.5 L1165.9,248.7 L1166.2,248.8 L1166.5,247.6 L1166.9,247.6 L1167.2,249.8 L1167.5,249.1 L1167.8,247.4 L1168.1,248.8 L1168.4,249.4 L1168.8,248.5 L1169.1,248.6 L1169.4,248.6 L1169.7,248.9 L1170.0,248.8 L1170.4,248.9 L1170.7,248.4 L1171.0,249.1 L1171.3,248.8 L1171.6,248.7 L1171.9,247.8 L1172.3,248.4 L1172.6,248.7 L1172.9,248.3 L1173.2,248.4 L1173.5,248.0 L1173.9,248.4 L1174.2,247.6 L1174.5,247.9 L1174.8,248.7 L1175.1,249.0 L1175.4,248.2 L1175.8,248.4 L1176.1,248.8 L1176.4,249.6 L1176.7,249.9 L1177.0,248.5 L1177.4,248.3 L1177.7,248.3 L1178.0,249.6 L1178.3,248.1 L1178.6,249.1 L1178.9,248.6 L1179.3,248.5 L1179.6,249.3 L1179.9,249.2 L1180.2,250.1 L1180.5,249.4 L1180.8,250.0 L1181.2,248.6 L1181.5,248.8 L1181.8,248.3 L1182.1,248.7 L1182.4,249.3 L1182.8,248.7 L1183.1,249.1 L1183.4,248.5 L1183.7,248.7 L1184.0,249.5 L1184.3,248.9 L1184.7,248.9 L1185.0,249.1 L1185.3,248.4 L1185.6,247.9 L1185.9,249.2 L1186.3,249.2 L1186.6,250.4 L1186.9,249.1 L1187.2,249.3 L1187.5,250.3 L1187.8,248.8 L1188.2,248.7 L1188.5,249.5 L1188.8,249.3 L1189.1,249.6 L1189.4,248.6 L1189.8,250.0 L1190.1,249.3 L1190.4,247.9 L1190.7,249.0 L1191.0,248.8 L1191.3,249.2 L1191.7,249.8 L1192.0,249.1 L1192.3,248.9 L1192.6,249.8 L1192.9,248.9 L1193.3,248.4 L1193.6,248.5 L1193.9,250.1 L1194.2,249.8 L1194.5,250.2 L1194.8,248.5 L1195.2,248.8 L1195.5,248.8 L1195.8,249.7 L1196.1,249.9 L1196.4,249.2 L1196.8,249.2 L1197.1,249.8 L1197.4,249.2 L1197.7,248.9 L1198.0,249.1 L1198.3,249.9 L1198.7,250.6 L1199.0,249.4 L1199.3,249.2 L1199.6,249.5 L1199.9,249.6 L1200.3,249.7 L1200.6,248.9 L1200.9,249.4 L1201.2,249.3 L1201.5,249.9 L1201.8,249.7 L1202.2,249.3 L1202.5,250.0 L1202.8,250.2 L1203.1,249.6 L1203.4,248.7 L1203.8,249.3 L1204.1,248.5 L1204.4,249.5 L1204.7,249.6 L1205.0,250.3 L1205.3,249.8 L1205.7,248.6 L1206.0,249.3 L1206.3,249.0 L1206.6,249.0 L1206.9,249.5 L1207.2,249.6 L1207.6,249.4 L1207.9,249.1 L1208.2,249.2 L1208.5,249.2 L1208.8,249.4 L1209.2,250.0 L1209.5,249.7 L1209.8,250.1 L1210.1,248.9 L1210.4,250.9 L1210.7,249.7 L1211.1,248.1 L1211.4,249.8 L1211.7,250.3 L1212.0,249.6 L1212.3,248.8 L1212.7,249.7 L1213.0,249.2 L1213.3,249.6 L1213.6,249.9 L1213.9,247.7 L1214.2,249.6 L1214.6,250.0 L1214.9,250.0 L1215.2,249.4 L1215.5,249.4 L1215.8,249.2 L1216.2,249.6 L1216.5,250.6 L1216.8,249.4 L1217.1,249.9 L1217.4,249.9 L1217.7,250.7 L1218.1,250.1 L1218.4,250.2 L1218.7,249.8 L1219.0,250.7 L1219.3,249.7 L1219.7,249.7 L1220.0,250.5 L1220.3,250.2 L1220.6,250.3 L1220.9,249.3 L1221.2,251.4 L1221.6,250.0 L1221.9,250.9 L1222.2,250.1 L1222.5,249.3 L1222.8,250.3 L1223.2,249.8 L1223.5,250.4 L1223.8,248.7 L1224.1,249.3 L1224.4,249.2 L1224.7,250.7 L1225.1,250.6 L1225.4,249.3 L1225.7,250.1 L1226.0,250.1 L1226.3,249.7 L1226.7,250.7 L1227.0,249.5 L1227.3,250.0 L1227.6,249.7 L1227.9,250.4 L1228.2,249.7 L1228.6,250.4 L1228.9,249.4 L1229.2,249.3 L1229.5,249.5 L1229.8,249.7 L1230.2,249.7 L1230.5,251.7 L1230.8,249.5 L1231.1,250.2 L1231.4,250.0 L1231.7,250.3 L1232.1,250.9 L1232.4,250.4 L1232.7,249.7 L1233.0,249.2 L1233.3,250.5 L1233.7,250.7 L1234.0,249.2 L1234.3,250.7 L1234.6,248.9 L1234.9,250.1 L1235.2,250.7 L1235.6,249.6 L1235.9,249.1 L1236.2,251.1 L1236.5,249.2 L1236.8,250.4 L1237.1,249.3 L1237.5,250.5 L1237.8,251.2 L1238.1,249.9 L1238.4,249.7 L1238.7,249.0 L1239.1,249.2 L1239.4,249.8 L1239.7,250.4 L1240.0,250.6 L1240.3,250.5 L1240.6,250.8 L1241.0,250.5 L1241.3,251.9 L1241.6,250.2 L1241.9,250.3 L1242.2,248.8 L1242.6,249.9 L1242.9,250.6 L1243.2,250.0" stroke="#1414e6" stroke-width="2.8" fill="none" stroke-linejoin="round"/>
<path d="M969.5,247.4 L969.6,244.8 L969.6,193.8 L969.6,244.8 L969.7,244.8 L969.8,250.1 L969.8,339.3 L969.8,250.1 L969.9,250.1 L970.1,236.3 L970.4,239.8 L970.6,247.2 L970.8,242.6 L971.1,238.4 L971.3,240.3 L971.5,240.7 L971.7,245.9 L972.0,245.0 L972.2,242.0 L972.4,238.5 L972.6,245.8 L972.9,247.0 L973.1,237.6 L973.3,246.2 L973.6,237.9 L973.8,241.4 L974.0,238.7 L974.2,235.1 L974.5,239.5 L974.7,239.2 L974.9,246.2 L975.1,245.3 L975.4,239.7 L975.6,236.1 L975.8,236.7 L976.1,232.8 L976.3,241.2 L976.5,241.6 L976.7,238.3 L977.0,242.4 L977.2,242.7 L977.4,246.8 L977.6,238.4 L977.9,246.9 L978.1,240.4 L978.1,233.0 L978.1,240.4 L978.1,240.4 L978.3,248.4 L978.6,237.9 L978.8,246.8 L979.0,239.0 L979.2,249.1 L979.5,244.4 L979.7,237.6 L979.9,245.9 L980.1,242.3 L980.4,244.5 L980.6,252.2 L980.8,241.3 L981.0,240.8 L981.3,247.2 L981.5,240.2 L981.7,245.9 L982.0,246.8 L982.2,242.6 L982.4,245.4 L982.6,233.1 L982.9,249.1 L983.1,239.5 L983.3,238.5 L983.5,250.9 L983.8,249.8 L984.0,240.3 L984.2,244.7 L984.5,241.1 L984.7,237.9 L984.9,244.2 L985.1,247.1 L985.4,254.0 L985.6,241.8 L985.8,246.5 L986.0,241.4 L986.3,241.7 L986.5,248.5 L986.7,235.5 L987.0,238.2 L987.2,239.2 L987.2,216.9 L987.2,239.2 L987.2,239.2 L987.4,247.7 L987.4,271.5 L987.4,247.7 L987.4,247.7 L987.6,244.4 L987.9,245.0 L988.1,244.5 L988.3,247.4 L988.5,240.9 L988.8,241.8 L989.0,241.2 L989.2,244.9 L989.5,237.4 L989.7,242.0 L989.9,254.2 L990.1,245.5 L990.4,243.0 L990.6,238.8 L990.8,244.1 L991.0,243.9 L991.3,245.6 L991.5,240.1 L991.7,244.7 L992.0,245.3 L992.2,245.9 L992.4,240.5 L992.6,245.1 L992.9,249.8 L993.1,240.3 L993.3,245.8 L993.5,241.4 L993.8,241.3 L994.0,237.9 L994.2,238.6 L994.5,245.3 L994.7,243.6 L994.9,248.3 L995.1,235.9 L995.4,241.1 L995.6,237.1 L995.8,244.3 L996.0,251.5 L996.3,236.6 L996.5,242.6 L996.7,242.4 L997.0,242.7 L997.2,240.3 L997.4,240.8 L997.6,249.6 L997.9,238.5 L998.1,245.2 L998.1,280.8 L998.1,245.2 L998.1,245.2 L998.3,244.9 L998.5,235.8 L998.8,239.2 L999.0,244.4 L999.2,250.7 L999.5,242.4 L999.7,240.8 L999.9,243.4 L1000.1,248.2 L1000.4,242.5 L1000.6,244.2 L1000.8,237.9 L1001.0,235.2 L1001.3,234.1 L1001.5,241.2 L1001.7,237.0 L1002.0,235.4 L1002.2,239.6 L1002.4,237.9 L1002.6,228.3 L1002.9,236.0 L1003.1,233.0 L1003.3,238.3 L1003.5,236.1 L1003.8,243.2 L1004.0,235.9 L1004.2,230.7 L1004.5,226.7 L1004.7,230.2 L1004.9,232.1 L1005.1,234.6 L1005.4,237.1 L1005.6,235.2 L1005.8,232.0 L1006.0,237.8 L1006.3,230.7 L1006.5,238.6 L1006.7,241.9 L1007.0,238.7 L1007.2,241.4 L1007.4,240.2 L1007.6,229.8 L1007.9,235.3 L1008.1,233.6 L1008.3,229.7 L1008.5,229.2 L1008.8,236.6 L1009.0,228.9 L1009.2,232.8 L1009.4,234.4 L1009.7,232.6 L1009.9,240.4 L1009.9,224.6 L1009.9,240.4 L1009.9,240.4 L1010.1,237.7 L1010.4,234.9 L1010.6,231.9 L1010.8,235.9 L1011.0,234.9 L1011.3,230.3 L1011.5,228.5 L1011.7,231.2 L1011.9,229.1 L1012.2,236.0 L1012.4,235.6 L1012.6,233.0 L1012.9,235.6 L1013.1,236.4 L1013.3,227.4 L1013.5,235.1 L1013.8,238.3 L1014.0,232.3 L1014.2,226.6 L1014.4,233.9 L1014.7,229.1 L1014.9,236.1 L1015.1,236.3 L1015.4,237.1 L1015.6,234.8 L1015.8,226.6 L1016.0,239.0 L1016.3,227.4 L1016.5,238.4 L1016.7,235.2 L1016.9,230.7 L1017.2,231.6 L1017.4,233.0 L1017.6,241.0 L1017.9,232.7 L1018.1,238.4 L1018.3,223.5 L1018.5,235.0 L1018.8,233.3 L1019.0,238.9 L1019.2,236.1 L1019.4,239.5 L1019.7,230.0 L1019.9,235.2 L1020.1,231.7 L1020.4,236.9 L1020.6,236.1 L1020.8,228.7 L1021.0,238.1 L1021.3,241.5 L1021.5,232.3 L1021.7,238.8 L1021.9,235.8 L1022.2,230.2 L1022.4,237.4 L1022.6,230.3 L1022.9,236.8 L1023.1,227.8 L1023.3,228.5 L1023.5,235.9 L1023.8,234.8 L1024.0,237.4 L1024.2,233.1 L1024.4,229.2 L1024.7,239.9 L1024.9,230.1 L1025.1,239.4 L1025.4,237.5 L1025.6,241.3 L1025.8,225.1 L1025.8,254.6 L1025.8,225.1 L1025.8,225.1 L1026.0,233.6 L1026.3,232.9 L1026.5,236.7 L1026.7,229.4 L1026.9,242.6 L1027.2,233.7 L1027.4,224.7 L1027.6,235.4 L1027.9,233.7 L1028.1,231.0 L1028.3,237.2 L1028.5,233.7 L1028.8,229.8 L1029.0,233.0 L1029.2,232.2 L1029.4,235.2 L1029.7,232.4 L1029.9,233.5 L1030.1,227.7 L1030.4,230.7 L1030.6,234.7 L1030.8,243.9 L1031.0,230.7 L1031.3,230.6 L1031.5,237.5 L1031.7,242.0 L1031.9,238.4 L1032.2,229.8 L1032.4,238.1 L1032.6,235.6 L1032.9,232.7 L1033.1,228.5 L1033.3,233.7 L1033.5,234.0 L1033.8,235.9 L1034.0,226.8 L1034.2,229.2 L1034.4,234.0 L1034.7,239.4 L1034.9,236.9 L1035.1,231.2 L1035.4,236.6 L1035.6,229.8 L1035.8,232.0 L1036.0,232.3 L1036.3,230.8 L1036.5,231.5 L1036.7,237.1 L1036.9,234.9 L1037.2,223.8 L1037.4,238.5 L1037.6,235.5 L1037.8,229.0 L1038.1,234.1 L1038.3,236.8 L1038.5,239.0 L1038.8,231.2 L1039.0,229.2 L1039.2,227.6 L1039.4,233.2 L1039.7,229.1 L1039.9,237.7 L1040.1,232.7 L1040.3,236.2 L1040.6,232.7 L1040.8,230.3 L1041.0,228.9 L1041.3,237.5 L1041.5,228.1 L1041.7,235.3 L1041.7,262.3 L1041.7,235.3 L1041.7,235.3 L1041.9,237.6 L1042.2,234.0 L1042.4,239.4 L1042.6,233.3 L1042.8,232.1 L1043.1,234.1 L1043.3,231.1 L1043.5,234.6 L1043.8,233.3 L1044.0,239.3 L1044.2,233.1 L1044.4,236.8 L1044.7,235.1 L1044.9,233.6 L1045.1,232.4 L1045.3,240.1 L1045.6,239.7 L1045.8,234.5 L1045.8,181.5 L1045.8,234.5 L1045.8,234.5 L1046.0,231.2 L1046.0,339.3 L1046.0,231.2 L1046.0,231.2 L1046.3,231.7 L1046.5,229.5 L1046.7,227.8 L1046.9,231.1 L1047.2,233.2 L1047.4,237.4 L1047.6,237.1 L1047.8,235.1 L1048.1,232.0 L1048.3,232.2 L1048.5,233.1 L1048.8,233.7 L1049.0,230.5 L1049.2,232.2 L1049.4,231.8 L1049.7,231.8 L1049.9,235.3 L1050.1,237.3 L1050.3,231.0 L1050.6,231.3 L1050.8,234.0 L1051.0,234.8 L1051.3,223.6 L1051.5,236.3 L1051.7,234.1 L1051.9,232.1 L1052.2,238.1 L1052.4,232.8 L1052.6,225.9 L1052.8,229.5 L1053.1,230.8 L1053.3,231.0 L1053.5,233.0 L1053.8,229.6 L1054.0,234.2 L1054.2,235.4 L1054.4,233.2 L1054.7,229.9 L1054.9,232.4 L1055.1,231.0 L1055.3,242.2 L1055.6,228.9 L1055.8,224.2 L1056.0,228.4 L1056.3,235.3 L1056.5,237.5 L1056.7,232.9 L1056.9,238.2 L1057.2,231.1 L1057.4,236.3 L1057.6,230.2 L1057.8,228.6 L1058.1,242.7 L1058.3,233.1 L1058.5,237.3 L1058.8,240.2 L1059.0,237.0 L1059.2,235.4 L1059.4,230.2 L1059.7,240.9 L1059.9,230.2 L1060.1,226.2 L1060.3,232.2 L1060.6,232.4 L1060.8,234.8 L1061.0,239.7 L1061.3,232.6 L1061.5,233.3 L1061.7,231.8 L1061.9,224.2 L1062.2,231.9 L1062.4,233.2 L1062.6,228.5 L1062.8,240.7 L1063.1,239.9 L1063.3,236.7 L1063.5,237.9 L1063.8,232.3 L1064.0,236.6 L1064.2,228.1 L1064.4,229.0 L1064.4,226.9 L1064.4,229.0 L1064.4,229.0 L1064.7,232.2 L1064.9,237.0 L1065.1,232.9 L1065.3,232.1 L1065.6,240.0 L1065.8,234.1 L1066.0,232.7 L1066.2,234.8 L1066.5,229.2 L1066.7,230.7 L1066.9,239.2 L1067.2,235.3 L1067.4,239.3 L1067.6,233.5 L1067.8,239.5 L1068.1,232.1 L1068.3,234.4 L1068.5,232.0 L1068.7,236.7 L1069.0,242.2 L1069.2,228.9 L1069.4,237.0 L1069.7,230.7 L1069.9,234.7 L1070.1,233.8 L1070.3,229.1 L1070.6,235.4 L1070.8,231.1 L1071.0,243.2 L1071.2,233.5 L1071.5,238.3 L1071.7,237.9 L1071.9,237.4 L1072.2,236.1 L1072.4,230.8 L1072.6,245.5 L1072.8,237.7 L1073.1,240.9 L1073.3,233.2 L1073.5,239.9 L1073.7,236.4 L1074.0,240.0 L1074.2,235.7 L1074.4,234.4 L1074.7,240.3 L1074.9,238.6 L1075.1,244.8 L1075.3,237.7 L1075.6,235.5 L1075.8,242.5 L1076.0,237.2 L1076.2,247.6 L1076.5,247.0 L1076.7,245.6 L1076.9,242.8 L1077.2,241.3 L1077.4,241.7 L1077.6,241.7 L1077.8,239.3 L1078.1,243.2 L1078.3,245.9 L1078.5,245.9 L1078.7,235.2 L1079.0,249.7 L1079.2,242.8 L1079.4,237.6 L1079.7,240.8 L1079.9,245.2 L1080.1,242.6 L1080.3,239.9 L1080.6,238.9 L1080.8,245.8 L1081.0,240.5 L1081.2,242.2 L1081.5,239.6 L1081.7,238.7 L1081.9,244.4 L1082.2,248.1 L1082.4,242.3 L1082.6,237.9 L1082.8,241.5 L1083.1,243.1 L1083.3,236.2 L1083.5,247.4 L1083.7,241.2 L1084.0,246.0 L1084.2,244.1 L1084.4,244.1 L1084.7,239.6 L1084.9,247.6 L1085.1,246.3 L1085.3,249.7 L1085.6,243.0 L1085.8,246.1 L1086.0,243.2 L1086.2,248.0 L1086.5,245.7 L1086.7,241.2 L1086.9,245.1 L1087.2,242.5 L1087.4,242.9 L1087.6,245.7 L1087.8,249.6 L1088.1,241.4 L1088.3,244.0 L1088.5,241.4 L1088.7,251.1 L1089.0,249.9 L1089.2,251.5 L1089.4,247.4 L1089.7,241.2 L1089.9,242.7 L1090.1,244.6 L1090.3,244.1 L1090.6,242.1 L1090.8,245.5 L1091.0,243.2 L1091.2,244.1 L1091.5,251.6 L1091.7,245.8 L1091.9,240.1 L1092.2,245.8 L1092.4,245.0 L1092.6,246.5 L1092.8,246.1 L1093.1,240.9 L1093.3,245.4 L1093.5,247.8 L1093.7,253.7 L1094.0,246.4 L1094.2,250.9 L1094.4,250.4 L1094.6,241.9 L1094.9,242.2 L1095.1,250.7 L1095.3,241.7 L1095.6,243.0 L1095.8,247.0 L1096.0,242.1 L1096.2,249.7 L1096.5,248.4 L1096.7,249.1 L1096.7,200.7 L1096.7,249.1 L1096.7,249.1 L1096.9,248.1 L1096.9,339.3 L1096.9,248.1 L1096.9,248.1 L1097.1,241.6 L1097.4,248.8 L1097.6,248.2 L1097.8,247.5 L1098.1,243.8 L1098.3,245.6 L1098.5,241.7 L1098.7,246.8 L1099.0,248.6 L1099.2,246.1 L1099.4,244.3 L1099.6,247.5 L1099.9,243.6 L1100.1,238.6 L1100.3,246.3 L1100.6,244.3 L1100.8,240.1 L1101.0,246.6 L1101.2,247.2 L1101.5,248.0 L1101.7,243.2 L1101.9,242.8 L1102.1,244.9 L1102.4,244.3 L1102.6,240.4 L1102.8,241.7 L1103.1,249.0 L1103.3,244.5 L1103.5,244.1 L1103.7,242.1 L1104.0,245.2 L1104.2,246.6 L1104.4,246.0 L1104.6,250.2 L1104.9,244.6 L1104.9,225.3 L1104.9,244.6 L1104.9,244.6 L1105.1,246.4 L1105.3,243.0 L1105.3,273.1 L1105.3,243.0 L1105.3,243.0 L1105.6,247.8 L1105.8,245.9 L1106.0,247.6 L1106.2,247.9 L1106.5,242.2 L1106.7,246.0 L1106.9,243.0 L1107.1,248.1 L1107.4,244.2 L1107.6,249.9 L1107.8,246.0 L1108.0,246.1 L1108.1,273.9 L1108.1,246.1 L1108.1,246.1 L1108.3,242.6 L1108.5,243.9 L1108.7,245.1 L1109.0,241.8 L1109.2,243.9 L1109.4,242.7 L1109.6,242.0 L1109.9,244.7 L1110.1,245.4 L1110.3,243.4 L1110.6,245.8 L1110.8,243.2 L1111.0,240.9 L1111.2,241.7 L1111.5,245.7 L1111.7,248.6 L1111.9,244.7 L1112.1,244.9 L1112.4,240.9 L1112.6,245.7 L1112.8,245.1 L1113.1,242.1 L1113.3,246.0 L1113.5,245.0 L1113.7,238.9 L1114.0,239.6 L1114.2,242.4 L1114.4,243.6 L1114.6,247.6 L1114.9,242.6 L1115.1,244.3 L1115.3,243.7 L1115.6,246.1 L1115.8,244.5 L1116.0,245.0 L1116.2,243.4 L1116.5,239.8 L1116.7,243.3 L1116.9,249.8 L1117.1,247.6 L1117.4,249.5 L1117.6,247.0 L1117.8,242.6 L1118.1,243.1 L1118.3,246.4 L1118.5,243.6 L1118.7,246.9 L1119.0,249.0 L1119.2,248.9 L1119.4,247.2 L1119.6,239.8 L1119.9,248.7 L1120.1,240.4 L1120.3,240.1 L1120.6,245.0 L1120.8,244.6 L1121.0,246.4 L1121.2,244.5 L1121.5,242.3 L1121.7,244.4 L1121.9,241.2 L1122.1,240.6 L1122.4,243.3 L1122.6,243.3 L1122.8,244.6 L1123.0,243.3 L1123.3,248.0 L1123.5,243.1 L1123.7,243.7 L1124.0,247.2 L1124.2,237.4 L1124.4,247.5 L1124.6,247.2 L1124.9,243.5 L1125.1,250.6 L1125.3,246.9 L1125.5,249.3 L1125.8,247.5 L1126.0,244.8 L1126.2,243.3 L1126.5,240.8 L1126.7,241.8 L1126.9,240.5 L1127.1,242.4 L1127.4,245.9 L1127.6,240.7 L1127.8,245.9 L1128.0,246.3 L1128.3,239.4 L1128.5,241.8 L1128.7,243.6 L1129.0,241.9 L1129.2,241.5 L1129.4,248.7 L1129.6,244.6 L1129.9,248.1 L1130.1,243.9 L1130.3,246.5 L1130.5,239.9 L1130.8,242.6 L1131.0,246.9 L1131.2,244.4 L1131.5,248.2 L1131.7,244.2 L1131.9,242.5 L1132.1,243.5 L1132.4,250.5 L1132.6,245.4 L1132.8,242.7 L1133.0,243.3 L1133.3,240.6 L1133.5,248.4 L1133.7,242.6 L1134.0,246.4 L1134.2,243.7 L1134.4,243.0 L1134.6,242.1 L1134.9,246.1 L1135.1,243.7 L1135.3,248.1 L1135.5,248.8 L1135.8,242.5 L1136.0,244.5 L1136.2,249.5 L1136.5,247.0 L1136.7,244.2 L1136.9,239.2 L1137.1,240.9 L1137.4,241.7 L1137.6,250.0 L1137.6,270.0 L1137.6,250.0 L1137.6,250.0 L1137.8,244.6 L1138.0,242.7 L1138.0,67.5 L1138.0,242.7 L1138.0,242.7 L1138.3,243.0 L1138.5,242.9 L1138.7,245.0 L1139.0,238.6 L1139.2,239.5 L1139.4,244.5 L1139.6,247.4 L1139.9,237.6 L1140.1,246.0 L1140.3,240.4 L1140.5,238.1 L1140.8,247.3 L1141.0,243.3 L1141.2,245.4 L1141.5,242.6 L1141.7,243.2 L1141.9,237.9 L1142.1,242.3 L1142.4,244.2 L1142.6,240.6 L1142.8,245.1 L1143.0,245.4 L1143.3,237.0 L1143.5,246.9 L1143.7,245.8 L1144.0,244.1 L1144.2,247.6 L1144.4,251.0 L1144.6,240.8 L1144.9,246.7 L1145.1,245.9 L1145.3,245.4 L1145.5,247.4 L1145.8,247.7 L1146.0,243.7 L1146.2,236.4 L1146.5,241.8 L1146.7,241.8 L1146.9,249.0 L1147.1,244.2 L1147.4,248.0 L1147.6,241.7 L1147.8,244.9 L1148.0,244.0 L1148.3,244.4 L1148.5,246.0 L1148.7,249.1 L1148.9,242.3 L1149.0,281.6 L1149.0,242.3 L1149.0,242.3 L1149.2,248.6 L1149.4,248.0 L1149.6,245.1 L1149.9,246.4 L1150.1,243.3 L1150.3,240.9 L1150.5,243.3 L1150.8,243.5 L1151.0,244.1 L1151.2,241.4 L1151.4,250.1 L1151.7,242.9 L1151.9,247.1 L1152.1,248.1 L1152.4,244.1 L1152.6,245.4 L1152.8,242.2 L1153.0,240.6 L1153.3,251.6 L1153.5,244.3 L1153.7,237.8 L1153.9,241.3 L1154.2,239.4 L1154.4,243.8 L1154.6,248.7 L1154.9,247.7 L1155.1,241.8 L1155.3,241.0 L1155.5,246.5 L1155.8,245.0 L1156.0,243.2 L1156.2,249.7 L1156.4,245.2 L1156.7,238.8 L1156.9,237.0 L1157.1,244.4 L1157.4,238.1 L1157.6,245.8 L1157.8,246.7 L1158.0,251.3 L1158.3,241.0 L1158.5,245.3 L1158.7,236.5 L1158.9,243.0 L1159.2,243.4 L1159.4,249.9 L1159.6,239.2 L1159.9,245.2 L1160.1,244.6 L1160.3,251.2 L1160.5,241.0 L1160.8,240.8 L1161.0,246.0 L1161.2,243.7 L1161.2,256.9 L1161.2,243.7 L1161.2,243.7 L1161.4,242.8 L1161.7,240.9 L1161.9,243.7 L1162.1,238.4 L1162.4,244.8 L1162.6,246.0 L1162.8,245.5 L1163.0,252.2 L1163.3,246.6 L1163.9,207.4 L1163.9,183.8 L1164.0,207.4 L1164.4,207.4 L1164.6,211.3 L1164.9,216.8 L1165.1,211.0 L1165.3,223.0 L1165.5,214.3 L1165.8,210.3 L1166.0,209.5 L1166.2,216.9 L1166.4,208.5 L1166.7,203.8 L1166.9,215.4 L1167.1,209.6 L1167.4,221.1 L1167.6,223.2 L1167.8,210.4 L1168.0,213.3 L1168.3,212.6 L1168.5,216.5 L1168.7,215.2 L1168.9,209.8 L1169.2,205.4 L1169.4,215.0 L1169.6,222.1 L1169.9,207.8 L1170.1,211.2 L1170.3,210.9 L1170.5,213.3 L1170.8,203.0 L1171.0,214.0 L1171.2,211.9 L1171.4,223.4 L1171.7,217.3 L1171.9,217.9 L1172.1,214.8 L1172.4,213.1 L1172.6,218.4 L1172.8,208.1 L1173.0,223.0 L1173.3,221.6 L1173.5,219.8 L1173.7,227.1 L1173.9,218.6 L1174.2,218.5 L1174.4,223.1 L1174.6,212.9 L1174.8,221.7 L1174.9,253.8 L1174.9,221.7 L1174.9,221.7 L1175.1,221.0 L1175.3,227.0 L1175.5,230.5 L1175.8,225.8 L1176.0,224.6 L1176.2,225.4 L1176.4,219.9 L1176.7,234.7 L1176.9,229.1 L1177.1,250.1 L1177.4,236.9 L1177.6,244.8 L1177.8,244.5 L1178.0,246.9 L1178.3,238.6 L1178.5,244.0 L1178.7,241.3 L1178.9,250.7 L1179.2,237.3 L1179.4,240.5 L1179.6,239.8 L1179.8,236.9 L1180.1,242.8 L1180.3,242.7 L1180.5,239.0 L1180.8,240.2 L1181.0,242.9 L1181.2,241.7 L1181.4,243.9 L1181.7,238.8 L1181.7,293.1 L1181.7,238.8 L1181.7,238.8 L1181.9,237.9 L1182.1,241.7 L1182.3,233.9 L1182.6,248.0 L1182.8,242.6 L1183.0,234.4 L1183.3,243.3 L1183.5,248.2 L1183.7,235.7 L1183.9,239.2 L1184.2,246.4 L1184.4,238.1 L1184.6,245.6 L1184.8,246.9 L1185.1,241.9 L1185.3,243.2 L1185.3,268.5 L1185.3,243.2 L1185.3,243.2 L1185.5,245.8 L1185.8,242.7 L1186.0,245.3 L1186.2,240.8 L1186.2,222.3 L1186.2,240.8 L1186.2,240.8 L1186.4,241.1 L1186.7,237.9 L1186.9,242.9 L1187.1,246.5 L1187.3,246.4 L1187.6,241.9 L1187.8,234.4 L1188.0,237.2 L1188.3,243.4 L1188.5,236.7 L1188.7,245.4 L1188.9,236.3 L1189.2,242.1 L1189.4,237.2 L1189.6,237.8 L1189.8,241.5 L1190.1,238.9 L1190.3,244.7 L1190.5,240.5 L1190.8,235.6 L1191.0,228.1 L1191.2,237.1 L1191.4,239.6 L1191.7,244.1 L1191.9,235.4 L1192.1,246.7 L1192.3,243.1 L1192.6,238.2 L1192.8,244.7 L1193.0,233.2 L1193.3,235.0 L1193.5,241.9 L1193.7,241.8 L1193.9,244.9 L1194.2,245.2 L1194.4,237.4 L1194.6,236.6 L1194.8,237.7 L1195.1,238.0 L1195.3,241.4 L1195.5,237.5 L1195.8,245.1 L1196.0,238.9 L1196.2,232.7 L1196.4,233.3 L1196.7,240.7 L1196.9,240.1 L1197.1,232.9 L1197.3,231.2 L1197.6,244.8 L1197.8,240.3 L1198.0,237.5 L1198.3,233.3 L1198.5,241.9 L1198.7,235.6 L1198.9,239.5 L1199.2,228.3 L1199.4,236.4 L1199.6,238.7 L1199.8,239.5 L1200.1,233.6 L1200.3,235.1 L1200.5,242.4 L1200.8,236.9 L1201.0,243.4 L1201.2,241.0 L1201.2,218.4 L1201.2,241.0 L1201.2,241.0 L1201.4,243.3 L1201.4,274.6 L1201.4,243.3 L1201.4,243.3 L1201.7,243.4 L1201.9,240.8 L1202.1,242.0 L1202.3,235.7 L1202.6,234.6 L1202.8,238.9 L1203.0,242.6 L1203.3,234.6 L1203.5,246.4 L1203.7,246.0 L1203.9,234.9 L1204.2,235.3 L1204.4,233.9 L1204.6,238.9 L1204.8,243.3 L1205.1,240.2 L1205.3,235.7 L1205.5,241.2 L1205.8,241.0 L1206.0,243.9 L1206.2,242.9 L1206.4,234.6 L1206.7,236.2 L1206.9,243.0 L1207.1,242.6 L1207.3,240.5 L1207.6,235.8 L1207.8,243.0 L1208.0,238.9 L1208.2,247.1 L1208.5,243.4 L1208.7,236.4 L1208.9,234.4 L1209.2,243.0 L1209.4,241.4 L1209.6,234.9 L1209.8,239.9 L1210.1,240.5 L1210.3,236.1 L1210.5,237.4 L1210.7,233.6 L1211.0,235.0 L1211.2,240.7 L1211.4,238.8 L1211.7,238.6 L1211.9,244.0 L1212.1,242.4 L1212.3,234.3 L1212.6,245.0 L1212.8,234.2 L1213.0,237.2 L1213.2,238.9 L1213.5,236.1 L1213.7,236.4 L1213.9,233.4 L1214.2,240.1 L1214.4,239.4 L1214.6,239.5 L1214.8,230.6 L1215.1,234.5 L1215.3,242.3 L1215.5,239.9 L1215.7,241.4 L1216.0,238.4 L1216.2,237.6 L1216.4,228.9 L1216.7,246.1 L1216.9,234.2 L1217.1,236.7 L1217.3,241.5 L1217.6,239.2 L1217.8,240.6 L1218.0,238.3 L1218.2,234.4 L1218.5,244.9 L1218.7,233.1 L1218.9,240.1 L1219.2,232.5 L1219.4,237.1 L1219.4,227.7 L1219.4,237.1 L1219.4,237.1 L1219.6,233.8 L1219.8,236.7 L1220.1,234.7 L1220.3,239.1 L1220.5,242.9 L1220.7,236.8 L1221.0,236.8 L1221.2,231.1 L1221.4,248.3 L1221.7,240.9 L1221.9,235.8 L1222.1,245.6 L1222.3,241.4 L1222.6,231.8 L1222.8,234.8 L1223.0,244.5 L1223.2,235.1 L1223.5,236.2 L1223.7,238.0 L1223.9,239.8 L1224.2,240.5 L1224.4,245.3 L1224.6,243.9 L1224.8,238.8 L1225.1,241.4 L1225.3,234.4 L1225.3,226.1 L1225.3,234.4 L1225.3,234.4 L1225.5,243.7 L1225.7,252.4 L1226.0,243.9 L1226.2,241.5 L1226.4,241.2 L1226.7,242.6 L1226.9,246.5 L1227.1,236.9 L1227.3,246.1 L1227.6,240.5 L1227.8,244.7 L1228.0,248.7 L1228.2,237.9 L1228.5,260.1 L1228.5,266.9 L1228.5,260.1 L1228.5,260.1 L1228.7,254.2 L1228.9,249.6 L1229.2,252.6 L1229.4,248.7 L1229.6,252.0 L1229.8,253.5 L1230.1,244.0 L1230.3,252.9 L1230.5,252.9 L1230.7,256.4 L1231.0,255.4 L1231.2,250.4 L1231.4,250.8 L1231.7,253.1 L1231.9,255.8 L1232.1,250.9 L1232.3,259.9 L1232.6,255.0 L1232.8,254.8 L1233.0,257.2 L1233.2,253.6 L1233.5,256.8 L1233.5,95.2 L1233.5,256.8 L1233.5,256.8 L1233.7,257.5 L1234.2,206.8 L1234.4,214.0 L1234.6,210.1 L1234.8,218.0 L1235.1,210.7 L1235.3,211.4 L1235.5,207.7 L1235.7,198.6 L1236.0,217.2 L1236.2,213.0 L1236.4,214.7 L1236.6,234.6 L1236.9,223.5 L1237.1,212.5 L1237.3,207.4 L1237.6,215.7 L1237.8,202.5 L1238.0,200.8 L1238.2,212.8 L1238.5,198.7 L1238.7,195.7 L1238.9,204.6 L1239.1,214.7 L1239.4,196.0 L1239.6,208.0 L1239.8,209.4 L1240.1,205.6 L1240.3,210.3 L1240.5,198.3 L1240.7,200.4 L1241.0,197.0 L1241.2,201.5 L1241.4,211.6 L1241.6,206.8 L1241.6,188.4 L1241.7,206.8 L1241.6,206.8 L1241.9,199.0 L1242.1,208.3 L1242.3,184.2 L1242.6,206.9 L1242.8,209.3 L1243.0,196.3 L1243.2,199.2" stroke="#ff0a0a" stroke-width="2.3" fill="none" stroke-linejoin="round"/>
</g>
<rect x="937.2" y="31.3" width="340.8" height="269.5" fill="none" stroke="#7a7a7a" stroke-width="2.0"/>
<path d="M959.9,300.8v-4 M959.9,31.3v4 M1050.8,300.8v-4 M1050.8,31.3v4 M1141.7,300.8v-4 M1141.7,31.3v4 M1232.6,300.8v-4 M1232.6,31.3v4 M1005.4,300.8v-2.0 M1005.4,31.3v2.0 M1096.2,300.8v-2.0 M1096.2,31.3v2.0 M1187.1,300.8v-2.0 M1187.1,31.3v2.0 M1278.0,300.8v-2.0 M1278.0,31.3v2.0 M937.2,262.3h4 M1278.0,262.3h-4 M937.2,185.3h4 M1278.0,185.3h-4 M937.2,108.3h4 M1278.0,108.3h-4 M937.2,31.3h4 M1278.0,31.3h-4 M937.2,300.8h2.0 M1278.0,300.8h-2.0 M937.2,223.8h2.0 M1278.0,223.8h-2.0 M937.2,146.8h2.0 M1278.0,146.8h-2.0 M937.2,69.8h2.0 M1278.0,69.8h-2.0 " stroke="#7a7a7a" stroke-width="1.5" fill="none"/>
<text x="931.0" y="36.3" font-size="16.2" text-anchor="end" fill="#454545" stroke="#454545" stroke-width="0.6" textLength="19.7" lengthAdjust="spacingAndGlyphs">30</text>
<text x="931.0" y="113.8" font-size="16.2" text-anchor="end" fill="#454545" stroke="#454545" stroke-width="0.6" textLength="19.7" lengthAdjust="spacingAndGlyphs">20</text>
<text x="931.0" y="190.6" font-size="16.2" text-anchor="end" fill="#454545" stroke="#454545" stroke-width="0.6" textLength="19.7" lengthAdjust="spacingAndGlyphs">10</text>
<text x="931.0" y="267.3" font-size="16.2" text-anchor="end" fill="#454545" stroke="#454545" stroke-width="0.6" textLength="9.8" lengthAdjust="spacingAndGlyphs">0</text>
<text x="952.4" y="319.3" font-size="16.2" text-anchor="start" fill="#454545" stroke="#454545" stroke-width="0.6" textLength="9.8" lengthAdjust="spacingAndGlyphs">0</text>
<text x="1036.5" y="319.3" font-size="16.2" text-anchor="start" fill="#454545" stroke="#454545" stroke-width="0.6" textLength="29.8" lengthAdjust="spacingAndGlyphs">200</text>
<text x="1127.1" y="319.3" font-size="16.2" text-anchor="start" fill="#454545" stroke="#454545" stroke-width="0.6" textLength="29.8" lengthAdjust="spacingAndGlyphs">400</text>
<text x="1217.6" y="319.3" font-size="16.2" text-anchor="start" fill="#454545" stroke="#454545" stroke-width="0.6" textLength="29.8" lengthAdjust="spacingAndGlyphs">600</text>
<text x="1064.7" y="347.8" font-size="22.0" text-anchor="start" fill="#303030" stroke="#303030" stroke-width="0.6" textLength="49.9" lengthAdjust="spacingAndGlyphs">Time</text>
<path d="M1122.35,351.70 L1129.35,330.80" stroke="#303030" stroke-width="1.9" stroke-linecap="butt"/>
<text x="1137.7" y="347.8" font-size="22.0" text-anchor="start" fill="#303030" stroke="#303030" stroke-width="0.6" textLength="8.3" lengthAdjust="spacingAndGlyphs">s</text>
<text x="-1.05" y="0" font-size="21.0" fill="#303030" stroke="#303030" stroke-width="0.6" textLength="151.22" lengthAdjust="spacingAndGlyphs" transform="translate(900.70 269.80) rotate(-90)">Sensor current</text>
<text x="-1.46" y="0" font-size="21.0" fill="#303030" stroke="#303030" stroke-width="0.6" textLength="26.50" lengthAdjust="spacingAndGlyphs" transform="translate(900.70 94.40) rotate(-90)">µA</text>
<path d="M903.60,112.00 L883.80,103.20" stroke="#303030" stroke-width="1.9"/>
<text x="1015.9" y="80.4" font-size="22.0" text-anchor="start" fill="#303030" stroke="#303030" stroke-width="0.6" textLength="30.2" lengthAdjust="spacingAndGlyphs">2.6</text>
<text x="1052.6" y="80.4" font-size="22.0" text-anchor="start" fill="#303030" stroke="#303030" stroke-width="0.6" textLength="29.1" lengthAdjust="spacingAndGlyphs">cm</text>
<text x="1088.3" y="80.4" font-size="22.0" text-anchor="start" fill="#303030" stroke="#303030" stroke-width="0.6" textLength="8.0" lengthAdjust="spacingAndGlyphs">s</text>
<text x="1097.7" y="74.0" font-size="13.8" text-anchor="start" fill="#303030" stroke="#303030" stroke-width="0.6" textLength="3.5" lengthAdjust="spacingAndGlyphs">-</text>
<text x="1102.8" y="74.0" font-size="13.8" text-anchor="start" fill="#303030" stroke="#303030" stroke-width="0.6" textLength="6.6" lengthAdjust="spacingAndGlyphs">1</text>
<text x="-1.6" y="377.0" font-size="22.5" text-anchor="start" fill="#303030" stroke="#303030" stroke-width="0.6" textLength="28.7" lengthAdjust="spacingAndGlyphs">(d)</text>
<clipPath id="c3"><rect x="65.3" y="391.4" width="337.9" height="277.2"/></clipPath>
<g clip-path="url(#c3)">
<path d="M107.4,270.7 L107.5,323.8 L107.5,376.8 L107.6,429.8 L107.7,482.8 L107.8,535.8 L107.9,544.0 L108.0,548.0 L108.1,551.4 L108.1,554.5 L108.2,557.3 L108.3,559.7 L108.4,562.0 L108.5,564.0 L108.6,565.9 L108.6,567.6 L108.7,569.2 L108.8,570.6 L108.9,572.0 L109.0,573.2 L109.1,574.4 L109.1,575.5 L109.2,576.6 L109.3,577.5 L109.4,578.4 L109.5,579.3 L109.6,580.1 L109.6,580.9 L109.7,581.6 L109.8,582.3 L109.9,583.0 L110.0,583.6 L110.1,584.2 L110.1,584.8 L110.2,585.3 L110.3,585.9 L110.4,586.4 L110.5,586.9 L110.6,587.3 L110.6,587.8 L110.7,588.2 L110.8,588.6 L110.9,589.0 L111.0,589.4 L111.1,589.8 L111.1,590.1 L111.2,590.5 L111.3,590.8 L111.4,591.1 L111.5,591.4 L111.6,591.7 L111.7,592.0 L111.7,592.3 L111.8,592.6 L111.9,592.8 L112.0,593.1 L112.1,593.4 L112.2,593.6 L112.2,593.8 L112.3,594.1 L112.4,594.3 L112.5,594.5 L112.6,594.7 L112.7,594.9 L112.7,595.1 L112.8,595.3 L112.9,595.5 L113.0,595.7 L113.1,595.9 L113.2,596.1 L113.2,596.3 L113.3,596.4 L113.4,596.6 L113.5,596.8 L113.6,596.9 L113.7,597.1 L113.7,597.2 L113.8,597.4 L113.9,597.5 L114.0,597.7 L114.1,597.8 L114.2,598.0 L114.2,598.1 L114.3,598.2 L114.4,598.3 L114.5,598.5 L114.6,598.6 L114.7,598.7 L114.7,598.8 L114.8,599.0 L114.9,599.1 L115.0,599.2 L115.1,599.3 L115.2,599.4 L115.2,599.5 L115.3,599.6 L115.4,599.7 L115.5,599.8 L115.6,599.9 L115.7,600.0 L115.8,600.1 L115.8,600.2 L115.9,600.3 L116.0,600.4 L116.1,600.5 L116.2,600.6 L116.3,600.7 L116.3,600.8 L116.4,600.8 L116.5,600.9 L116.6,601.0 L116.7,601.1 L116.8,601.2 L116.8,601.2 L116.9,601.3 L117.0,601.4 L117.1,601.5 L117.2,601.5 L117.3,601.6 L117.3,601.7 L117.4,601.8 L117.5,601.8 L117.6,601.9 L117.7,602.0 L117.8,602.0 L117.8,602.1 L117.9,602.2 L118.0,602.2 L118.1,602.3 L118.2,602.4 L118.3,602.4 L118.3,602.5 L118.4,602.5 L118.5,602.6 L118.6,602.7 L118.7,602.7 L118.8,602.8 L118.8,602.8 L118.9,602.9 L119.0,602.9 L119.1,603.0 L119.2,603.1 L119.3,603.1 L119.4,603.2 L119.4,603.2 L119.5,603.3 L119.6,603.3 L119.7,603.4 L119.8,603.4 L119.9,603.5 L119.9,603.5 L120.0,603.6 L120.1,603.6 L120.2,603.7 L120.3,603.7 L120.4,603.7 L120.4,603.8 L120.5,603.8 L120.6,603.9 L120.7,603.9 L120.8,604.0 L120.9,604.0 L120.9,604.1 L121.0,604.1 L121.1,604.1 L121.2,604.2 L121.3,604.2 L121.4,604.3 L121.4,604.3 L121.5,604.3 L121.6,604.4 L121.7,604.4 L121.8,604.5 L121.9,604.5 L121.9,604.5 L122.0,604.6 L122.1,604.6 L122.2,604.6 L122.3,604.7 L122.4,604.7 L122.4,604.7 L122.5,604.8 L122.6,604.8 L122.7,604.8 L122.8,604.9 L122.9,604.9 L123.0,604.9 L123.0,605.0 L123.1,605.0 L123.2,605.0 L123.3,605.1 L123.4,605.1 L123.5,605.1 L123.5,605.2 L123.6,605.2 L123.7,605.2 L123.8,605.3 L123.9,605.3 L124.0,605.3 L124.0,605.4 L124.1,605.4 L124.2,605.4 L124.3,605.4 L124.4,605.5 L124.5,605.5 L124.5,605.5 L124.6,605.6 L124.7,605.6 L124.8,605.6 L124.9,605.6 L125.0,605.7 L125.0,605.7 L125.1,605.7 L125.2,605.7 L125.3,605.8 L125.4,605.8 L125.5,605.8 L125.5,605.8 L125.6,605.9 L125.7,605.9 L125.8,605.9 L125.9,605.9 L126.0,606.0 L126.0,606.0 L126.1,606.0 L126.2,606.0 L126.3,606.1 L126.4,606.1 L126.5,606.1 L126.5,606.1 L126.6,606.2 L126.7,606.2 L126.8,606.2 L126.9,606.2 L127.0,606.3 L127.1,606.3 L127.1,606.3 L127.2,606.3 L127.3,606.3 L127.4,606.4 L127.5,606.4 L127.6,606.4 L127.6,606.4 L127.7,606.4 L127.8,606.5 L127.9,606.5 L128.0,606.5 L128.1,606.5 L128.1,606.5 L128.2,606.6 L128.3,606.6 L128.4,606.6 L128.5,606.6 L128.6,606.6 L128.6,606.7 L128.7,606.7 L128.8,606.7 L128.9,606.7 L129.0,606.7 L129.1,606.8 L129.1,606.8 L129.2,606.8 L129.3,606.8 L129.4,606.8 L129.5,606.9 L129.6,606.9 L129.6,606.9 L129.7,606.9 L129.8,606.9 L129.9,606.9 L130.0,607.0 L130.1,607.0 L130.1,607.0 L130.2,607.0 L130.3,607.0 L130.4,607.0 L130.5,607.1 L130.6,607.1 L130.7,607.1 L130.7,607.1 L130.8,607.1 L130.9,607.1 L131.0,607.2 L131.1,607.2 L131.2,607.2 L131.2,607.2 L131.3,607.2 L131.4,607.2 L131.5,607.3 L131.6,607.3 L131.7,607.3 L131.7,607.3 L131.8,607.3 L131.9,607.3 L132.0,607.3 L132.1,607.4 L132.2,607.4 L132.2,607.4 L132.3,608.3 L132.4,606.3 L132.5,606.5 L132.6,607.7 L132.7,607.8 L132.7,607.5 L132.8,606.9 L132.9,607.7 L133.0,608.2 L133.1,607.3 L133.2,608.9 L133.2,607.5 L133.3,606.8 L133.4,607.4 L133.5,607.1 L133.6,607.3 L133.7,607.2 L133.7,607.5 L133.8,608.2 L133.9,607.8 L134.0,607.7 L134.1,606.9 L134.2,606.7 L134.2,607.5 L134.3,608.2 L134.4,608.2 L134.5,607.9 L134.6,606.9 L134.7,607.6 L134.8,607.8 L134.8,608.3 L134.9,607.3 L135.0,607.6 L135.1,607.9 L135.2,607.8 L135.3,606.8 L135.3,608.0 L135.4,606.8 L135.5,607.1 L135.6,607.9 L135.7,607.4 L135.8,608.0 L135.8,608.5 L135.9,608.1 L136.0,608.6 L136.1,607.7 L136.2,608.0 L136.3,607.6 L136.3,607.5 L136.4,610.0 L136.5,607.8 L136.6,609.2 L136.7,608.0 L136.8,608.6 L136.8,608.0 L136.9,607.2 L137.0,609.2 L137.1,608.0 L137.2,608.2 L137.3,609.3 L137.3,607.7 L137.4,608.1 L137.5,608.5 L137.6,608.6 L137.7,606.1 L137.8,608.5 L137.8,609.4 L137.9,608.8 L138.0,608.5 L138.1,608.5 L138.2,608.3 L138.3,608.9 L138.4,607.9 L138.4,608.6 L138.5,609.2 L138.6,608.8 L138.7,608.6 L138.8,607.8 L138.9,608.0 L138.9,608.6 L139.0,608.3 L139.1,608.2 L139.2,607.1 L139.3,608.8 L139.4,608.1 L139.4,607.9 L139.5,609.0 L139.6,608.3 L139.7,608.3 L139.8,608.7 L139.9,608.1 L139.9,607.8 L140.0,607.7 L140.1,608.6 L140.2,608.4 L140.3,607.0 L140.4,609.2 L140.4,608.4 L140.5,607.9 L140.6,608.4 L140.7,608.1 L140.8,608.4 L140.8,608.1 L141.2,607.8 L141.6,608.8 L142.1,608.5 L142.5,608.7 L142.9,609.0 L143.3,608.8 L143.8,609.6 L144.2,608.4 L144.6,607.8 L145.0,607.9 L145.5,608.2 L145.9,609.6 L146.3,608.1 L146.7,609.5 L147.2,609.1 L147.6,608.0 L148.0,609.9 L148.4,608.7 L148.9,609.1 L149.3,609.4 L149.7,609.9 L150.1,609.1 L150.5,609.6 L151.0,608.7 L151.4,608.6 L151.8,610.3 L152.2,609.8 L152.7,609.7 L153.1,610.3 L153.5,610.2 L153.9,609.5 L154.4,609.7 L154.8,610.7 L155.2,610.0 L155.6,609.3 L156.1,610.4 L156.5,610.3 L156.9,608.7 L157.3,608.9 L157.8,610.8 L158.2,610.6 L158.6,609.6 L159.0,610.6 L159.5,610.0 L159.9,610.2 L160.3,609.5 L160.7,611.5 L161.2,611.3 L161.6,610.7 L162.0,609.3 L162.4,610.1 L162.9,611.1 L163.3,609.7 L163.7,609.6 L164.1,610.2 L164.6,610.3 L165.0,609.8 L165.4,609.3 L165.8,610.0 L166.3,609.8 L166.7,610.2 L167.1,610.4 L167.5,610.8 L168.0,610.0 L168.4,610.4 L168.8,610.4 L169.2,609.7 L169.7,609.9 L170.1,609.7 L170.5,611.3 L170.9,609.9 L171.4,610.7 L171.8,610.8 L172.2,610.9 L172.6,609.6 L173.1,609.8 L173.5,610.8 L173.9,611.1 L174.3,610.4 L174.8,610.7 L175.2,609.4 L175.6,611.4 L176.0,611.6 L176.5,610.6 L176.9,610.5 L177.3,610.4 L177.7,610.0 L178.2,609.2 L178.6,610.8 L179.0,610.9 L179.4,611.7 L179.9,610.4 L180.3,610.0 L180.7,610.8 L181.1,609.8 L181.6,610.6 L182.0,609.7 L182.4,610.4 L182.8,611.3 L183.3,611.1 L183.7,611.6 L184.1,611.8 L184.5,610.5 L185.0,610.1 L185.4,609.5 L185.8,610.7 L186.2,610.9 L186.7,611.4 L187.1,610.1 L187.5,610.5 L187.9,611.1 L188.4,610.3 L188.8,610.4 L189.2,612.0 L189.6,610.3 L190.1,610.7 L190.5,611.1 L190.9,611.1 L191.3,609.7 L191.8,609.9 L192.2,609.7 L192.6,611.6 L193.0,611.3 L193.5,610.3 L193.9,611.7 L194.3,611.3 L194.7,612.0 L195.2,609.7 L195.6,610.2 L196.0,610.6 L196.4,610.8 L196.9,611.2 L197.3,611.2 L197.7,610.6 L198.1,611.4 L198.6,610.2 L199.0,611.3 L199.4,611.5 L199.8,610.2 L200.3,611.1 L200.7,610.6 L201.1,611.3 L201.5,612.5 L202.0,610.7 L202.4,611.9 L202.8,610.3 L203.2,612.0 L203.7,612.2 L204.1,610.9 L204.5,610.8 L204.9,611.0 L205.4,611.9 L205.8,610.5 L206.2,612.0 L206.6,611.4 L207.1,611.6 L207.5,611.3 L207.9,610.6 L208.3,611.5 L208.8,610.8 L209.2,610.7 L209.6,612.3 L210.0,611.9 L210.5,611.4 L210.9,611.6 L211.3,611.0 L211.7,612.5 L212.2,610.8 L212.6,610.8 L213.0,611.4 L213.4,612.2 L213.9,611.3 L214.3,611.7 L214.7,611.0 L215.1,611.4 L215.6,610.9 L216.0,611.7 L216.4,610.5 L216.8,612.9 L217.3,612.1 L217.7,611.1 L218.1,612.4 L218.5,611.0 L219.0,612.3 L219.4,611.5 L219.8,612.1 L220.2,611.8 L220.7,611.4 L221.1,611.6 L221.5,611.8 L221.9,610.2 L222.4,611.6 L222.8,612.3 L223.2,611.1 L223.6,611.1 L224.1,610.9 L224.5,610.6 L224.9,612.3 L225.3,611.0 L225.8,611.0 L226.2,611.8 L226.6,611.6 L227.0,613.7 L227.5,612.2 L227.9,610.7 L228.3,613.0 L228.7,612.2 L229.2,611.7 L229.6,611.5 L230.0,610.8 L230.4,613.0 L230.9,611.9 L231.3,611.4 L231.7,612.8 L232.1,612.0 L232.6,610.8 L233.0,611.1 L233.4,611.7 L233.8,613.7 L234.2,612.1 L234.7,611.8 L235.1,612.2 L235.5,612.1 L235.9,610.1 L236.4,612.2 L236.8,612.7 L237.2,612.0 L237.6,612.3 L238.1,612.3 L238.5,612.2 L238.9,611.7 L239.3,612.0 L239.8,613.0 L240.2,612.3 L240.6,611.9 L241.0,612.5 L241.5,611.5 L241.9,611.8 L242.3,612.9 L242.7,612.1 L243.2,611.0 L243.6,611.3 L244.0,612.4 L244.4,611.8 L244.9,612.8 L245.3,613.3 L245.7,612.0 L246.1,612.3 L246.6,612.1 L247.0,612.5 L247.4,612.2 L247.8,612.8 L248.3,612.2 L248.7,612.0 L249.1,612.5 L249.5,612.0 L250.0,613.7 L250.4,613.0 L250.8,611.6 L251.2,611.4 L251.7,612.4 L252.1,612.7 L252.5,613.4 L252.9,612.4 L253.4,612.1 L253.8,613.6 L254.2,612.3 L254.6,612.4 L255.1,612.4 L255.5,613.4 L255.9,612.4 L256.3,613.7 L256.8,611.8 L257.2,612.7 L257.6,613.5 L258.0,611.9 L258.5,612.1 L258.9,613.2 L259.3,611.4 L259.7,613.5 L260.2,612.6 L260.6,612.1 L261.0,614.3 L261.4,612.2 L261.9,612.9 L262.3,612.9 L262.7,613.6 L263.1,612.7 L263.6,613.7 L264.0,613.6 L264.4,613.3 L264.8,613.8 L265.3,612.0 L265.7,613.9 L266.1,613.5 L266.5,613.2 L267.0,613.0 L267.4,612.6 L267.8,612.6 L268.2,613.3 L268.7,613.3 L269.1,613.1 L269.5,612.6 L269.9,612.7 L270.4,613.5 L270.8,614.5 L271.2,611.8 L271.6,612.6 L272.1,613.0 L272.5,613.0 L272.9,613.6 L273.3,613.9 L273.8,613.5 L274.2,613.4 L274.6,613.7 L275.0,614.2 L275.5,613.5 L275.9,612.9 L276.3,613.6 L276.7,613.3 L277.2,614.7 L277.6,613.5 L278.0,613.5 L278.4,614.2 L278.9,614.5 L279.3,613.1 L279.7,613.9 L280.1,613.1 L280.6,613.7 L281.0,613.1 L281.4,613.7 L281.8,614.4 L282.3,613.6 L282.7,613.7 L283.1,613.1 L283.5,613.8 L284.0,613.8 L284.4,613.0 L284.8,612.8 L285.2,613.1 L285.7,612.9 L286.1,613.3 L286.5,613.1 L286.9,613.1 L287.4,613.4 L287.8,613.6 L288.2,613.6 L288.6,612.1 L289.1,613.7 L289.5,613.9 L289.9,614.0 L290.3,613.8 L290.8,613.6 L291.2,614.5 L291.6,615.0 L292.0,613.6 L292.5,614.8 L292.9,613.6 L293.3,613.7 L293.7,613.1 L294.2,612.8 L294.6,613.6 L295.0,614.2 L295.4,614.6 L295.9,614.4 L296.3,613.9 L296.7,615.2 L297.1,613.9 L297.6,613.9 L298.0,613.5 L298.4,614.2 L298.8,613.9 L299.3,614.5 L299.7,614.3 L300.1,615.1 L300.5,613.9 L301.0,613.0 L301.4,613.9 L301.8,613.8 L302.2,614.7 L302.7,613.2 L303.1,614.6 L303.5,613.6 L303.9,614.0 L304.4,614.7 L304.8,613.5 L305.2,614.1 L305.6,614.0 L306.1,613.9 L306.5,614.2 L306.9,614.4 L307.3,613.9 L307.8,614.5 L308.2,614.2 L308.6,614.7 L309.0,615.2 L309.5,614.7 L309.9,614.6 L310.3,614.3 L310.7,613.5 L311.2,615.4 L311.6,614.2 L312.0,615.7 L312.4,615.0 L312.9,614.7 L313.3,615.8 L313.7,615.6 L314.1,614.3 L314.6,614.4 L315.0,614.5 L315.4,614.9 L315.8,613.1 L316.3,614.6 L316.7,615.0 L317.1,613.4 L317.5,614.1 L318.0,614.7 L318.4,613.8 L318.8,614.4 L319.2,614.1 L319.6,614.4 L320.1,615.2 L320.5,613.9 L320.9,614.5 L321.3,615.2 L321.8,615.1 L322.2,614.0 L322.6,614.9 L323.0,614.6 L323.5,614.2 L323.9,614.6 L324.3,615.6 L324.7,614.3 L325.2,614.1 L325.6,614.2 L326.0,613.7 L326.4,614.5 L326.9,614.2 L327.3,613.7 L327.7,615.0 L328.1,613.7 L328.6,613.7 L329.0,614.3 L329.4,613.6 L329.8,614.3 L330.3,615.4 L330.7,614.1 L331.1,614.6 L331.5,614.6 L332.0,614.8 L332.4,614.0 L332.8,614.6 L333.2,615.4 L333.7,614.6 L334.1,614.5 L334.5,615.4 L334.9,615.2 L335.4,615.2 L335.8,615.4 L336.2,614.8 L336.6,614.4 L337.1,613.8 L337.5,614.3 L337.9,614.4 L338.3,614.3 L338.8,614.2 L339.2,615.3 L339.6,614.6 L340.0,614.9 L340.5,615.2 L340.9,615.4 L341.3,615.5 L341.7,615.3 L342.2,615.9 L342.6,614.8 L343.0,615.2 L343.4,615.1 L343.9,615.0 L344.3,614.7 L344.7,615.6 L345.1,615.3 L345.6,616.3 L346.0,616.7 L346.4,616.5 L346.8,614.3 L347.3,616.5 L347.7,615.0 L348.1,614.4 L348.5,615.6 L349.0,614.3 L349.4,614.2 L349.8,614.8 L350.2,613.9 L350.7,615.0 L351.1,615.9 L351.5,615.1 L351.9,615.7 L352.4,616.3 L352.8,616.2 L353.2,614.0 L353.6,615.8 L354.1,615.5 L354.5,615.9 L354.9,615.4 L355.3,615.6 L355.8,615.8 L356.2,616.3 L356.6,616.4 L357.0,616.0 L357.5,615.4 L357.9,614.2 L358.3,614.9 L358.7,614.4 L359.2,615.3 L359.6,615.7 L360.0,616.5 L360.4,615.6 L360.9,617.0 L361.3,615.8 L361.7,614.6 L362.1,615.5 L362.6,615.0 L363.0,615.9 L363.4,616.6 L363.8,616.0 L364.3,616.0 L364.7,615.0 L365.1,614.5 L365.5,616.2 L366.0,616.0 L366.4,615.9 L366.8,616.0 L367.2,616.6 L367.7,615.8 L368.1,615.6 L368.5,615.6 L368.9,616.6 L369.4,615.9 L369.8,617.0 L370.2,615.3 L370.6,616.5 L371.1,616.1 L371.5,616.2 L371.9,616.3 L372.3,616.6 L372.8,617.1 L373.2,614.8 L373.6,615.8 L374.0,615.8 L374.5,614.6 L374.9,616.1 L375.3,615.7 L375.7,616.0 L376.2,615.3 L376.6,615.7 L377.0,615.8 L377.4,616.2 L377.9,615.9 L378.3,615.3" stroke="#1414e6" stroke-width="2.6" fill="none" stroke-linejoin="round"/>
<path d="M107.4,270.7 L107.5,323.8 L107.5,376.8 L107.6,429.8 L107.7,482.8 L107.8,535.8 L107.9,544.0 L108.0,548.0 L108.1,551.4 L108.1,554.5 L108.2,557.3 L108.3,559.7 L108.4,562.0 L108.5,564.0 L108.6,565.9 L108.6,567.6 L108.7,569.2 L108.8,570.6 L108.9,572.0 L109.0,573.2 L109.1,574.4 L109.1,575.5 L109.2,576.6 L109.3,577.5 L109.4,578.4 L109.5,579.3 L109.6,580.1 L109.6,580.9 L109.7,581.6 L109.8,582.3 L109.9,583.0 L110.0,583.6 L110.1,584.2 L110.1,584.8 L110.2,585.3 L110.3,585.9 L110.4,586.4 L110.5,586.9 L110.6,587.3 L110.6,587.8 L110.7,588.2 L110.8,588.6 L110.9,589.0 L111.0,589.4 L111.1,589.8 L111.1,590.1 L111.2,590.5 L111.3,590.8 L111.4,591.1 L111.5,591.4 L111.6,591.7 L111.7,592.0 L111.7,592.3 L111.8,592.6 L111.9,592.8 L112.0,593.1 L112.1,593.4 L112.2,593.6 L112.2,593.8 L112.3,594.1 L112.4,594.3 L112.5,594.5 L112.6,594.7 L112.7,594.9 L112.7,595.1 L112.8,595.3 L112.9,595.5 L113.0,595.7 L113.1,595.9 L113.2,596.1 L113.2,596.3 L113.3,596.4 L113.4,596.6 L113.5,596.8 L113.6,596.9 L113.7,597.1 L113.7,597.2 L113.8,597.4 L113.9,597.5 L114.0,597.7 L114.1,597.8 L114.2,598.0 L114.2,598.1 L114.3,598.2 L114.4,598.3 L114.5,598.5 L114.6,598.6 L114.7,598.7 L114.7,598.8 L114.8,599.0 L114.9,599.1 L115.0,599.2 L115.1,599.3 L115.2,599.4 L115.2,599.5 L115.3,599.6 L115.4,599.7 L115.5,599.8 L115.6,599.9 L115.7,600.0 L115.8,600.1 L115.8,600.2 L115.9,600.3 L116.0,600.4 L116.1,600.5 L116.2,600.6 L116.3,600.7 L116.3,600.8 L116.4,600.8 L116.5,600.9 L116.6,601.0 L116.7,601.1 L116.8,601.2 L116.8,601.2 L116.9,601.3 L117.0,601.4 L117.1,601.5 L117.2,601.5 L117.3,601.6 L117.3,601.7 L117.4,601.8 L117.5,601.8 L117.6,601.9 L117.7,602.0 L117.8,602.0 L117.8,602.1 L117.9,602.2 L118.0,602.2 L118.1,602.3 L118.2,602.4 L118.3,602.4 L118.3,602.5 L118.4,602.5 L118.5,602.6 L118.6,602.7 L118.7,602.7 L118.8,602.8 L118.8,602.8 L118.9,602.9 L119.0,602.9 L119.1,603.0 L119.2,603.1 L119.3,603.1 L119.4,603.2 L119.4,603.2 L119.5,603.3 L119.6,603.3 L119.7,603.4 L119.8,603.4 L119.9,603.5 L119.9,603.5 L120.0,603.6 L120.1,603.6 L120.2,603.7 L120.3,603.7 L120.4,603.7 L120.4,603.8 L120.5,603.8 L120.6,603.9 L120.7,603.9 L120.8,604.0 L120.9,604.0 L120.9,604.1 L121.0,604.1 L121.1,604.1 L121.2,604.2 L121.3,604.2 L121.4,604.3 L121.4,604.3 L121.5,604.3 L121.6,604.4 L121.7,604.4 L121.8,604.5 L121.9,604.5 L121.9,604.5 L122.0,604.6 L122.1,604.6 L122.2,604.6 L122.3,604.7 L122.4,604.7 L122.4,604.7 L122.5,604.8 L122.6,604.8 L122.7,604.8 L122.8,604.9 L122.9,604.9 L123.0,604.9 L123.0,605.0 L123.1,605.0 L123.2,605.0 L123.3,605.1 L123.4,605.1 L123.5,605.1 L123.5,605.2 L123.6,605.2 L123.7,605.2 L123.8,605.3 L123.9,605.3 L124.0,605.3 L124.0,605.4 L124.1,605.4 L124.2,605.4 L124.3,605.4 L124.4,605.5 L124.5,605.5 L124.5,605.5 L124.6,605.6 L124.7,605.6 L124.8,605.6 L124.9,605.6 L125.0,605.7 L125.0,605.7 L125.1,605.7 L125.2,605.7 L125.3,605.8 L125.4,605.8 L125.5,605.8 L125.5,605.8 L125.6,605.9 L125.7,605.9 L125.8,605.9 L125.9,605.9 L126.0,606.0 L126.0,606.0 L126.1,606.0 L126.2,606.0 L126.3,606.1 L126.4,606.1 L126.5,606.1 L126.5,606.1 L126.6,606.2 L126.7,606.2 L126.8,606.2 L126.9,606.2 L127.0,606.3 L127.1,606.3 L127.1,606.3 L127.2,606.3 L127.3,606.3 L127.4,606.4 L127.5,606.4 L127.6,606.4 L127.6,606.4 L127.7,606.4 L127.8,606.5 L127.9,606.5 L128.0,606.5 L128.1,606.5 L128.1,606.5 L128.2,606.6 L128.3,606.6 L128.4,606.6 L128.5,606.6 L128.6,606.6 L128.6,606.7 L128.7,606.7 L128.8,606.7 L128.9,606.7 L129.0,606.7 L129.1,606.8 L129.1,606.8 L129.2,606.8 L129.3,606.8 L129.4,606.8 L129.5,606.9 L129.6,606.9 L129.6,606.9 L129.7,606.9 L129.8,606.9 L129.9,606.9 L130.0,607.0 L130.1,607.0 L130.1,607.0 L130.2,607.0 L130.3,607.0 L130.4,607.0 L130.5,607.1 L130.6,607.1 L130.7,607.1 L130.7,607.1 L130.8,607.1 L130.9,607.1 L131.0,607.2 L131.1,607.2 L131.2,607.2 L131.2,607.2 L131.3,607.2 L131.4,607.2 L131.5,607.3 L131.6,607.3 L131.7,607.3 L131.7,607.3 L131.8,607.3 L131.9,607.3 L132.0,607.3 L132.1,607.4 L132.2,607.4 L132.2,607.4 L132.3,607.4 L132.4,607.4 L132.5,607.4 L132.6,607.4 L132.7,607.5 L132.7,607.5 L132.8,607.5 L132.9,607.5 L133.0,607.5 L133.1,607.5 L133.2,607.5 L133.2,607.6 L133.3,607.6 L133.4,607.6 L133.5,607.6 L133.6,607.6 L133.7,607.6 L133.7,607.6 L133.8,607.7 L133.9,607.7 L134.0,607.7 L134.1,607.7 L134.2,607.7 L134.2,607.7 L134.3,607.7 L134.4,607.7 L134.5,607.8 L134.6,607.8 L134.7,607.8 L134.8,607.8 L134.8,607.8 L134.9,607.8 L135.0,607.8 L135.1,607.8 L135.2,607.9 L135.3,607.9 L135.3,607.9 L135.4,607.9 L135.5,607.9 L135.6,607.9 L135.7,607.9 L135.8,607.9 L135.8,607.9 L135.9,608.0 L136.0,608.0 L136.1,608.0 L136.2,608.0 L136.3,608.0 L136.3,608.0 L136.4,608.0 L136.5,608.0 L136.6,608.1 L136.7,608.1 L136.8,608.1 L136.8,608.1 L136.9,608.1 L137.0,608.1 L137.1,608.1 L137.2,608.1 L137.3,608.1 L137.3,608.1 L137.4,608.2 L137.5,608.2 L137.6,608.2 L137.7,608.2 L137.8,608.2 L137.8,608.2 L137.9,608.2 L138.0,608.2 L138.1,608.2 L138.2,608.3 L138.3,608.3 L138.4,608.3 L138.4,608.3 L138.5,608.3 L138.6,608.3 L138.7,608.3 L138.8,608.3 L138.9,608.3 L138.9,608.3 L139.0,608.3 L139.1,608.4 L139.2,608.4 L139.3,608.4 L139.4,608.4 L139.4,608.4 L139.5,608.4 L139.6,608.4 L139.7,608.4 L139.8,608.4 L139.9,608.4 L139.9,608.5 L140.0,608.5 L140.1,608.5 L140.2,608.5 L140.3,608.5 L140.4,608.5 L140.4,608.5 L140.5,608.5 L140.6,608.5 L140.7,608.5 L140.8,608.5 L140.8,616.6 L141.0,610.1 L141.3,611.1 L141.5,610.7 L141.8,616.3 L142.1,607.2 L142.3,612.5 L142.6,610.4 L142.8,611.4 L143.1,615.3 L143.3,611.2 L143.6,615.9 L143.8,612.9 L144.1,610.8 L144.3,609.7 L144.6,609.5 L144.9,610.2 L145.1,602.5 L145.4,608.2 L145.6,613.8 L145.9,611.8 L145.9,611.9 L145.9,601.8 L145.9,611.9 L146.1,611.9 L146.4,610.3 L146.6,611.7 L146.9,612.6 L147.2,604.2 L147.4,609.6 L147.7,610.9 L147.9,610.6 L148.2,610.5 L148.4,605.1 L148.7,608.1 L148.9,606.0 L149.2,619.3 L149.4,608.7 L149.7,606.2 L150.0,603.1 L150.2,609.7 L150.5,615.5 L150.7,607.8 L151.0,611.8 L151.2,615.8 L151.5,611.8 L151.7,606.2 L151.8,605.7 L151.8,589.8 L151.8,605.7 L152.0,605.7 L152.2,607.4 L152.2,613.3 L152.2,633.7 L152.3,613.3 L152.5,613.3 L152.8,601.3 L153.0,613.7 L153.3,610.0 L153.5,614.6 L153.8,605.4 L154.0,608.3 L154.3,606.8 L154.5,609.5 L154.8,610.0 L155.1,609.2 L155.2,616.1 L155.2,623.3 L155.2,616.1 L155.3,616.1 L155.6,606.5 L155.8,606.7 L156.1,611.1 L156.1,609.8 L156.1,596.2 L156.1,609.8 L156.3,609.8 L156.6,608.8 L156.8,604.5 L157.1,608.4 L157.3,609.7 L157.6,611.5 L157.9,614.8 L158.1,611.8 L158.4,609.6 L158.6,610.7 L158.9,609.6 L159.1,607.3 L159.4,608.4 L159.6,608.9 L159.9,607.6 L160.2,609.2 L160.4,609.9 L160.7,608.2 L160.9,615.6 L161.2,605.6 L161.4,614.1 L161.7,607.0 L161.9,609.8 L162.2,606.1 L162.4,609.7 L162.7,613.0 L163.0,606.2 L163.2,609.2 L163.5,609.4 L163.7,609.6 L164.0,606.5 L164.2,607.1 L164.5,609.1 L164.6,615.0 L164.6,655.2 L164.6,615.0 L164.7,615.0 L165.0,611.2 L165.3,609.5 L165.5,603.8 L165.8,608.6 L166.0,610.2 L166.3,605.8 L166.5,610.2 L166.8,609.9 L167.0,609.3 L167.3,614.9 L167.5,606.7 L167.8,608.4 L168.1,610.8 L168.3,613.7 L168.6,609.2 L168.8,605.2 L169.1,612.0 L169.3,613.4 L169.6,608.5 L169.8,615.2 L170.1,617.3 L170.3,611.4 L170.6,612.2 L170.9,610.8 L171.1,611.7 L171.4,608.8 L171.6,610.6 L171.9,611.9 L172.1,611.4 L172.4,607.8 L172.6,606.7 L172.9,606.9 L173.2,607.6 L173.4,619.6 L173.7,613.3 L173.9,611.0 L174.2,609.2 L174.4,615.3 L174.7,605.2 L174.9,608.9 L175.2,612.0 L175.4,609.4 L175.7,611.1 L176.0,612.5 L176.2,608.2 L176.5,611.4 L176.7,614.7 L177.0,612.1 L177.2,610.3 L177.5,613.6 L177.7,605.7 L178.0,613.6 L178.3,604.1 L178.5,606.9 L178.8,613.1 L179.0,609.5 L179.3,606.0 L179.5,610.6 L179.8,613.9 L179.9,609.6 L179.9,642.5 L179.9,609.6 L180.0,609.6 L180.3,603.3 L180.5,614.9 L180.8,608.1 L181.1,609.9 L181.3,610.4 L181.6,611.3 L181.8,611.0 L182.1,606.5 L182.3,608.0 L182.6,613.3 L182.8,604.7 L183.1,614.3 L183.3,607.8 L183.6,609.4 L183.9,606.0 L184.1,608.8 L184.4,606.4 L184.6,610.1 L184.9,606.7 L185.1,608.8 L185.4,602.8 L185.6,612.3 L185.9,606.0 L186.2,608.4 L186.4,609.4 L186.7,611.9 L186.9,608.5 L187.2,614.9 L187.4,614.6 L187.7,607.6 L187.9,615.2 L188.2,605.2 L188.4,610.9 L188.7,609.2 L189.0,609.8 L189.2,608.6 L189.5,610.9 L189.7,611.2 L190.0,610.4 L190.2,606.5 L190.5,606.2 L190.7,605.8 L191.0,608.8 L191.3,610.7 L191.5,615.7 L191.8,607.9 L192.0,607.2 L192.3,611.4 L192.5,607.3 L192.8,605.7 L193.0,609.7 L193.3,606.5 L193.5,609.0 L193.8,615.9 L194.1,611.6 L194.3,611.4 L194.6,608.3 L194.8,613.0 L195.1,611.5 L195.3,613.3 L195.6,610.2 L195.8,609.8 L196.1,606.8 L196.4,607.4 L196.6,609.5 L196.9,609.3 L197.1,609.7 L197.4,609.7 L197.6,604.9 L197.9,618.4 L198.1,610.7 L198.4,609.0 L198.6,606.3 L198.9,613.8 L199.2,608.9 L199.4,607.2 L199.7,611.6 L199.9,616.5 L200.2,611.3 L200.4,614.1 L200.7,607.9 L200.9,613.0 L201.2,604.2 L201.4,609.6 L201.7,612.8 L202.0,611.8 L202.2,613.8 L202.5,608.8 L202.7,605.1 L203.0,610.9 L203.2,607.0 L203.5,613.3 L203.7,609.1 L204.0,602.4 L204.3,614.9 L204.5,606.0 L204.8,606.2 L205.0,616.5 L205.3,615.0 L205.5,613.4 L205.8,606.9 L206.0,611.6 L206.3,610.7 L206.5,607.8 L206.8,609.8 L207.1,609.4 L207.3,611.3 L207.6,606.4 L207.8,612.8 L208.1,604.6 L208.3,611.3 L208.6,612.9 L208.8,608.0 L209.1,608.7 L209.4,616.8 L209.6,609.5 L209.9,614.7 L210.1,613.0 L210.4,607.6 L210.6,613.1 L210.9,609.0 L211.1,611.5 L211.4,603.8 L211.6,610.6 L211.9,614.2 L212.2,613.9 L212.4,613.3 L212.5,609.8 L212.5,709.5 L212.5,609.8 L212.7,609.8 L212.9,610.3 L213.2,607.0 L213.4,609.7 L213.7,609.8 L213.9,609.2 L214.2,610.7 L214.5,609.3 L214.7,607.7 L215.0,607.7 L215.2,612.1 L215.5,616.2 L215.7,613.0 L216.0,609.4 L216.2,618.7 L216.5,611.9 L216.7,608.8 L217.0,612.2 L217.3,614.1 L217.5,604.5 L217.8,605.7 L218.0,611.2 L218.3,605.9 L218.5,606.0 L218.8,614.1 L219.0,601.4 L219.3,613.5 L219.5,611.2 L219.8,614.0 L220.1,610.1 L220.3,614.8 L220.6,610.4 L220.8,606.8 L221.1,609.7 L221.3,611.3 L221.6,605.2 L221.8,613.4 L222.1,607.2 L222.4,611.4 L222.6,609.7 L222.9,610.3 L223.1,610.0 L223.4,610.6 L223.6,613.1 L223.9,612.3 L224.1,609.0 L224.4,610.8 L224.6,614.3 L224.9,612.8 L225.2,612.8 L225.4,610.7 L225.7,609.9 L225.9,610.2 L226.2,612.7 L226.4,610.4 L226.7,615.1 L226.9,620.1 L227.2,610.7 L227.5,616.0 L227.7,613.7 L228.0,614.6 L228.2,608.4 L228.5,614.6 L228.7,609.6 L229.0,612.2 L229.2,614.7 L229.5,615.8 L229.7,609.0 L230.0,609.3 L230.3,608.0 L230.5,604.4 L230.8,609.7 L231.0,609.7 L231.3,611.0 L231.3,610.3 L231.3,598.6 L231.3,610.3 L231.5,610.3 L231.8,611.8 L232.0,613.6 L232.3,603.9 L232.6,616.9 L232.8,609.8 L233.1,609.2 L233.3,610.1 L233.6,613.9 L233.8,611.3 L234.1,612.2 L234.3,614.3 L234.6,610.8 L234.8,612.0 L235.1,612.5 L235.4,608.4 L235.6,614.3 L235.9,609.2 L236.1,612.8 L236.4,609.3 L236.6,610.5 L236.9,609.9 L237.1,614.0 L237.4,613.3 L237.6,613.6 L237.9,610.2 L238.2,608.3 L238.4,607.2 L238.7,612.4 L238.9,610.5 L239.2,616.2 L239.4,618.2 L239.7,613.7 L239.9,613.0 L240.2,616.0 L240.5,616.7 L240.7,609.0 L241.0,613.5 L241.2,616.4 L241.5,603.1 L241.7,610.3 L241.7,611.9 L241.7,584.2 L241.7,611.9 L242.0,611.9 L242.1,608.6 L242.2,630.5 L242.2,608.6 L242.2,608.6 L242.5,613.4 L242.7,605.5 L243.0,616.0 L243.3,615.2 L243.5,611.3 L243.8,613.4 L244.0,606.2 L244.3,616.2 L244.5,613.3 L244.8,610.1 L245.0,609.0 L245.3,607.6 L245.6,609.8 L245.8,603.6 L246.1,612.5 L246.3,610.3 L246.6,608.1 L246.8,612.0 L247.1,611.9 L247.3,612.5 L247.6,613.1 L247.8,614.7 L248.1,612.8 L248.4,616.1 L248.6,609.7 L248.9,616.3 L249.1,604.1 L249.4,605.3 L249.6,607.3 L249.9,611.7 L250.1,613.0 L250.4,606.9 L250.4,610.4 L250.4,547.5 L250.4,610.4 L250.7,610.4 L250.8,609.2 L250.8,633.7 L250.8,609.2 L250.9,609.2 L251.2,613.4 L251.4,607.5 L251.7,613.7 L251.9,610.7 L252.2,616.8 L252.4,613.2 L252.7,609.4 L252.9,612.6 L253.2,612.6 L253.5,608.4 L253.7,611.3 L254.0,606.9 L254.2,619.1 L254.5,609.2 L254.7,609.4 L255.0,616.2 L255.2,615.4 L255.5,608.2 L255.7,614.7 L256.0,613.2 L256.3,609.1 L256.5,612.2 L256.8,609.5 L257.0,614.0 L257.3,610.1 L257.5,607.5 L257.8,610.0 L258.0,618.4 L258.3,609.0 L258.6,610.9 L258.8,614.2 L259.1,606.5 L259.3,617.0 L259.6,604.9 L259.7,613.3 L259.7,595.4 L259.8,613.3 L259.8,613.3 L260.1,605.9 L260.3,611.3 L260.6,615.6 L260.8,610.8 L261.1,610.0 L261.4,609.3 L261.6,607.6 L261.9,614.1 L262.1,609.5 L262.4,608.7 L262.6,612.0 L262.9,614.2 L263.1,614.3 L263.4,608.6 L263.7,608.4 L263.9,613.9 L264.2,615.6 L264.4,607.0 L264.7,616.3 L264.9,610.6 L265.2,613.8 L265.4,616.9 L265.7,610.7 L265.9,611.7 L266.2,606.3 L266.5,603.5 L266.7,611.7 L267.0,607.6 L267.2,607.6 L267.5,612.8 L267.7,613.9 L268.0,605.7 L268.2,612.3 L268.5,611.1 L268.7,612.0 L269.0,611.5 L269.3,613.1 L269.5,608.5 L269.8,606.8 L270.0,612.3 L270.3,615.6 L270.5,610.9 L270.8,616.0 L271.0,613.1 L271.3,606.9 L271.6,603.3 L271.8,609.8 L272.1,614.6 L272.3,608.4 L272.6,618.5 L272.8,613.3 L273.1,605.9 L273.3,608.5 L273.6,615.6 L273.8,616.5 L274.1,608.1 L274.4,611.1 L274.6,612.9 L274.9,609.6 L275.1,612.9 L275.4,617.4 L275.6,608.3 L275.9,613.1 L276.1,614.3 L276.4,615.4 L276.4,610.1 L276.4,593.8 L276.4,610.1 L276.7,610.1 L276.9,613.6 L277.2,608.9 L277.4,611.8 L277.7,607.3 L277.9,612.2 L278.2,613.1 L278.4,617.5 L278.7,614.6 L278.9,608.5 L279.2,601.2 L279.5,615.1 L279.7,614.4 L280.0,609.8 L280.2,609.3 L280.5,613.2 L280.7,610.6 L281.0,616.2 L281.2,611.9 L281.5,607.9 L281.8,605.4 L281.8,611.4 L281.8,603.4 L281.8,611.4 L282.0,611.4 L282.3,611.7 L282.5,609.4 L282.8,607.2 L283.0,609.2 L283.3,613.4 L283.5,609.7 L283.8,607.6 L284.0,613.2 L284.3,615.3 L284.6,609.1 L284.8,609.6 L285.1,607.6 L285.3,610.5 L285.6,613.0 L285.8,612.3 L286.1,614.2 L286.3,614.0 L286.6,612.7 L286.8,612.4 L287.1,607.1 L287.4,614.9 L287.6,611.0 L287.9,612.8 L288.1,605.8 L288.4,609.9 L288.6,612.0 L288.9,608.1 L289.1,610.5 L289.4,612.4 L289.7,605.6 L289.9,608.4 L290.2,605.0 L290.3,606.9 L290.3,597.8 L290.3,606.9 L290.4,606.9 L290.7,608.2 L290.9,610.3 L291.2,614.3 L291.4,608.4 L291.7,610.5 L291.9,608.5 L292.2,610.7 L292.5,613.0 L292.7,614.1 L293.0,608.4 L293.2,606.4 L293.5,611.7 L293.7,609.2 L294.0,606.1 L294.2,613.5 L294.5,611.8 L294.8,614.4 L295.0,606.7 L295.3,609.8 L295.5,612.2 L295.8,616.2 L296.0,611.3 L296.3,607.3 L296.5,611.6 L296.8,612.1 L297.0,608.5 L297.3,614.7 L297.6,610.5 L297.8,608.6 L298.1,613.2 L298.3,613.4 L298.6,609.8 L298.8,610.9 L299.1,611.4 L299.3,609.9 L299.6,609.9 L299.7,613.7 L299.7,598.6 L299.7,613.7 L299.9,613.7 L300.1,612.8 L300.4,609.1 L300.6,606.9 L300.9,606.1 L301.1,613.4 L301.4,606.9 L301.6,608.0 L301.9,610.7 L302.1,608.9 L302.4,607.8 L302.7,604.6 L302.9,614.1 L303.2,608.5 L303.4,611.0 L303.7,611.2 L303.9,606.7 L304.2,607.8 L304.4,613.9 L304.7,611.5 L304.9,609.8 L305.2,615.2 L305.5,607.6 L305.7,610.8 L306.0,610.0 L306.2,609.4 L306.5,604.5 L306.7,610.4 L307.0,611.7 L307.2,604.7 L307.5,612.1 L307.8,612.2 L308.0,615.1 L308.3,606.9 L308.5,609.6 L308.8,608.9 L309.0,609.9 L309.3,610.9 L309.5,613.0 L309.8,613.0 L310.0,609.0 L310.3,610.0 L310.6,605.0 L310.8,612.9 L311.1,612.0 L311.3,613.8 L311.6,605.8 L311.8,614.5 L312.1,607.9 L312.3,605.6 L312.6,610.9 L312.9,608.0 L313.1,617.4 L313.4,611.7 L313.5,615.9 L313.5,656.8 L313.5,615.9 L313.6,615.9 L313.9,609.8 L314.1,610.3 L314.4,612.9 L314.6,607.2 L314.9,609.2 L315.1,612.1 L315.4,612.1 L315.7,615.2 L315.9,611.0 L316.2,603.3 L316.4,612.7 L316.7,608.9 L316.9,612.2 L317.2,607.7 L317.4,608.9 L317.5,611.1 L317.5,586.6 L317.5,611.1 L317.7,611.1 L318.0,616.2 L317.9,612.0 L318.0,636.1 L318.0,612.0 L318.2,612.0 L318.5,606.3 L318.7,611.1 L319.0,608.2 L319.2,611.9 L319.5,616.5 L319.7,608.9 L320.0,609.2 L320.2,612.3 L320.5,611.6 L320.8,609.3 L321.0,612.3 L321.3,609.1 L321.5,611.0 L321.8,618.6 L322.0,610.8 L322.3,612.4 L322.5,613.3 L322.8,608.8 L323.0,612.0 L323.3,608.3 L323.6,606.2 L323.8,609.7 L324.1,615.9 L324.3,612.9 L324.6,606.7 L324.8,611.1 L325.1,613.1 L325.3,610.4 L325.6,608.1 L325.9,609.0 L326.1,607.4 L326.4,613.1 L326.6,610.9 L326.9,610.8 L327.1,609.9 L327.4,618.1 L327.6,610.7 L327.9,615.1 L328.1,604.1 L328.4,603.4 L328.7,602.9 L328.9,606.3 L329.2,611.5 L329.4,605.7 L329.7,610.3 L329.9,607.0 L330.2,613.0 L330.4,611.7 L330.7,607.5 L331.0,602.2 L331.2,609.4 L331.5,600.2 L331.7,598.2 L332.0,614.3 L332.2,609.3 L332.5,612.9 L332.7,609.6 L332.8,611.2 L332.8,597.8 L332.8,611.2 L333.0,611.2 L333.2,609.3 L333.5,605.1 L333.8,605.2 L334.0,607.9 L334.3,608.9 L334.5,608.4 L334.8,608.3 L335.0,606.5 L335.3,608.7 L335.5,606.7 L335.8,613.9 L336.1,605.5 L336.2,601.7 L336.2,621.7 L336.2,601.7 L336.3,601.7 L336.6,607.9 L336.8,614.3 L337.1,603.3 L337.3,610.0 L337.6,620.0 L337.8,609.5 L337.9,606.3 L337.9,596.2 L337.9,606.3 L338.1,606.3 L338.3,607.1 L338.6,603.7 L338.9,606.2 L339.1,608.2 L339.4,616.5 L339.6,613.1 L339.9,608.0 L340.1,606.0 L340.4,612.8 L340.6,611.1 L340.9,606.9 L341.1,616.3 L341.4,616.4 L341.7,609.6 L341.9,607.7 L342.2,610.6 L342.4,617.8 L342.7,608.7 L342.9,614.0 L343.2,606.2 L343.4,609.2 L343.7,607.7 L344.0,606.2 L344.2,610.9 L344.5,605.5 L344.7,603.9 L345.0,607.2 L345.2,603.5 L345.5,611.3 L345.7,605.2 L346.0,607.7 L346.2,612.7 L346.5,609.1 L346.8,610.9 L347.0,611.0 L347.3,608.5 L347.5,604.6 L347.8,610.1 L348.0,608.3 L348.3,614.6 L348.5,608.4 L348.8,604.3 L349.1,605.7 L349.3,607.0 L349.6,610.9 L349.8,612.7 L350.1,609.2 L350.3,614.1 L350.6,613.7 L350.8,605.2 L351.1,612.5 L351.3,601.9 L351.6,614.5 L351.9,607.2 L352.1,613.5 L352.4,608.2 L352.6,613.0 L352.9,608.8 L353.1,609.5 L353.4,610.7 L353.6,606.9 L353.9,603.0 L354.1,611.3 L354.4,605.5 L354.7,608.6 L354.9,609.1 L355.2,600.4 L355.4,617.4 L355.7,611.6 L355.9,616.0 L356.2,610.2 L356.4,609.9 L356.7,597.8 L357.0,607.7 L357.2,602.0 L357.5,604.0 L357.7,610.7 L358.0,607.2 L358.2,602.5 L358.5,608.4 L358.7,608.2 L359.0,607.1 L359.2,614.9 L359.5,612.2 L359.8,607.7 L360.0,606.9 L360.3,612.6 L360.5,610.3 L360.8,609.6 L361.0,609.7 L361.3,606.4 L361.5,608.7 L361.8,608.5 L362.1,614.6 L362.3,613.2 L362.6,607.9 L362.8,615.3 L363.1,608.1 L363.3,611.7 L363.6,612.3 L363.8,606.6 L364.1,611.8 L364.3,612.5 L364.6,611.8 L364.9,608.9 L365.1,598.6 L365.4,617.4 L365.6,609.3 L365.9,610.1 L366.1,605.5 L366.4,610.6 L366.6,618.7 L366.9,604.1 L367.2,613.4 L367.4,609.5 L367.7,614.5 L367.9,613.5 L368.2,611.2 L368.4,605.9 L368.7,606.0 L368.9,611.6 L369.2,607.3 L369.4,610.7 L369.7,608.8 L370.0,608.7 L370.2,606.9 L370.5,611.7 L370.7,609.8 L371.0,608.5 L371.2,609.0 L371.5,612.4 L371.7,602.7 L372.0,611.1 L372.2,606.4 L372.5,608.6 L372.8,604.7 L373.0,617.7 L373.3,601.5 L373.5,610.2 L373.8,614.1 L374.0,608.9 L374.3,600.7 L374.5,607.5 L374.5,599.4 L374.5,607.5 L374.5,607.5 L374.8,614.1 L375.1,611.2 L375.3,604.3 L375.6,614.8 L375.8,610.1 L376.1,610.5 L376.1,601.2 L376.2,621.7 L376.2,601.2 L376.3,601.2 L376.6,610.5 L376.8,604.4 L377.1,612.0 L377.3,612.5 L377.6,605.6 L377.9,607.1 L378.1,616.0 L378.4,607.0 L378.6,607.0 L378.9,611.8 L379.1,608.6 L379.4,608.5" stroke="#ff0a0a" stroke-width="2.4" fill="none" stroke-linejoin="round"/>
<path d="M124.6,310.6 V604.2" stroke="#ff0a0a" stroke-width="2.4"/>
</g>
<rect x="64.3" y="390.4" width="339.9" height="279.2" fill="none" stroke="#7a7a7a" stroke-width="2.0"/>
<path d="M106.8,669.6v-4 M106.8,390.4v4 M191.8,669.6v-4 M191.8,390.4v4 M276.7,669.6v-4 M276.7,390.4v4 M361.7,669.6v-4 M361.7,390.4v4 M64.3,669.6v-2.0 M64.3,390.4v2.0 M149.3,669.6v-2.0 M149.3,390.4v2.0 M234.2,669.6v-2.0 M234.2,390.4v2.0 M319.2,669.6v-2.0 M319.2,390.4v2.0 M404.2,669.6v-2.0 M404.2,390.4v2.0 M64.3,629.7h4 M404.2,629.7h-4 M64.3,549.9h4 M404.2,549.9h-4 M64.3,470.2h4 M404.2,470.2h-4 M64.3,390.4h4 M404.2,390.4h-4 M64.3,669.6h2.0 M404.2,669.6h-2.0 M64.3,589.8h2.0 M404.2,589.8h-2.0 M64.3,510.1h2.0 M404.2,510.1h-2.0 M64.3,430.3h2.0 M404.2,430.3h-2.0 " stroke="#7a7a7a" stroke-width="1.5" fill="none"/>
<text x="56.0" y="396.8" font-size="16.2" text-anchor="end" fill="#454545" stroke="#454545" stroke-width="0.6" textLength="19.7" lengthAdjust="spacingAndGlyphs">30</text>
<text x="56.0" y="475.8" font-size="16.2" text-anchor="end" fill="#454545" stroke="#454545" stroke-width="0.6" textLength="19.7" lengthAdjust="spacingAndGlyphs">20</text>
<text x="56.0" y="555.8" font-size="16.2" text-anchor="end" fill="#454545" stroke="#454545" stroke-width="0.6" textLength="19.7" lengthAdjust="spacingAndGlyphs">10</text>
<text x="56.0" y="635.3" font-size="16.2" text-anchor="end" fill="#454545" stroke="#454545" stroke-width="0.6" textLength="9.8" lengthAdjust="spacingAndGlyphs">0</text>
<text x="98.5" y="687.0" font-size="16.2" text-anchor="start" fill="#454545" stroke="#454545" stroke-width="0.6" textLength="9.8" lengthAdjust="spacingAndGlyphs">0</text>
<text x="176.4" y="687.0" font-size="16.2" text-anchor="start" fill="#454545" stroke="#454545" stroke-width="0.6" textLength="29.8" lengthAdjust="spacingAndGlyphs">100</text>
<text x="261.7" y="687.0" font-size="16.2" text-anchor="start" fill="#454545" stroke="#454545" stroke-width="0.6" textLength="29.8" lengthAdjust="spacingAndGlyphs">200</text>
<text x="347.1" y="687.0" font-size="16.2" text-anchor="start" fill="#454545" stroke="#454545" stroke-width="0.6" textLength="29.8" lengthAdjust="spacingAndGlyphs">300</text>
<text x="190.5" y="723.0" font-size="22.0" text-anchor="start" fill="#303030" stroke="#303030" stroke-width="0.6" textLength="50.0" lengthAdjust="spacingAndGlyphs">Time</text>
<path d="M248.65,726.00 L254.85,705.10" stroke="#303030" stroke-width="1.9" stroke-linecap="butt"/>
<text x="262.7" y="723.0" font-size="22.0" text-anchor="start" fill="#303030" stroke="#303030" stroke-width="0.6" textLength="8.3" lengthAdjust="spacingAndGlyphs">s</text>
<text x="-1.07" y="0" font-size="21.0" fill="#303030" stroke="#303030" stroke-width="0.6" textLength="154.54" lengthAdjust="spacingAndGlyphs" transform="translate(22.40 629.60) rotate(-90)">Sensor current</text>
<text x="-1.47" y="0" font-size="21.0" fill="#303030" stroke="#303030" stroke-width="0.6" textLength="26.82" lengthAdjust="spacingAndGlyphs" transform="translate(22.40 450.80) rotate(-90)">µA</text>
<path d="M25.10,468.40 L5.70,459.65" stroke="#303030" stroke-width="1.9"/>
<text x="164.1" y="440.1" font-size="22.0" text-anchor="start" fill="#303030" stroke="#303030" stroke-width="0.6" textLength="28.5" lengthAdjust="spacingAndGlyphs">6.6</text>
<text x="199.9" y="440.1" font-size="22.0" text-anchor="start" fill="#303030" stroke="#303030" stroke-width="0.6" textLength="28.0" lengthAdjust="spacingAndGlyphs">cm</text>
<text x="234.7" y="440.1" font-size="22.0" text-anchor="start" fill="#303030" stroke="#303030" stroke-width="0.6" textLength="8.3" lengthAdjust="spacingAndGlyphs">s</text>
<text x="244.2" y="433.6" font-size="13.8" text-anchor="start" fill="#303030" stroke="#303030" stroke-width="0.6" textLength="3.5" lengthAdjust="spacingAndGlyphs">-</text>
<text x="249.4" y="433.6" font-size="13.8" text-anchor="start" fill="#303030" stroke="#303030" stroke-width="0.6" textLength="5.9" lengthAdjust="spacingAndGlyphs">1</text>
<text x="439.6" y="377.3" font-size="22.5" text-anchor="start" fill="#303030" stroke="#303030" stroke-width="0.6" textLength="27.6" lengthAdjust="spacingAndGlyphs">(e)</text>
<clipPath id="c4"><rect x="506.5" y="392.2" width="340.5" height="276.5"/></clipPath>
<g clip-path="url(#c4)">
<path d="M549.2,271.8 L549.2,315.2 L549.3,358.6 L549.4,407.0 L549.4,470.6 L549.5,534.2 L549.5,571.0 L549.6,580.5 L549.7,590.1 L549.7,592.7 L549.8,593.0 L549.9,593.2 L549.9,593.5 L550.0,593.8 L550.0,594.0 L550.1,594.3 L550.2,594.5 L550.2,594.8 L550.3,595.1 L550.4,595.3 L550.4,595.6 L550.5,595.8 L550.5,596.1 L550.6,596.4 L550.7,596.6 L550.7,596.9 L550.8,597.2 L550.8,597.4 L550.9,597.7 L551.0,597.9 L551.0,598.2 L551.1,598.5 L551.2,598.7 L551.2,599.0 L551.3,599.2 L551.3,599.5 L551.4,599.8 L551.5,600.0 L551.5,600.3 L551.6,600.5 L551.7,600.8 L551.7,601.1 L551.8,601.3 L551.8,601.6 L551.9,601.9 L552.0,602.1 L552.0,602.4 L552.1,602.6 L552.2,602.9 L552.2,603.2 L552.3,603.4 L552.3,603.7 L552.4,603.7 L552.5,603.8 L552.5,603.8 L552.6,603.9 L552.7,603.9 L552.7,604.0 L552.8,604.0 L552.8,604.1 L552.9,604.1 L553.0,604.2 L553.0,604.2 L553.1,604.3 L553.2,604.3 L553.2,604.4 L553.3,604.4 L553.3,604.5 L553.4,604.6 L553.5,604.6 L553.5,604.7 L553.6,604.7 L553.6,604.8 L553.7,604.8 L553.8,604.9 L553.8,604.9 L553.9,605.0 L554.0,605.0 L554.0,605.1 L554.1,605.1 L554.1,605.2 L554.2,605.2 L554.3,605.3 L554.3,605.3 L554.4,605.4 L554.5,605.4 L554.5,605.5 L554.6,605.6 L554.6,605.6 L554.7,605.7 L554.8,605.7 L554.8,605.8 L554.9,605.8 L555.0,605.9 L555.0,605.9 L555.1,606.0 L555.1,606.0 L555.2,606.1 L555.3,606.1 L555.3,606.2 L555.4,606.2 L555.5,606.3 L555.5,606.3 L555.6,606.4 L555.6,606.4 L555.7,606.5 L555.8,606.6 L555.8,606.6 L555.9,606.7 L556.0,606.7 L556.0,606.8 L556.1,606.8 L556.1,606.9 L556.2,606.9 L556.3,607.0 L556.3,607.0 L556.4,607.1 L556.5,607.1 L556.5,607.2 L556.6,607.2 L556.6,607.3 L556.7,607.3 L556.8,607.4 L556.8,607.4 L556.9,607.5 L556.9,607.6 L557.0,607.6 L557.1,607.7 L557.1,607.7 L557.2,607.8 L557.3,607.8 L557.3,607.9 L557.4,607.9 L557.4,608.0 L557.5,608.0 L557.6,608.1 L557.6,608.1 L557.7,608.2 L557.8,608.2 L557.8,608.3 L557.9,608.3 L557.9,608.4 L558.0,608.4 L558.1,608.5 L558.1,608.6 L558.2,608.6 L558.3,608.7 L558.3,608.7 L558.4,608.8 L558.4,608.8 L558.5,608.9 L558.6,608.9 L558.6,609.0 L558.7,609.0 L558.8,609.1 L558.8,609.1 L558.9,609.2 L558.9,609.2 L559.0,609.3 L559.1,609.3 L559.1,609.3 L559.2,609.4 L559.3,609.4 L559.3,609.4 L559.4,609.5 L559.4,609.5 L559.5,609.5 L559.6,609.6 L559.6,609.6 L559.7,609.6 L559.7,609.6 L559.8,609.7 L559.9,609.7 L559.9,609.7 L560.0,609.8 L560.1,609.8 L560.1,609.8 L560.2,609.9 L560.2,609.9 L560.3,609.9 L560.4,610.0 L560.4,610.0 L560.5,610.0 L560.6,610.1 L560.6,610.1 L560.7,610.1 L560.7,610.2 L560.8,610.2 L560.9,610.2 L560.9,610.3 L561.0,610.3 L561.1,610.3 L561.1,610.4 L561.2,609.0 L561.2,610.2 L561.3,610.3 L561.4,610.5 L561.4,610.5 L561.5,610.0 L561.6,611.4 L561.6,609.6 L561.7,609.2 L561.7,609.6 L561.8,611.2 L561.9,612.3 L561.9,611.2 L562.0,610.7 L562.1,610.1 L562.1,611.0 L562.2,611.1 L562.2,609.4 L562.3,611.5 L562.4,609.9 L562.4,610.0 L562.5,612.1 L562.5,610.6 L562.6,611.4 L562.7,611.8 L562.7,612.6 L562.8,612.4 L562.9,610.5 L562.9,611.3 L563.0,610.7 L563.0,611.9 L563.1,611.2 L563.2,611.2 L563.2,612.4 L563.3,612.5 L563.4,610.5 L563.4,610.8 L563.5,611.8 L563.5,611.1 L563.6,610.3 L563.7,609.3 L563.7,611.8 L563.8,610.4 L563.9,609.0 L563.9,610.9 L564.0,609.6 L564.0,613.4 L564.1,609.7 L564.2,611.0 L564.2,612.8 L564.3,610.3 L564.4,610.0 L564.4,609.9 L564.5,609.9 L564.5,611.1 L564.6,611.7 L564.7,611.5 L564.7,611.1 L564.8,610.7 L564.9,611.5 L564.9,611.0 L565.0,610.3 L565.0,610.8 L565.1,608.9 L565.2,609.1 L565.2,612.2 L565.3,611.6 L565.3,612.3 L565.4,612.2 L565.5,610.6 L565.5,612.0 L565.6,612.1 L565.7,611.4 L565.7,610.4 L565.8,611.5 L565.8,611.5 L565.9,610.3 L566.0,610.7 L566.0,610.7 L566.1,610.3 L566.2,612.1 L566.2,611.0 L566.3,611.8 L566.3,610.2 L566.4,610.4 L566.5,612.2 L566.5,609.9 L566.6,612.3 L566.7,610.1 L566.7,611.0 L566.8,612.0 L566.8,612.3 L566.9,611.5 L567.0,611.3 L567.0,611.9 L567.1,610.7 L567.2,612.6 L567.2,611.3 L567.3,611.3 L567.3,613.0 L567.4,611.0 L567.5,612.5 L567.5,613.6 L567.6,611.9 L567.7,611.5 L567.7,610.4 L567.8,611.7 L567.8,609.9 L567.9,609.9 L568.0,610.3 L568.0,610.1 L568.1,611.0 L568.2,611.8 L568.2,610.7 L568.3,610.4 L568.3,611.1 L568.4,611.6 L568.5,612.8 L568.5,610.7 L568.6,611.0 L568.6,612.6 L568.7,611.3 L568.8,610.7 L568.8,611.5 L568.9,610.6 L569.0,610.7 L569.0,612.8 L569.1,611.7 L569.1,610.9 L569.2,610.5 L569.3,610.1 L569.3,613.2 L569.4,611.5 L569.5,610.7 L569.5,610.3 L569.6,609.8 L569.6,612.3 L569.7,611.8 L569.8,612.4 L569.8,610.7 L569.9,612.7 L570.0,610.3 L570.0,610.6 L570.1,611.0 L570.1,613.5 L570.2,612.1 L570.3,610.8 L570.3,612.8 L570.4,611.7 L570.5,611.6 L570.5,610.7 L570.6,611.2 L570.6,611.3 L570.7,611.9 L570.8,611.5 L570.8,611.7 L570.9,610.8 L571.0,611.7 L571.0,610.6 L571.1,613.2 L571.1,610.4 L571.2,611.7 L571.3,610.5 L571.3,611.5 L571.4,610.8 L571.4,610.2 L571.5,612.1 L571.6,611.5 L571.6,611.8 L571.7,611.4 L571.8,613.1 L571.8,611.8 L571.9,611.8 L571.9,612.4 L572.0,611.8 L572.1,613.1 L572.1,610.3 L572.2,611.2 L572.3,609.9 L572.3,612.5 L572.4,612.7 L572.4,611.4 L572.5,613.2 L572.6,611.4 L572.6,612.3 L572.7,612.0 L572.8,611.4 L572.8,611.6 L572.9,609.9 L572.9,611.1 L573.0,612.9 L573.1,610.7 L573.1,612.9 L573.2,611.6 L573.3,612.8 L573.3,612.5 L573.4,610.4 L573.4,612.2 L573.5,612.3 L573.6,612.2 L573.6,612.0 L573.7,610.3 L573.8,612.8 L573.8,612.9 L573.9,611.1 L573.9,613.2 L574.0,612.0 L574.0,610.6 L574.4,611.7 L574.9,612.2 L575.3,612.4 L575.7,612.6 L576.1,612.3 L576.6,611.6 L577.0,610.6 L577.4,610.9 L577.9,612.3 L578.3,612.5 L578.7,611.2 L579.1,613.5 L579.6,612.3 L580.0,612.2 L580.4,612.9 L580.9,612.8 L581.3,611.6 L581.7,613.5 L582.1,612.8 L582.6,612.5 L583.0,611.9 L583.4,613.2 L583.8,610.9 L584.3,612.3 L584.7,612.2 L585.1,612.3 L585.6,612.6 L586.0,612.9 L586.4,611.0 L586.8,611.9 L586.8,610.0 L586.9,611.9 L586.8,611.9 L587.3,612.2 L587.7,611.1 L588.1,612.8 L588.6,611.5 L589.0,612.1 L589.4,613.0 L589.8,611.4 L590.3,613.5 L590.7,611.5 L591.1,613.0 L591.6,611.8 L592.0,610.9 L592.4,611.7 L592.8,612.8 L593.3,612.2 L593.7,612.6 L594.1,613.3 L594.5,613.3 L595.0,612.2 L595.4,611.8 L595.8,614.0 L596.3,612.4 L596.7,611.8 L597.1,612.2 L597.5,613.3 L598.0,611.4 L598.4,613.5 L598.8,611.8 L599.3,610.9 L599.7,614.3 L600.1,612.2 L600.5,612.1 L601.0,612.2 L601.4,613.2 L601.8,612.8 L602.3,613.8 L602.7,612.4 L603.1,612.0 L603.5,613.1 L604.0,613.4 L604.4,613.0 L604.8,612.5 L605.3,612.5 L605.7,612.7 L606.1,612.5 L606.5,613.8 L607.0,615.2 L607.4,612.0 L607.8,611.3 L608.2,614.0 L608.7,613.3 L609.1,612.4 L609.5,611.8 L610.0,612.1 L610.4,611.5 L610.8,612.7 L611.2,612.3 L611.7,612.3 L612.1,613.1 L612.5,611.6 L613.0,612.2 L613.4,611.8 L613.8,613.1 L614.2,611.8 L614.7,613.8 L615.1,612.4 L615.5,615.3 L616.0,613.8 L616.4,612.2 L616.8,613.3 L616.8,610.4 L616.8,613.3 L616.8,613.3 L617.2,612.7 L617.7,614.4 L618.1,611.4 L618.5,612.3 L619.0,612.9 L619.4,612.5 L619.8,612.6 L620.2,611.6 L620.7,612.8 L621.1,614.3 L621.5,613.2 L622.0,611.8 L622.4,612.5 L622.8,613.4 L623.2,612.5 L623.7,612.9 L624.1,612.5 L624.5,614.5 L624.9,613.9 L625.4,612.5 L625.8,613.3 L626.2,612.8 L626.7,611.3 L627.1,613.4 L627.5,612.9 L627.9,613.7 L628.4,613.7 L628.8,613.2 L629.2,614.5 L629.7,615.2 L630.1,611.9 L630.5,613.3 L630.9,612.2 L631.4,613.1 L631.8,613.1 L632.2,612.6 L632.7,612.6 L633.1,614.4 L633.5,612.2 L633.9,614.2 L634.4,613.1 L634.8,610.9 L635.2,613.2 L635.6,611.8 L636.1,613.7 L636.5,612.8 L636.9,613.3 L637.4,613.0 L637.8,614.1 L638.2,614.2 L638.6,613.0 L639.1,614.8 L639.5,614.2 L639.9,612.8 L640.4,614.0 L640.8,614.2 L641.2,614.4 L641.6,613.3 L642.1,613.7 L642.5,613.3 L642.9,613.6 L643.4,611.7 L643.8,613.8 L644.2,615.3 L644.6,613.3 L645.1,613.4 L645.5,613.3 L645.9,615.0 L646.4,612.4 L646.8,613.5 L647.2,613.5 L647.6,615.0 L648.1,613.0 L648.5,613.6 L648.9,612.2 L649.4,613.9 L649.8,614.7 L650.2,613.4 L650.6,614.4 L651.1,613.1 L651.5,614.5 L651.9,613.7 L652.3,613.8 L652.8,613.6 L653.2,614.0 L653.6,614.3 L654.1,613.6 L654.5,614.1 L654.9,613.4 L655.3,613.8 L655.8,615.7 L656.2,613.7 L656.6,612.3 L657.1,613.3 L657.5,613.1 L657.9,613.2 L658.3,614.1 L658.8,614.9 L659.2,612.9 L659.6,612.7 L659.6,610.4 L659.6,612.7 L659.6,612.7 L660.1,613.1 L660.5,613.3 L660.9,613.3 L661.3,613.7 L661.8,613.4 L662.2,613.7 L662.6,613.4 L663.0,614.6 L663.5,614.3 L663.9,613.2 L664.3,614.0 L664.8,615.9 L665.2,613.6 L665.6,615.8 L666.0,612.0 L666.5,613.1 L666.9,613.1 L667.3,614.4 L667.8,614.8 L668.2,613.9 L668.6,613.7 L669.0,614.5 L669.5,613.6 L669.9,613.1 L670.3,613.2 L670.8,614.7 L671.2,615.8 L671.6,613.8 L672.0,614.4 L672.5,613.4 L672.9,612.3 L673.3,612.3 L673.8,613.6 L674.2,612.8 L674.6,612.3 L675.0,613.8 L675.5,613.6 L675.9,613.1 L676.3,613.9 L676.8,614.3 L677.2,614.5 L677.6,613.9 L678.0,614.4 L678.5,613.1 L678.9,614.2 L679.3,612.5 L679.7,612.8 L680.2,615.0 L680.6,612.9 L681.0,614.3 L681.0,609.2 L681.0,614.3 L681.0,614.3 L681.5,612.7 L681.9,613.4 L682.3,614.0 L682.7,613.3 L683.2,614.4 L683.6,613.6 L684.0,613.6 L684.5,614.1 L684.9,613.6 L685.3,614.9 L685.3,610.0 L685.3,614.9 L685.3,614.9 L685.7,613.5 L686.2,615.1 L686.6,613.4 L687.0,613.5 L687.5,613.3 L687.9,614.5 L688.3,611.2 L688.7,614.2 L689.2,613.9 L689.6,614.7 L690.0,612.7 L690.5,614.4 L690.9,613.1 L691.3,614.9 L691.7,613.7 L692.2,614.4 L692.6,613.2 L693.0,614.3 L693.4,614.8 L693.9,613.6 L694.3,615.1 L694.7,614.9 L695.2,613.4 L695.6,615.8 L696.0,613.4 L696.4,614.5 L696.9,614.9 L697.3,613.9 L697.7,613.5 L698.2,614.6 L698.6,614.3 L699.0,613.4 L699.4,613.5 L699.9,614.2 L700.3,614.8 L700.7,615.0 L701.2,614.7 L701.6,613.5 L702.0,613.6 L702.4,613.9 L702.9,612.9 L703.3,614.5 L703.7,614.5 L704.1,614.5 L704.6,612.5 L705.0,616.1 L705.4,614.0 L705.9,613.8 L706.3,614.2 L706.7,612.1 L707.1,613.2 L707.6,613.5 L708.0,615.1 L708.4,613.8 L708.9,614.6 L709.3,614.2 L709.7,614.1 L710.1,614.7 L710.6,613.7 L711.0,612.8 L711.4,613.4 L711.9,614.1 L712.3,616.0 L712.7,613.3 L713.1,613.3 L713.6,614.5 L714.0,614.8 L714.4,613.7 L714.9,615.1 L715.3,613.6 L715.7,615.3 L716.1,615.2 L716.6,614.4 L717.0,615.7 L717.4,614.4 L717.9,613.9 L718.3,615.6 L718.7,613.6 L719.1,614.9 L719.6,613.9 L720.0,614.2 L720.4,614.8 L720.8,614.9 L721.3,616.0 L721.7,615.1 L722.1,615.1 L722.6,613.0 L723.0,613.5 L723.4,615.7 L723.8,613.8 L724.3,614.3 L724.7,614.8 L725.1,614.1 L725.6,613.8 L726.0,615.0 L726.4,614.8 L726.8,614.4 L727.3,615.4 L727.7,614.4 L728.1,614.6 L728.6,615.2 L729.0,615.3 L729.4,614.3 L729.8,613.8 L730.3,614.3 L730.7,615.3 L731.1,613.9 L731.5,614.4 L732.0,614.1 L732.4,613.6 L732.8,615.4 L733.3,614.7 L733.7,615.2 L734.1,615.4 L734.5,612.8 L735.0,613.8 L735.4,616.2 L735.8,614.3 L736.3,615.2 L736.7,613.6 L737.1,614.6 L737.5,614.8 L738.0,614.6 L738.4,614.3 L738.8,614.7 L739.3,614.9 L739.7,614.8 L740.1,614.3 L740.5,615.7 L741.0,614.7 L741.4,614.8 L741.8,615.2 L742.3,614.1 L742.7,615.9 L743.1,615.1 L743.5,615.5 L744.0,614.3 L744.4,615.2 L744.8,614.7 L745.2,614.5 L745.7,616.2 L746.1,614.4 L746.5,615.5 L747.0,615.1 L747.4,614.9 L747.8,614.1 L748.2,614.2 L748.7,613.3 L749.1,614.7 L749.5,615.3 L750.0,615.3 L750.4,614.3 L750.8,613.5 L751.2,614.6 L751.7,615.4 L752.1,614.7 L752.5,614.7 L753.0,614.9 L753.4,615.6 L753.8,617.2 L753.8,612.4 L753.8,617.2 L753.8,617.2 L754.2,615.4 L754.7,614.0 L755.1,614.8 L755.5,616.9 L756.0,615.0 L756.4,616.6 L756.8,613.2 L757.2,614.8 L757.7,616.1 L758.1,614.3 L758.5,615.7 L759.0,614.5 L759.4,615.0 L759.8,616.1 L760.2,614.4 L760.7,616.2 L761.1,613.8 L761.5,615.0 L761.9,616.0 L762.4,616.7 L762.8,613.6 L763.2,613.8 L763.7,616.2 L764.1,613.6 L764.5,614.9 L764.9,615.3 L765.4,615.2 L765.8,615.4 L766.2,613.8 L766.7,615.0 L767.1,616.8 L767.5,613.3 L767.9,614.4 L768.4,616.1 L768.8,615.5 L769.2,616.0 L769.7,615.1 L770.1,614.8 L770.5,615.0 L770.9,615.7 L771.4,615.9 L771.8,614.5 L772.2,615.3 L772.7,613.2 L773.1,615.9 L773.5,614.5 L773.9,615.2 L774.4,615.9 L774.8,614.0 L775.2,615.1 L775.6,616.1 L776.1,615.6 L776.5,614.4 L776.9,616.4 L777.4,614.1 L777.8,614.7 L778.2,615.6 L778.6,614.1 L779.1,613.8 L779.5,614.8 L779.9,615.2 L780.4,613.7 L780.8,614.0 L781.2,616.2 L781.6,615.5 L782.1,615.6 L782.5,615.7 L782.9,616.7 L783.4,614.6 L783.8,615.3 L784.2,615.3 L784.6,614.1 L785.1,615.9 L785.5,615.5 L785.9,615.2 L786.3,615.8 L786.8,615.5 L787.2,614.8 L787.6,615.5 L788.1,614.3 L788.5,616.1 L788.9,615.3 L789.3,616.8 L789.8,615.6 L790.2,616.1 L790.6,614.3 L791.1,614.8 L791.5,615.1 L791.9,613.9 L792.3,614.2 L792.8,614.9 L793.2,616.2 L793.6,616.8 L794.1,615.6 L794.5,615.9 L794.9,616.1 L795.3,615.8 L795.8,617.1 L796.2,614.2 L796.6,616.6 L797.1,616.2 L797.5,615.1 L797.9,617.1 L798.3,614.8 L798.8,614.8 L799.2,615.9 L799.6,616.6 L800.0,616.1 L800.5,617.3 L800.9,614.4 L801.3,615.6 L801.8,616.3 L802.2,616.5 L802.6,615.2 L803.0,614.3 L803.5,616.8 L803.9,616.2 L804.3,617.3 L804.8,615.1 L805.2,615.6 L805.6,613.7 L806.0,615.8 L806.5,616.1 L806.9,616.4 L807.3,615.0 L807.8,617.2 L808.2,615.1 L808.6,615.6 L809.0,616.2 L809.5,616.6 L809.9,614.8 L810.3,614.1 L810.8,616.2 L811.2,615.3 L811.6,614.2 L812.0,616.4 L812.5,616.1 L812.9,616.9 L813.3,616.0 L813.8,615.9 L814.2,616.2 L814.6,616.5 L815.0,617.3 L815.5,617.1 L815.9,616.8 L816.3,615.3 L816.7,616.4 L817.2,616.7 L817.6,615.3 L818.0,615.4 L818.5,616.6 L818.9,616.5 L819.3,615.3 L819.7,615.6 L820.2,616.7 L820.6,615.7 L821.0,616.0 L821.5,615.0 L821.9,616.8" stroke="#1414e6" stroke-width="2.6" fill="none" stroke-linejoin="round"/>
<path d="M549.2,271.8 L549.2,315.2 L549.3,358.6 L549.4,407.0 L549.4,470.6 L549.5,534.2 L549.5,571.3 L549.6,581.4 L549.7,591.5 L549.7,594.3 L549.8,594.6 L549.9,594.8 L549.9,595.1 L550.0,595.3 L550.0,595.6 L550.1,595.9 L550.2,596.1 L550.2,596.4 L550.3,596.7 L550.4,596.9 L550.4,597.2 L550.5,597.4 L550.5,597.7 L550.6,598.0 L550.7,598.2 L550.7,598.5 L550.8,598.7 L550.8,599.0 L550.9,599.3 L551.0,599.5 L551.0,599.8 L551.1,600.0 L551.2,600.3 L551.2,600.6 L551.3,600.8 L551.3,601.1 L551.4,601.4 L551.5,601.6 L551.5,601.9 L551.6,602.1 L551.7,602.4 L551.7,602.7 L551.8,602.9 L551.8,603.2 L551.9,603.4 L552.0,603.7 L552.0,604.0 L552.1,604.2 L552.2,604.5 L552.2,604.7 L552.3,605.0 L552.3,605.3 L552.4,605.3 L552.5,605.4 L552.5,605.5 L552.6,605.5 L552.7,605.6 L552.7,605.7 L552.8,605.7 L552.8,605.8 L552.9,605.9 L553.0,605.9 L553.0,606.0 L553.1,606.1 L553.2,606.1 L553.2,606.2 L553.3,606.3 L553.3,606.3 L553.4,606.4 L553.5,606.5 L553.5,606.5 L553.6,606.6 L553.6,606.7 L553.7,606.7 L553.8,606.8 L553.8,606.9 L553.9,606.9 L554.0,607.0 L554.0,607.1 L554.1,607.1 L554.1,607.2 L554.2,607.3 L554.3,607.3 L554.3,607.4 L554.4,607.5 L554.5,607.6 L554.5,607.6 L554.6,607.7 L554.6,607.8 L554.7,607.8 L554.8,607.9 L554.8,608.0 L554.9,608.0 L555.0,608.1 L555.0,608.2 L555.1,608.2 L555.1,608.3 L555.2,608.4 L555.3,608.4 L555.3,608.5 L555.4,608.6 L555.5,608.6 L555.5,608.7 L555.6,608.8 L555.6,608.8 L555.7,608.9 L555.8,609.0 L555.8,609.0 L555.9,609.1 L556.0,609.2 L556.0,609.2 L556.1,609.3 L556.1,609.4 L556.2,609.4 L556.3,609.5 L556.3,609.6 L556.4,609.6 L556.5,609.7 L556.5,609.8 L556.6,609.9 L556.6,609.9 L556.7,610.0 L556.8,610.1 L556.8,610.1 L556.9,610.2 L556.9,610.3 L557.0,610.3 L557.1,610.4 L557.1,610.5 L557.2,610.5 L557.3,610.6 L557.3,610.7 L557.4,610.7 L557.4,610.8 L557.5,610.9 L557.6,610.9 L557.6,611.0 L557.7,611.1 L557.8,611.1 L557.8,611.2 L557.9,611.3 L557.9,611.3 L558.0,611.4 L558.1,611.5 L558.1,611.5 L558.2,611.6 L558.3,611.7 L558.3,611.7 L558.4,611.8 L558.4,611.9 L558.5,611.9 L558.6,612.0 L558.6,610.2 L558.7,614.3 L558.8,610.5 L558.8,611.7 L558.9,611.5 L558.9,612.9 L559.0,613.0 L559.1,614.1 L559.1,614.2 L559.2,611.9 L559.3,613.2 L559.3,614.8 L559.4,614.1 L559.4,614.1 L559.5,614.0 L559.6,612.8 L559.6,610.6 L559.7,612.2 L559.7,611.5 L559.8,614.5 L559.9,611.7 L559.9,610.9 L560.0,610.3 L560.1,611.7 L560.1,612.2 L560.2,610.5 L560.2,614.5 L560.3,611.4 L560.4,611.8 L560.4,611.7 L560.5,613.5 L560.6,614.9 L560.6,614.6 L560.7,612.0 L560.7,613.8 L560.8,610.8 L560.9,614.7 L560.9,611.4 L561.0,613.1 L561.1,614.0 L561.1,614.2 L561.2,613.7 L561.2,613.7 L561.3,614.4 L561.4,614.4 L561.4,610.8 L561.5,613.5 L561.6,612.5 L561.6,612.2 L561.7,614.0 L561.7,611.1 L561.8,614.2 L561.9,614.7 L561.9,615.4 L562.0,614.4 L562.1,615.3 L562.1,612.7 L562.2,612.9 L562.2,615.6 L562.3,611.2 L562.4,612.2 L562.4,613.1 L562.5,611.2 L562.5,613.2 L562.6,615.0 L562.7,612.1 L562.7,611.3 L562.8,615.6 L562.9,613.5 L562.9,614.8 L563.0,611.6 L563.0,615.5 L563.1,612.1 L563.2,615.0 L563.2,612.9 L563.3,612.7 L563.4,612.4 L563.4,615.8 L563.5,613.7 L563.5,615.4 L563.6,615.5 L563.7,615.3 L563.7,615.4 L563.8,611.6 L563.9,613.5 L563.9,614.9 L564.0,613.8 L564.0,615.9 L564.1,615.2 L564.2,613.2 L564.2,612.9 L564.3,613.3 L564.4,611.6 L564.4,611.6 L564.5,612.3 L564.5,614.1 L564.6,612.7 L564.7,615.2 L564.7,612.2 L564.8,615.2 L564.9,611.7 L564.9,616.4 L565.0,612.6 L565.0,614.1 L565.1,612.6 L565.2,614.0 L565.2,612.5 L565.3,613.1 L565.3,613.5 L565.4,612.0 L565.5,616.0 L565.5,612.2 L565.6,614.1 L565.7,613.2 L565.7,613.4 L565.8,614.8 L565.8,614.2 L565.9,612.0 L565.9,605.2 L565.9,612.0 L565.9,612.0 L566.0,614.4 L566.0,612.3 L566.1,616.7 L566.2,614.0 L566.2,613.5 L566.3,614.9 L566.3,616.4 L566.3,618.8 L566.3,616.4 L566.3,616.4 L566.4,613.0 L566.5,613.2 L566.5,615.0 L566.6,616.4 L566.7,612.9 L566.7,613.2 L566.8,612.9 L566.8,613.0 L566.9,615.7 L567.0,614.0 L567.0,614.8 L567.1,615.1 L567.2,615.1 L567.2,613.8 L567.3,612.3 L567.3,614.8 L567.4,615.3 L567.5,614.1 L567.5,614.1 L567.6,615.2 L567.7,614.1 L567.7,614.0 L567.8,613.6 L567.8,616.4 L567.9,614.1 L568.0,615.2 L568.0,613.0 L568.1,614.2 L568.2,613.3 L568.2,613.3 L568.3,616.2 L568.3,616.8 L568.4,613.6 L568.5,616.9 L568.5,612.7 L568.6,613.9 L568.6,615.2 L568.7,614.0 L568.8,616.6 L568.8,614.1 L568.9,612.8 L569.0,617.2 L569.0,612.7 L569.1,615.7 L569.1,615.3 L569.2,612.7 L569.3,613.4 L569.3,615.4 L569.4,612.5 L569.5,617.0 L569.5,614.1 L569.6,614.8 L569.6,613.0 L569.7,617.1 L569.8,615.7 L569.8,614.9 L569.9,616.9 L570.0,614.1 L570.0,613.2 L570.1,612.9 L570.1,616.5 L570.2,614.8 L570.3,612.5 L570.3,616.9 L570.4,613.8 L570.5,615.8 L570.5,612.9 L570.6,614.3 L570.6,612.9 L570.7,617.0 L570.8,614.3 L570.8,615.2 L570.9,616.7 L571.0,615.3 L571.0,613.7 L571.1,614.4 L571.1,614.4 L571.2,615.9 L571.3,614.8 L571.3,615.1 L571.4,612.9 L571.4,613.0 L571.5,615.1 L571.6,614.8 L571.6,615.8 L571.7,614.5 L571.8,616.6 L571.8,612.6 L571.9,615.3 L571.9,617.2 L572.0,615.8 L572.1,612.7 L572.1,615.8 L572.2,615.4 L572.3,612.6 L572.3,613.5 L572.4,615.5 L572.4,616.5 L572.5,615.4 L572.6,615.5 L572.6,613.0 L572.7,614.7 L572.8,612.8 L572.8,612.5 L572.9,613.1 L572.9,615.3 L573.0,615.4 L573.1,614.6 L573.1,614.0 L573.2,613.2 L573.3,613.3 L573.3,615.8 L573.4,613.7 L573.4,615.5 L573.5,613.5 L573.6,617.2 L573.6,613.2 L573.7,613.9 L573.8,616.6 L573.8,616.1 L573.9,615.8 L573.9,614.8 L574.0,612.9 L574.0,612.6 L574.4,614.4 L574.9,616.7 L575.3,612.6 L575.7,612.7 L576.1,616.9 L576.6,614.1 L577.0,614.1 L577.4,614.1 L577.9,613.8 L578.3,617.3 L578.7,615.8 L579.1,615.7 L579.6,614.2 L580.0,616.9 L580.4,616.0 L580.9,616.5 L581.3,617.1 L581.7,615.1 L582.1,616.4 L582.6,615.1 L583.0,616.4 L583.4,613.6 L583.8,616.8 L584.3,613.7 L584.7,614.2 L585.1,616.6 L585.6,615.6 L586.0,615.6 L586.4,615.2 L586.8,614.2 L586.8,617.3 L586.9,616.6 L586.8,614.1 L587.3,617.0 L587.7,613.4 L588.1,615.7 L588.6,617.3 L589.0,613.8 L589.4,616.3 L589.8,612.7 L590.3,613.0 L590.7,613.2 L591.1,613.2 L591.6,617.1 L592.0,617.3 L592.4,615.6 L592.8,615.5 L593.3,615.5 L593.7,614.6 L594.1,613.8 L594.5,613.7 L595.0,613.1 L595.4,614.3 L595.8,613.3 L596.3,617.1 L596.7,617.4 L597.1,615.4 L597.5,613.3 L598.0,615.7 L598.4,617.0 L598.8,617.0 L599.3,616.5 L599.7,613.4 L600.1,616.0 L600.5,613.5 L601.0,613.1 L601.4,613.9 L601.8,613.2 L602.3,616.4 L602.7,616.7 L603.1,616.5 L603.5,617.5 L604.0,613.2 L604.4,616.6 L604.8,614.6 L605.3,616.3 L605.7,615.1 L606.1,615.6 L606.5,614.2 L607.0,616.7 L607.4,616.3 L607.8,617.0 L608.2,616.1 L608.7,613.7 L609.1,613.1 L609.5,617.6 L610.0,613.7 L610.4,614.2 L610.8,617.3 L611.2,616.9 L611.7,613.6 L612.1,616.8 L612.5,613.4 L613.0,615.1 L613.4,613.0 L613.8,615.3 L614.2,617.1 L614.7,614.9 L615.1,615.6 L615.5,617.4 L616.0,613.9 L616.4,613.5 L616.8,613.2 L616.8,614.7 L616.8,615.0 L616.8,616.8 L617.2,613.2 L617.7,614.3 L618.1,614.6 L618.5,614.5 L619.0,613.8 L619.4,616.2 L619.8,617.3 L620.2,613.1 L620.7,617.7 L621.1,616.5 L621.5,615.5 L622.0,617.6 L622.4,616.4 L622.8,613.7 L623.2,614.9 L623.7,615.1 L624.1,617.8 L624.5,615.8 L624.9,617.3 L625.4,616.0 L625.8,616.0 L626.2,615.9 L626.7,616.4 L627.1,614.2 L627.5,615.7 L627.9,613.6 L628.4,616.3 L628.8,617.2 L629.2,616.2 L629.7,613.8 L630.1,616.2 L630.5,614.0 L630.9,614.6 L631.4,616.7 L631.8,617.0 L632.2,617.4 L632.7,615.8 L633.1,614.7 L633.5,616.6 L633.9,613.4 L634.4,617.9 L634.8,614.2 L635.2,617.2 L635.6,613.2 L636.1,617.5 L636.5,613.6 L636.9,616.1 L637.4,616.7 L637.8,617.8 L638.2,617.0 L638.6,616.2 L639.1,613.6 L639.5,613.4 L639.9,617.7 L640.4,615.4 L640.8,617.9 L641.2,617.6 L641.6,615.1 L642.1,615.6 L642.5,613.8 L642.9,613.8 L643.4,617.3 L643.8,615.1 L644.2,614.3 L644.6,614.4 L645.1,615.4 L645.5,615.7 L645.9,615.4 L646.4,616.2 L646.8,615.4 L647.2,613.9 L647.6,616.5 L648.1,616.1 L648.5,616.1 L648.9,614.0 L649.4,617.0 L649.8,616.1 L650.2,614.6 L650.6,616.3 L651.1,614.1 L651.5,615.6 L651.9,617.7 L652.3,616.5 L652.8,617.5 L653.2,616.1 L653.6,616.5 L654.1,616.6 L654.5,614.3 L654.9,614.0 L655.3,614.6 L655.8,614.6 L656.2,614.0 L656.6,613.9 L657.1,617.4 L657.5,614.0 L657.9,617.5 L658.3,617.0 L658.8,614.5 L659.2,617.6 L659.6,613.7 L659.6,613.9 L659.6,618.3 L659.6,615.3 L660.1,613.9 L660.5,615.7 L660.9,615.8 L661.3,615.5 L661.8,615.7 L662.2,615.6 L662.6,615.1 L663.0,613.8 L663.5,618.0 L663.9,617.2 L664.3,618.3 L664.8,618.1 L665.2,617.4 L665.6,614.1 L666.0,616.9 L666.5,615.5 L666.9,616.9 L667.3,613.7 L667.8,617.5 L668.2,616.5 L668.6,616.7 L669.0,617.4 L669.5,618.1 L669.9,616.6 L670.3,617.5 L670.8,618.3 L671.2,614.2 L671.6,616.8 L672.0,618.4 L672.5,615.5 L672.9,616.2 L673.3,615.2 L673.8,616.8 L674.2,617.8 L674.6,615.4 L675.0,616.6 L675.5,614.3 L675.9,617.0 L676.3,617.5 L676.8,617.6 L677.2,617.3 L677.6,617.4 L678.0,616.0 L678.5,616.8 L678.9,613.9 L679.3,617.6 L679.7,614.1 L680.2,617.0 L680.6,616.3 L681.0,614.0 L681.0,614.8 L681.0,614.1 L681.0,616.0 L681.5,617.1 L681.9,615.4 L682.3,615.3 L682.7,618.4 L683.2,618.1 L683.6,614.1 L684.0,615.2 L684.5,614.7 L684.9,617.7 L685.3,614.0 L685.3,617.2 L685.3,618.0 L685.3,616.9 L685.7,617.0 L686.2,618.4 L686.6,614.6 L687.0,614.5 L687.5,617.7 L687.9,616.0 L688.3,614.5 L688.7,616.9 L689.2,616.2 L689.6,617.5 L690.0,616.5 L690.5,617.2 L690.9,614.8 L691.3,617.9 L691.7,618.6 L692.2,614.4 L692.6,617.9 L693.0,616.1 L693.4,615.3 L693.9,617.2 L694.3,614.3 L694.7,617.1 L695.2,617.8 L695.6,618.4 L696.0,614.5 L696.4,617.7 L696.9,614.5 L697.3,616.6 L697.7,614.3 L698.2,618.4 L698.6,614.7 L699.0,614.1 L699.4,615.4 L699.9,618.2 L700.3,614.1 L700.7,615.0 L701.2,617.8 L701.6,614.2 L702.0,618.4 L702.4,618.2 L702.9,618.8 L703.3,616.0 L703.7,616.9 L704.1,618.5 L704.6,616.5 L705.0,614.7 L705.4,618.4 L705.9,615.8 L706.3,618.1 L706.7,616.5 L707.1,617.3 L707.6,617.6 L708.0,618.9 L708.4,616.2 L708.9,616.8 L709.3,615.6 L709.7,618.1 L710.1,614.2 L710.6,618.9 L711.0,618.0 L711.4,615.9 L711.9,618.3 L712.3,617.7 L712.7,616.6 L713.1,615.4 L713.6,614.9 L714.0,617.5 L714.4,615.9 L714.9,618.9 L715.3,614.8 L715.7,615.8 L716.1,614.7 L716.6,618.0 L717.0,616.7 L717.4,615.5 L717.9,618.9 L718.3,615.0 L718.7,615.7 L719.1,615.3 L719.6,618.3 L720.0,615.4 L720.4,616.4 L720.8,618.4 L721.3,618.5 L721.7,615.0 L722.1,617.2 L722.6,617.8 L723.0,617.3 L723.4,615.8 L723.8,618.5 L724.3,618.4 L724.7,616.0 L725.1,614.9 L725.6,615.9 L726.0,614.6 L726.4,617.8 L726.8,617.5 L727.3,617.4 L727.7,617.5 L728.1,617.9 L728.6,615.4 L729.0,617.8 L729.4,617.2 L729.8,616.9 L730.3,614.4 L730.7,617.6 L731.1,615.9 L731.5,617.7 L732.0,615.4 L732.4,617.4 L732.8,619.1 L733.3,616.7 L733.7,617.6 L734.1,618.0 L734.5,617.9 L735.0,619.2 L735.4,615.8 L735.8,616.7 L736.3,616.2 L736.7,616.6 L737.1,617.5 L737.5,617.1 L738.0,617.0 L738.4,614.9 L738.8,617.6 L739.3,618.6 L739.7,618.9 L740.1,617.7 L740.5,616.6 L741.0,616.6 L741.4,615.9 L741.8,616.2 L742.3,619.0 L742.7,617.5 L743.1,617.6 L743.5,618.8 L744.0,616.6 L744.4,615.7 L744.8,619.2 L745.2,616.9 L745.7,618.8 L746.1,615.7 L746.5,616.7 L747.0,619.1 L747.4,617.0 L747.8,618.3 L748.2,618.4 L748.7,616.2 L749.1,617.5 L749.5,615.0 L750.0,615.1 L750.4,615.4 L750.8,617.5 L751.2,615.1 L751.7,619.1 L752.1,615.8 L752.5,617.8 L753.0,615.4 L753.4,619.4 L753.8,616.8 L753.8,619.2 L753.8,618.1 L753.8,616.8 L754.2,618.8 L754.7,616.2 L755.1,617.1 L755.5,618.5 L756.0,617.0 L756.4,617.4 L756.8,619.4 L757.2,616.2 L757.7,616.1 L758.1,615.2 L758.5,615.1 L759.0,617.8 L759.4,616.5 L759.8,616.7 L760.2,619.3 L760.7,616.1 L761.1,618.3 L761.5,617.6 L761.9,616.6 L762.4,617.2 L762.8,618.3 L763.2,615.4 L763.7,619.2 L764.1,616.8 L764.5,618.8 L764.9,615.2 L765.4,615.2 L765.8,616.2 L766.2,615.4 L766.7,616.0 L767.1,616.5 L767.5,616.1 L767.9,615.3 L768.4,618.6 L768.8,616.2 L769.2,618.8 L769.7,617.5 L770.1,618.1 L770.5,616.7 L770.9,616.7 L771.4,615.4 L771.8,615.7 L772.2,619.4 L772.7,618.9 L773.1,619.5 L773.5,616.4 L773.9,618.1 L774.4,615.1 L774.8,618.7 L775.2,615.2 L775.6,616.2 L776.1,616.1 L776.5,616.9 L776.9,615.6 L777.4,618.7 L777.8,615.7 L778.2,615.6 L778.6,616.9 L779.1,616.7 L779.5,618.7 L779.9,617.5 L780.4,617.0 L780.8,618.3 L781.2,619.6 L781.6,615.3 L782.1,616.0 L782.5,618.1 L782.9,617.3 L783.4,617.0 L783.8,615.3 L784.2,617.2 L784.6,616.4 L785.1,616.1 L785.5,619.4 L785.9,617.1 L786.3,615.5 L786.8,616.0 L787.2,615.5 L787.6,619.2 L788.1,616.2 L788.5,618.6 L788.9,615.8 L789.3,616.2 L789.8,618.2 L790.2,617.2 L790.6,617.7 L791.1,615.5 L791.5,617.3 L791.9,619.6 L792.3,617.4 L792.8,619.9 L793.2,619.3 L793.6,617.7 L794.1,617.8 L794.5,619.7 L794.9,618.4 L795.3,618.7 L795.8,618.7 L796.2,617.9 L796.6,619.9 L797.1,619.9 L797.5,618.9 L797.9,616.6 L798.3,615.6 L798.8,616.5 L799.2,619.7 L799.6,616.1 L800.0,616.2 L800.5,616.1 L800.9,616.6 L801.3,618.9 L801.8,617.7 L802.2,618.0 L802.6,619.9 L803.0,617.5 L803.5,618.9 L803.9,615.6 L804.3,617.0 L804.8,616.3 L805.2,620.0 L805.6,616.8 L806.0,616.3 L806.5,618.0 L806.9,619.0 L807.3,617.9 L807.8,617.6 L808.2,618.1 L808.6,618.7 L809.0,617.0 L809.5,615.9 L809.9,618.9 L810.3,616.0 L810.8,620.0 L811.2,616.9 L811.6,618.6 L812.0,617.7 L812.5,618.5 L812.9,619.9 L813.3,619.5 L813.8,615.5 L814.2,618.3 L814.6,615.7 L815.0,617.8 L815.5,616.0 L815.9,618.2 L816.3,615.6 L816.7,618.0 L817.2,619.1 L817.6,619.5 L818.0,620.0 L818.5,619.8 L818.9,617.1 L819.3,618.6 L819.7,616.2 L820.2,619.4 L820.6,615.9 L821.0,619.4 L821.5,619.1 L821.9,618.7" stroke="#ff0a0a" stroke-width="2.4" fill="none" stroke-linejoin="round"/>
</g>
<rect x="505.5" y="391.2" width="342.5" height="278.5" fill="none" stroke="#7a7a7a" stroke-width="2.0"/>
<path d="M548.3,669.7v-4 M548.3,391.2v4 M633.9,669.7v-4 M633.9,391.2v4 M719.6,669.7v-4 M719.6,391.2v4 M805.2,669.7v-4 M805.2,391.2v4 M505.5,669.7v-2.0 M505.5,391.2v2.0 M591.1,669.7v-2.0 M591.1,391.2v2.0 M676.8,669.7v-2.0 M676.8,391.2v2.0 M762.4,669.7v-2.0 M762.4,391.2v2.0 M848.0,669.7v-2.0 M848.0,391.2v2.0 M505.5,629.9h4 M848.0,629.9h-4 M505.5,550.3h4 M848.0,550.3h-4 M505.5,470.8h4 M848.0,470.8h-4 M505.5,391.2h4 M848.0,391.2h-4 M505.5,669.7h2.0 M848.0,669.7h-2.0 M505.5,590.1h2.0 M848.0,590.1h-2.0 M505.5,510.6h2.0 M848.0,510.6h-2.0 M505.5,431.0h2.0 M848.0,431.0h-2.0 " stroke="#7a7a7a" stroke-width="1.5" fill="none"/>
<text x="499.0" y="397.8" font-size="16.2" text-anchor="end" fill="#454545" stroke="#454545" stroke-width="0.6" textLength="19.7" lengthAdjust="spacingAndGlyphs">30</text>
<text x="499.0" y="476.8" font-size="16.2" text-anchor="end" fill="#454545" stroke="#454545" stroke-width="0.6" textLength="19.7" lengthAdjust="spacingAndGlyphs">20</text>
<text x="499.0" y="556.3" font-size="16.2" text-anchor="end" fill="#454545" stroke="#454545" stroke-width="0.6" textLength="19.7" lengthAdjust="spacingAndGlyphs">10</text>
<text x="499.0" y="634.8" font-size="16.2" text-anchor="end" fill="#454545" stroke="#454545" stroke-width="0.6" textLength="9.8" lengthAdjust="spacingAndGlyphs">0</text>
<text x="543.6" y="688.3" font-size="16.2" text-anchor="start" fill="#454545" stroke="#454545" stroke-width="0.6" textLength="9.8" lengthAdjust="spacingAndGlyphs">0</text>
<text x="619.1" y="688.3" font-size="16.2" text-anchor="start" fill="#454545" stroke="#454545" stroke-width="0.6" textLength="29.8" lengthAdjust="spacingAndGlyphs">100</text>
<text x="703.7" y="688.3" font-size="16.2" text-anchor="start" fill="#454545" stroke="#454545" stroke-width="0.6" textLength="29.8" lengthAdjust="spacingAndGlyphs">200</text>
<text x="789.2" y="688.3" font-size="16.2" text-anchor="start" fill="#454545" stroke="#454545" stroke-width="0.6" textLength="29.8" lengthAdjust="spacingAndGlyphs">300</text>
<text x="637.2" y="718.3" font-size="22.0" text-anchor="start" fill="#303030" stroke="#303030" stroke-width="0.6" textLength="50.0" lengthAdjust="spacingAndGlyphs">Time</text>
<path d="M695.40,721.70 L701.95,700.80" stroke="#303030" stroke-width="1.9" stroke-linecap="butt"/>
<text x="711.3" y="718.3" font-size="22.0" text-anchor="start" fill="#303030" stroke="#303030" stroke-width="0.6" textLength="7.7" lengthAdjust="spacingAndGlyphs">s</text>
<text x="-1.05" y="0" font-size="21.0" fill="#303030" stroke="#303030" stroke-width="0.6" textLength="151.01" lengthAdjust="spacingAndGlyphs" transform="translate(462.90 630.60) rotate(-90)">Sensor current</text>
<text x="-1.45" y="0" font-size="21.0" fill="#303030" stroke="#303030" stroke-width="0.6" textLength="26.29" lengthAdjust="spacingAndGlyphs" transform="translate(462.90 455.80) rotate(-90)">µA</text>
<path d="M466.50,472.50 L446.70,464.65" stroke="#303030" stroke-width="1.9"/>
<text x="595.3" y="440.4" font-size="22.0" text-anchor="start" fill="#303030" stroke="#303030" stroke-width="0.6" textLength="41.1" lengthAdjust="spacingAndGlyphs">13.2</text>
<text x="643.4" y="440.4" font-size="22.0" text-anchor="start" fill="#303030" stroke="#303030" stroke-width="0.6" textLength="28.1" lengthAdjust="spacingAndGlyphs">cm</text>
<text x="678.6" y="440.4" font-size="22.0" text-anchor="start" fill="#303030" stroke="#303030" stroke-width="0.6" textLength="8.0" lengthAdjust="spacingAndGlyphs">s</text>
<text x="687.7" y="434.3" font-size="13.8" text-anchor="start" fill="#303030" stroke="#303030" stroke-width="0.6" textLength="3.5" lengthAdjust="spacingAndGlyphs">-</text>
<text x="693.6" y="434.3" font-size="13.8" text-anchor="start" fill="#303030" stroke="#303030" stroke-width="0.6" textLength="6.0" lengthAdjust="spacingAndGlyphs">1</text>
<text x="885.6" y="377.0" font-size="22.5" text-anchor="start" fill="#303030" stroke="#303030" stroke-width="0.6" textLength="22.6" lengthAdjust="spacingAndGlyphs">(f)</text>
<rect x="937.1" y="392.3" width="340.4" height="276.2" fill="none" stroke="#7a7a7a" stroke-width="2.0"/>
<path d="M971.1,668.5v-4 M971.1,392.3v4 M1039.2,668.5v-4 M1039.2,392.3v4 M1107.3,668.5v-4 M1107.3,392.3v4 M1175.4,668.5v-4 M1175.4,392.3v4 M1243.5,668.5v-4 M1243.5,392.3v4 M937.1,668.5v-2.0 M937.1,392.3v2.0 M1005.2,668.5v-2.0 M1005.2,392.3v2.0 M1073.3,668.5v-2.0 M1073.3,392.3v2.0 M1141.3,668.5v-2.0 M1141.3,392.3v2.0 M1209.4,668.5v-2.0 M1209.4,392.3v2.0 M1277.5,668.5v-2.0 M1277.5,392.3v2.0 M937.1,668.5h4 M1277.5,668.5h-4 M937.1,543.0h4 M1277.5,543.0h-4 M937.1,417.4h4 M1277.5,417.4h-4 M937.1,605.7h2.0 M1277.5,605.7h-2.0 M937.1,480.2h2.0 M1277.5,480.2h-2.0 " stroke="#7a7a7a" stroke-width="1.5" fill="none"/>
<text x="932.0" y="422.8" font-size="16.2" text-anchor="end" fill="#454545" stroke="#454545" stroke-width="0.6" textLength="19.7" lengthAdjust="spacingAndGlyphs">10</text>
<text x="932.0" y="549.1" font-size="16.2" text-anchor="end" fill="#454545" stroke="#454545" stroke-width="0.6" textLength="9.8" lengthAdjust="spacingAndGlyphs">5</text>
<text x="932.0" y="674.5" font-size="16.2" text-anchor="end" fill="#454545" stroke="#454545" stroke-width="0.6" textLength="9.8" lengthAdjust="spacingAndGlyphs">0</text>
<text x="966.2" y="687.7" font-size="16.2" text-anchor="start" fill="#454545" stroke="#454545" stroke-width="0.6" textLength="9.8" lengthAdjust="spacingAndGlyphs">0</text>
<text x="1034.3" y="687.7" font-size="16.2" text-anchor="start" fill="#454545" stroke="#454545" stroke-width="0.6" textLength="9.8" lengthAdjust="spacingAndGlyphs">5</text>
<text x="1097.5" y="687.7" font-size="16.2" text-anchor="start" fill="#454545" stroke="#454545" stroke-width="0.6" textLength="19.7" lengthAdjust="spacingAndGlyphs">10</text>
<text x="1165.5" y="687.7" font-size="16.2" text-anchor="start" fill="#454545" stroke="#454545" stroke-width="0.6" textLength="19.7" lengthAdjust="spacingAndGlyphs">15</text>
<text x="1233.6" y="687.7" font-size="16.2" text-anchor="start" fill="#454545" stroke="#454545" stroke-width="0.6" textLength="19.7" lengthAdjust="spacingAndGlyphs">20</text>
<text x="1002.3" y="718.5" font-size="22.0" text-anchor="start" fill="#303030" stroke="#303030" stroke-width="0.6" textLength="47.3" lengthAdjust="spacingAndGlyphs">Flow</text>
<text x="1056.5" y="718.5" font-size="22.0" text-anchor="start" fill="#303030" stroke="#303030" stroke-width="0.6" textLength="81.2" lengthAdjust="spacingAndGlyphs">velocity</text>
<path d="M1146.65,721.40 L1154.65,704.50" stroke="#303030" stroke-width="1.9" stroke-linecap="butt"/>
<text x="1161.6" y="718.5" font-size="22.0" text-anchor="start" fill="#303030" stroke="#303030" stroke-width="0.6" textLength="32.1" lengthAdjust="spacingAndGlyphs">cm</text>
<text x="1199.6" y="718.5" font-size="22.0" text-anchor="start" fill="#303030" stroke="#303030" stroke-width="0.6" textLength="9.2" lengthAdjust="spacingAndGlyphs">s</text>
<text x="1210.5" y="709.2" font-size="13.8" text-anchor="start" fill="#303030" stroke="#303030" stroke-width="0.6" textLength="3.5" lengthAdjust="spacingAndGlyphs">-</text>
<text x="1215.1" y="709.2" font-size="13.8" text-anchor="start" fill="#303030" stroke="#303030" stroke-width="0.6" textLength="6.7" lengthAdjust="spacingAndGlyphs">1</text>
<text x="-1.03" y="0" font-size="21.0" fill="#303030" stroke="#303030" stroke-width="0.6" textLength="148.39" lengthAdjust="spacingAndGlyphs" transform="translate(904.00 629.50) rotate(-90)">Sensor current</text>
<text x="-1.41" y="0" font-size="21.0" fill="#303030" stroke="#303030" stroke-width="0.6" textLength="25.65" lengthAdjust="spacingAndGlyphs" transform="translate(904.00 456.90) rotate(-90)">µA</text>
<path d="M907.50,474.00 L887.70,466.20" stroke="#303030" stroke-width="1.9"/>
<path d="M974.5,485.4 L975.9,489.7 L977.2,493.9 L978.6,498.0 L979.9,501.9 L981.2,505.7 L982.6,509.4 L983.9,513.0 L985.2,516.5 L986.6,519.9 L987.9,523.2 L989.3,526.4 L990.6,529.5 L991.9,532.5 L993.3,535.4 L994.6,538.3 L995.9,541.0 L997.3,543.7 L998.6,546.3 L1000.0,548.8 L1001.3,551.2 L1002.6,553.6 L1004.0,555.9 L1005.3,558.1 L1006.6,560.3 L1008.0,562.4 L1009.3,564.5 L1010.7,566.4 L1012.0,568.4 L1013.3,570.2 L1014.7,572.1 L1016.0,573.8 L1017.3,575.5 L1018.7,577.2 L1020.0,578.8 L1021.4,580.4 L1022.7,581.9 L1024.0,583.4 L1025.4,584.8 L1026.7,586.2 L1028.1,587.5 L1029.4,588.8 L1030.7,590.1 L1032.1,591.3 L1033.4,592.5 L1034.7,593.7 L1036.1,594.8 L1037.4,595.9 L1038.8,597.0 L1040.1,598.0 L1041.4,599.0 L1042.8,600.0 L1044.1,600.9 L1045.4,601.8 L1046.8,602.7 L1048.1,603.6 L1049.5,604.4 L1050.8,605.2 L1052.1,606.0 L1053.5,606.8 L1054.8,607.5 L1056.1,608.2 L1057.5,608.9 L1058.8,609.6 L1060.2,610.3 L1061.5,610.9 L1062.8,611.5 L1064.2,612.1 L1065.5,612.7 L1066.8,613.3 L1068.2,613.8 L1069.5,614.4 L1070.9,614.9 L1072.2,615.4 L1073.5,615.9 L1074.9,616.4 L1076.2,616.8 L1077.5,617.3 L1078.9,617.7 L1080.2,618.1 L1081.6,618.5 L1082.9,618.9 L1084.2,619.3 L1085.6,619.7 L1086.9,620.1 L1088.2,620.4 L1089.6,620.8 L1090.9,621.1 L1092.3,621.4 L1093.6,621.7 L1094.9,622.0 L1096.3,622.3 L1097.6,622.6 L1098.9,622.9 L1100.3,623.2 L1101.6,623.4 L1103.0,623.7 L1104.3,623.9 L1105.6,624.2 L1107.0,624.4 L1108.3,624.6 L1109.6,624.8 L1111.0,625.1 L1112.3,625.3 L1113.7,625.5 L1115.0,625.7 L1116.3,625.8 L1117.7,626.0 L1119.0,626.2 L1120.3,626.4 L1121.7,626.5 L1123.0,626.7 L1124.4,626.9 L1125.7,627.0 L1127.0,627.2 L1128.4,627.3 L1129.7,627.5 L1131.0,627.6 L1132.4,627.7 L1133.7,627.8 L1135.1,628.0 L1136.4,628.1 L1137.7,628.2 L1139.1,628.3 L1140.4,628.4 L1141.8,628.5 L1143.1,628.6 L1144.4,628.7 L1145.8,628.8 L1147.1,628.9 L1148.4,629.0 L1149.8,629.1 L1151.1,629.2 L1152.5,629.3 L1153.8,629.4 L1155.1,629.5 L1156.5,629.5 L1157.8,629.6 L1159.1,629.7 L1160.5,629.8 L1161.8,629.8 L1163.2,629.9 L1164.5,630.0 L1165.8,630.0 L1167.2,630.1 L1168.5,630.1 L1169.8,630.2 L1171.2,630.2 L1172.5,630.3 L1173.9,630.4 L1175.2,630.4 L1176.5,630.5 L1177.9,630.5 L1179.2,630.5 L1180.5,630.6 L1181.9,630.6 L1183.2,630.7 L1184.6,630.7 L1185.9,630.8 L1187.2,630.8 L1188.6,630.8 L1189.9,630.9 L1191.2,630.9 L1192.6,630.9 L1193.9,631.0 L1195.3,631.0 L1196.6,631.0 L1197.9,631.1 L1199.3,631.1 L1200.6,631.1 L1201.9,631.2 L1203.3,631.2 L1204.6,631.2 L1206.0,631.2 L1207.3,631.3 L1208.6,631.3 L1210.0,631.3 L1211.3,631.3 L1212.6,631.4 L1214.0,631.4 L1215.3,631.4 L1216.7,631.4 L1218.0,631.4 L1219.3,631.5 L1220.7,631.5 L1222.0,631.5 L1223.3,631.5 L1224.7,631.5 L1226.0,631.5 L1227.4,631.6 L1228.7,631.6 L1230.0,631.6 L1231.4,631.6 L1232.7,631.6 L1234.0,631.6 L1235.4,631.7 L1236.7,631.7 L1238.1,631.7 L1239.4,631.7 L1240.7,631.7" stroke="#f26060" stroke-width="2.5" fill="none" stroke-dasharray="4.5,6"/>
<path d="M971.1,517.8 V471.9 M971.1,463.3 V417.4 M968.9,517.8 h4.4 M968.9,417.4 h4.4" stroke="#e83c3c" stroke-width="1.8" fill="none"/>
<circle cx="971.1" cy="467.6" r="4.3" fill="none" stroke="#e83c3c" stroke-width="2.1"/>
<path d="M1006.5,628.3 V597.5 M1006.5,588.9 V558.0 M1004.3,628.3 h4.4 M1004.3,558.0 h4.4" stroke="#e83c3c" stroke-width="1.8" fill="none"/>
<circle cx="1006.5" cy="593.2" r="4.3" fill="none" stroke="#e83c3c" stroke-width="2.1"/>
<path d="M1061.0,618.3 V610.0 M1061.0,601.4 V593.2 M1058.8,618.3 h4.4 M1058.8,593.2 h4.4" stroke="#e83c3c" stroke-width="1.8" fill="none"/>
<circle cx="1061.0" cy="605.7" r="4.3" fill="none" stroke="#e83c3c" stroke-width="2.1"/>
<circle cx="1150.9" cy="632.3" r="4.3" fill="none" stroke="#e83c3c" stroke-width="2.1"/>
<path d="M971.1,623.8 V621.3 M971.1,612.7 V610.2 M968.9,623.8 h4.4 M968.9,610.2 h4.4" stroke="#3a3ae0" stroke-width="1.8" fill="none"/>
<circle cx="971.1" cy="617.0" r="4.3" fill="none" stroke="#3a3ae0" stroke-width="2.1"/>
<path d="M1006.5,623.8 V621.3 M1006.5,612.7 V610.2 M1004.3,623.8 h4.4 M1004.3,610.2 h4.4" stroke="#3a3ae0" stroke-width="1.8" fill="none"/>
<circle cx="1006.5" cy="617.0" r="4.3" fill="none" stroke="#3a3ae0" stroke-width="2.1"/>
<path d="M1061.0,617.0 V613.8 M1061.0,605.2 V602.0 M1058.8,617.0 h4.4 M1058.8,602.0 h4.4" stroke="#3a3ae0" stroke-width="1.8" fill="none"/>
<circle cx="1061.0" cy="609.5" r="4.3" fill="none" stroke="#3a3ae0" stroke-width="2.1"/>
<circle cx="1150.9" cy="623.3" r="4.3" fill="none" stroke="#3a3ae0" stroke-width="2.1"/>
<circle cx="1240.7" cy="629.6" r="4.3" fill="none" stroke="#3a3ae0" stroke-width="2.1"/>
<circle cx="1037.9" cy="435.4" r="4" fill="none" stroke="#e83c3c" stroke-width="1.6"/>
<circle cx="1037.9" cy="463.8" r="4" fill="none" stroke="#3a3ae0" stroke-width="1.6"/>
<text x="1055.5" y="440.3" font-size="19.8" text-anchor="start" fill="#303030" stroke="#303030" stroke-width="0.6" textLength="139.5" lengthAdjust="spacingAndGlyphs">Electrolysis on</text>
<text x="1055.5" y="467.9" font-size="19.8" text-anchor="start" fill="#303030" stroke="#303030" stroke-width="0.6" textLength="140.1" lengthAdjust="spacingAndGlyphs">Electrolysis off</text>
</g></g></svg></body></html>
